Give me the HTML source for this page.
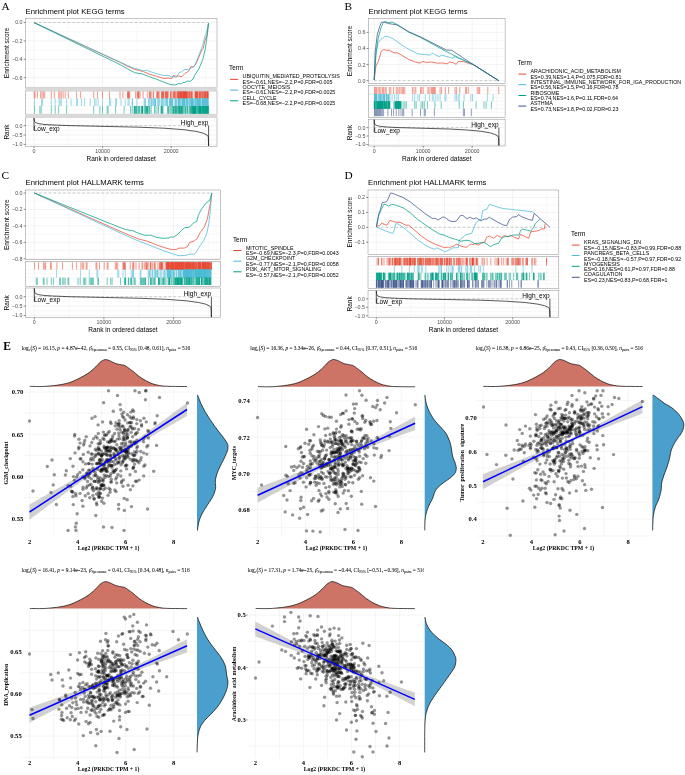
<!DOCTYPE html>
<html lang="en"><head><meta charset="utf-8"><title>Figure</title>
<style>html,body{margin:0;padding:0;background:#fff}svg{display:block}</style></head><body>
<svg width="685" height="775" viewBox="0 0 685 775">
<rect width="685" height="775" fill="#fff"/>
<g font-family="Liberation Sans, Arial, sans-serif">
<text x="1.5" y="9.5" font-size="11.3" font-family="Liberation Serif, Times New Roman, serif" fill="#000">A</text>
<text x="25.6" y="14.2" font-size="7.7" fill="#000">Enrichment plot KEGG terms</text>
<rect x="25.5" y="87.4" width="191.5" height="3.5" fill="#d4d4d4"/>
<rect x="25.5" y="114.2" width="191.5" height="3.5" fill="#d4d4d4"/>
<line x1="34" x2="34" y1="18.3" y2="87.4" stroke="#e6e6e6" stroke-width="0.5"/><line x1="68.3" x2="68.3" y1="18.3" y2="87.4" stroke="#f0f0f0" stroke-width="0.5"/><line x1="102.6" x2="102.6" y1="18.3" y2="87.4" stroke="#e6e6e6" stroke-width="0.5"/><line x1="136.9" x2="136.9" y1="18.3" y2="87.4" stroke="#f0f0f0" stroke-width="0.5"/><line x1="171.2" x2="171.2" y1="18.3" y2="87.4" stroke="#e6e6e6" stroke-width="0.5"/><line x1="205.5" x2="205.5" y1="18.3" y2="87.4" stroke="#f0f0f0" stroke-width="0.5"/><line x1="34" x2="34" y1="90.9" y2="114.2" stroke="#e6e6e6" stroke-width="0.5"/><line x1="68.3" x2="68.3" y1="90.9" y2="114.2" stroke="#f0f0f0" stroke-width="0.5"/><line x1="102.6" x2="102.6" y1="90.9" y2="114.2" stroke="#e6e6e6" stroke-width="0.5"/><line x1="136.9" x2="136.9" y1="90.9" y2="114.2" stroke="#f0f0f0" stroke-width="0.5"/><line x1="171.2" x2="171.2" y1="90.9" y2="114.2" stroke="#e6e6e6" stroke-width="0.5"/><line x1="205.5" x2="205.5" y1="90.9" y2="114.2" stroke="#f0f0f0" stroke-width="0.5"/><line x1="34" x2="34" y1="117.7" y2="146.3" stroke="#e6e6e6" stroke-width="0.5"/><line x1="68.3" x2="68.3" y1="117.7" y2="146.3" stroke="#f0f0f0" stroke-width="0.5"/><line x1="102.6" x2="102.6" y1="117.7" y2="146.3" stroke="#e6e6e6" stroke-width="0.5"/><line x1="136.9" x2="136.9" y1="117.7" y2="146.3" stroke="#f0f0f0" stroke-width="0.5"/><line x1="171.2" x2="171.2" y1="117.7" y2="146.3" stroke="#e6e6e6" stroke-width="0.5"/><line x1="205.5" x2="205.5" y1="117.7" y2="146.3" stroke="#f0f0f0" stroke-width="0.5"/><line x1="25.5" x2="217" y1="22.5" y2="22.5" stroke="#e6e6e6" stroke-width="0.5"/><line x1="25.5" x2="217" y1="31.7" y2="31.7" stroke="#f0f0f0" stroke-width="0.5"/><line x1="25.5" x2="217" y1="40.9" y2="40.9" stroke="#e6e6e6" stroke-width="0.5"/><line x1="25.5" x2="217" y1="50.1" y2="50.1" stroke="#f0f0f0" stroke-width="0.5"/><line x1="25.5" x2="217" y1="59.3" y2="59.3" stroke="#e6e6e6" stroke-width="0.5"/><line x1="25.5" x2="217" y1="68.5" y2="68.5" stroke="#f0f0f0" stroke-width="0.5"/><line x1="25.5" x2="217" y1="77.7" y2="77.7" stroke="#e6e6e6" stroke-width="0.5"/><line x1="25.5" x2="217" y1="86.9" y2="86.9" stroke="#f0f0f0" stroke-width="0.5"/><line x1="25.5" x2="217" y1="120.9" y2="120.9" stroke="#f0f0f0" stroke-width="0.5"/><line x1="25.5" x2="217" y1="125.6" y2="125.6" stroke="#e6e6e6" stroke-width="0.5"/><line x1="25.5" x2="217" y1="130.3" y2="130.3" stroke="#f0f0f0" stroke-width="0.5"/><line x1="25.5" x2="217" y1="135" y2="135" stroke="#e6e6e6" stroke-width="0.5"/><line x1="25.5" x2="217" y1="139.7" y2="139.7" stroke="#f0f0f0" stroke-width="0.5"/><line x1="25.5" x2="217" y1="144.4" y2="144.4" stroke="#e6e6e6" stroke-width="0.5"/><line x1="25.5" x2="217" y1="94.8" y2="94.8" stroke="#f0f0f0" stroke-width="0.5"/><line x1="25.5" x2="217" y1="91.3" y2="91.3" stroke="#ececec" stroke-width="0.4"/><line x1="25.5" x2="217" y1="102.2" y2="102.2" stroke="#f0f0f0" stroke-width="0.5"/><line x1="25.5" x2="217" y1="98.4" y2="98.4" stroke="#ececec" stroke-width="0.4"/><line x1="25.5" x2="217" y1="109.9" y2="109.9" stroke="#f0f0f0" stroke-width="0.5"/><line x1="25.5" x2="217" y1="106" y2="106" stroke="#ececec" stroke-width="0.4"/>
<line x1="34" x2="208.6" y1="22.5" y2="22.5" stroke="#b4b4b4" stroke-width="0.7" stroke-dasharray="2.4 2.4"/>
<line x1="34" x2="208.6" y1="125.6" y2="125.6" stroke="#b4b4b4" stroke-width="0.7" stroke-dasharray="2.4 2.4"/>
<polyline fill="none" stroke="#E64B35" stroke-width="0.75" stroke-linejoin="round" points="34,22.6 120,62.4 127.3,66.1 134.6,69.3 143.4,71.6 149.2,74.1 156.5,76.3 163.8,78.5 168.2,78.1 171.8,78.5 173.3,75.6 176.2,76.3 178.4,76 182,76.6 185,73.4 188.6,71.2 190.8,66.8 193.7,66.8 195.9,63.9 198.8,57.3 201.8,50 203.2,48.3 204.7,41.3 206.9,35.4 208.3,23.8"/>
<polyline fill="none" stroke="#4DBBD5" stroke-width="0.75" stroke-linejoin="round" points="34,22.6 120,62 127.3,65.4 134.6,68.3 143.4,70.8 146.3,70.2 152.1,72.2 158,74.1 163.8,75.6 168.2,75.3 171.8,77 174,76.3 176.2,77.5 179.1,72.7 181.3,71.9 185,69.3 188.6,69.7 191.5,67.8 194.5,66.1 196.6,61 199.6,53.2 202.5,45.9 204.7,36.9 206.1,34 208.3,23.8"/>
<polyline fill="none" stroke="#00A087" stroke-width="0.75" stroke-linejoin="round" points="34,22.6 120,64.6 127.3,68.7 134.6,72.7 141.9,73.8 149.2,76.6 156.5,79.2 163.8,82.2 169.6,84.3 174.7,85.1 178.4,83.6 181.3,83.9 182.8,82.4 185,82.4 187.2,81 190.1,81.4 193,79.2 194.5,75.6 198.8,69 202.5,60.3 205.4,48.6 207.6,32.5 208.6,23"/>
<path d="M127.5 91.3V98.4M129.4 91.3V98.4M135.6 91.3V98.4M127.7 91.3V98.4M128.5 91.3V98.4M129.8 91.3V98.4M122.9 91.3V98.4M128.5 91.3V98.4M149.9 91.3V98.4M153.2 91.3V98.4M138.8 91.3V98.4M143.1 91.3V98.4M138.8 91.3V98.4M153.6 91.3V98.4M151.2 91.3V98.4M137.8 91.3V98.4M157.1 91.3V98.4M156.8 91.3V98.4M150.4 91.3V98.4M149.6 91.3V98.4M140.1 91.3V98.4M137.2 91.3V98.4M147.8 91.3V98.4M138.1 91.3V98.4M161.4 91.3V98.4M162.5 91.3V98.4M158.1 91.3V98.4M167 91.3V98.4M166.5 91.3V98.4M174.8 91.3V98.4M168.2 91.3V98.4M170.7 91.3V98.4M167.8 91.3V98.4M171.1 91.3V98.4M166.9 91.3V98.4M163.2 91.3V98.4M178 91.3V98.4M178 91.3V98.4M174.8 91.3V98.4M172 91.3V98.4M164 91.3V98.4M162.2 91.3V98.4M163.4 91.3V98.4M158.9 91.3V98.4M173.3 91.3V98.4M165.7 91.3V98.4M174.9 91.3V98.4M165.4 91.3V98.4M177.2 91.3V98.4M174.9 91.3V98.4M157.5 91.3V98.4M161.8 91.3V98.4M176.2 91.3V98.4M167.2 91.3V98.4M177.7 91.3V98.4M165.7 91.3V98.4M159 91.3V98.4M170.4 91.3V98.4M173.5 91.3V98.4M163 91.3V98.4M180.7 91.3V98.4M188.2 91.3V98.4M207.5 91.3V98.4M201.2 91.3V98.4M181.7 91.3V98.4M185.6 91.3V98.4M181.1 91.3V98.4M179.9 91.3V98.4M202.4 91.3V98.4M183.5 91.3V98.4M195.1 91.3V98.4M191.7 91.3V98.4M183.9 91.3V98.4M200.4 91.3V98.4M182.1 91.3V98.4M197.7 91.3V98.4M181.6 91.3V98.4M190.9 91.3V98.4M184.6 91.3V98.4M186.3 91.3V98.4M207.7 91.3V98.4M202.6 91.3V98.4M187.3 91.3V98.4M205.1 91.3V98.4M184.5 91.3V98.4M190.1 91.3V98.4M204.1 91.3V98.4M197.7 91.3V98.4M181.1 91.3V98.4M208.3 91.3V98.4M184.6 91.3V98.4M185.9 91.3V98.4M201.6 91.3V98.4M188.1 91.3V98.4M187.1 91.3V98.4M180.3 91.3V98.4M180.8 91.3V98.4M195.8 91.3V98.4M185.5 91.3V98.4M196.4 91.3V98.4M189.4 91.3V98.4M191.9 91.3V98.4M207.3 91.3V98.4M192.8 91.3V98.4M195.6 91.3V98.4M204.5 91.3V98.4M183.6 91.3V98.4M182.8 91.3V98.4M205.8 91.3V98.4M203 91.3V98.4M185.7 91.3V98.4M183.9 91.3V98.4M200.6 91.3V98.4M206.8 91.3V98.4M184.1 91.3V98.4M207.1 91.3V98.4M205 91.3V98.4M196.5 91.3V98.4M190.9 91.3V98.4M181.2 91.3V98.4M179.2 91.3V98.4M207.4 91.3V98.4M185.3 91.3V98.4M199.6 91.3V98.4M185.9 91.3V98.4M203.2 91.3V98.4M196.3 91.3V98.4M187 91.3V98.4M183.4 91.3V98.4M200.1 91.3V98.4M180.2 91.3V98.4M185 91.3V98.4M195.1 91.3V98.4M204.1 91.3V98.4M196.8 91.3V98.4M186.6 91.3V98.4M206.1 91.3V98.4M184.3 91.3V98.4M178.6 91.3V98.4M186.3 91.3V98.4M191.7 91.3V98.4M179.9 91.3V98.4M183.4 91.3V98.4M189.3 91.3V98.4M195.5 91.3V98.4M182.1 91.3V98.4M189.1 91.3V98.4M205.3 91.3V98.4M208 91.3V98.4M198.1 91.3V98.4M199.2 91.3V98.4M195.9 91.3V98.4M182.3 91.3V98.4M179.1 91.3V98.4M178.6 91.3V98.4M205.8 91.3V98.4M199.5 91.3V98.4M207.5 91.3V98.4M178.7 91.3V98.4M197.5 91.3V98.4M34.2 91.3V98.4M35 91.3V98.4M37.3 91.3V98.4M40.6 91.3V98.4M42 91.3V98.4M43.4 91.3V98.4M44.7 91.3V98.4M51.3 91.3V98.4M54.3 91.3V98.4M58.7 91.3V98.4M59.9 91.3V98.4M61.3 91.3V98.4M63.1 91.3V98.4M65.2 91.3V98.4M68.3 91.3V98.4M76.6 91.3V98.4M80.6 91.3V98.4M93.7 91.3V98.4M97.6 91.3V98.4M102.5 91.3V98.4M109.5 91.3V98.4M120 91.3V98.4" stroke="#E64B35" stroke-width="0.65" stroke-opacity="0.85" fill="none"/>
<path d="M128 98.4V106M132.3 98.4V106M125.2 98.4V106M136.9 98.4V106M121 98.4V106M129.1 98.4V106M132.4 98.4V106M155.4 98.4V106M152.1 98.4V106M151.4 98.4V106M153.2 98.4V106M155.7 98.4V106M144.1 98.4V106M151 98.4V106M155.4 98.4V106M154.8 98.4V106M145.5 98.4V106M153.2 98.4V106M154.7 98.4V106M148.7 98.4V106M149.8 98.4V106M144.8 98.4V106M148.9 98.4V106M170 98.4V106M159.1 98.4V106M170.6 98.4V106M177.9 98.4V106M175.6 98.4V106M172.5 98.4V106M165.5 98.4V106M172.6 98.4V106M169.4 98.4V106M166.5 98.4V106M174.7 98.4V106M159.2 98.4V106M172.9 98.4V106M158.1 98.4V106M169.9 98.4V106M167.4 98.4V106M162.2 98.4V106M171.9 98.4V106M167.7 98.4V106M170.1 98.4V106M176.4 98.4V106M162.7 98.4V106M157.7 98.4V106M163.7 98.4V106M171.4 98.4V106M161.6 98.4V106M161 98.4V106M176.1 98.4V106M171.1 98.4V106M166.6 98.4V106M175.8 98.4V106M164.2 98.4V106M198.4 98.4V106M184.1 98.4V106M191.2 98.4V106M202.7 98.4V106M206 98.4V106M204.9 98.4V106M189.8 98.4V106M195.9 98.4V106M187.7 98.4V106M182.2 98.4V106M193.2 98.4V106M203.6 98.4V106M204 98.4V106M199.8 98.4V106M207.1 98.4V106M186.5 98.4V106M183.2 98.4V106M191.8 98.4V106M186.5 98.4V106M184.6 98.4V106M190.7 98.4V106M197.2 98.4V106M193.1 98.4V106M187.7 98.4V106M203.7 98.4V106M208 98.4V106M191.9 98.4V106M180.3 98.4V106M179 98.4V106M204.7 98.4V106M179.3 98.4V106M199.7 98.4V106M195.5 98.4V106M187.5 98.4V106M202.2 98.4V106M178.6 98.4V106M182.2 98.4V106M191.9 98.4V106M178.8 98.4V106M203.4 98.4V106M185.3 98.4V106M182.4 98.4V106M179.5 98.4V106M197.3 98.4V106M191.7 98.4V106M197.3 98.4V106M198.1 98.4V106M202.7 98.4V106M207.3 98.4V106M199 98.4V106M184.1 98.4V106M192.6 98.4V106M183.5 98.4V106M178.4 98.4V106M192.5 98.4V106M199.9 98.4V106M183.5 98.4V106M186.4 98.4V106M188.6 98.4V106M199.3 98.4V106M193.9 98.4V106M196.8 98.4V106M201.1 98.4V106M190.1 98.4V106M202.2 98.4V106M205.7 98.4V106M180.7 98.4V106M206.5 98.4V106M200.1 98.4V106M182 98.4V106M191.9 98.4V106M197.2 98.4V106M205.8 98.4V106M189.6 98.4V106M195.4 98.4V106M204.9 98.4V106M202.4 98.4V106M206.9 98.4V106M192.2 98.4V106M197.9 98.4V106M184.3 98.4V106M200.1 98.4V106M203 98.4V106M197.6 98.4V106M200 98.4V106M184.6 98.4V106M205.5 98.4V106M208 98.4V106M207.9 98.4V106M194.5 98.4V106M34.5 98.4V106M41.5 98.4V106M42.6 98.4V106M51.3 98.4V106M55.2 98.4V106M59 98.4V106M60.1 98.4V106M61.3 98.4V106M66.6 98.4V106M71 98.4V106M76.6 98.4V106M77.6 98.4V106M81.5 98.4V106M84.6 98.4V106M90.2 98.4V106M94.6 98.4V106M96 98.4V106M98.1 98.4V106M102.5 98.4V106M109.5 98.4V106M110.7 98.4V106M115.6 98.4V106M116.5 98.4V106" stroke="#4DBBD5" stroke-width="0.65" stroke-opacity="0.85" fill="none"/>
<path d="M130.6 106V113.8M124.1 106V113.8M132.2 106V113.8M148.1 106V113.8M139.4 106V113.8M134.9 106V113.8M141 106V113.8M142.9 106V113.8M146.6 106V113.8M141.8 106V113.8M134 106V113.8M147.3 106V113.8M134.6 106V113.8M147.2 106V113.8M136.4 106V113.8M139.2 106V113.8M147 106V113.8M135.9 106V113.8M136 106V113.8M142.3 106V113.8M145.9 106V113.8M147.9 106V113.8M145.3 106V113.8M149.7 106V113.8M141.9 106V113.8M149.7 106V113.8M134.9 106V113.8M137.3 106V113.8M142.5 106V113.8M138.4 106V113.8M146 106V113.8M144.4 106V113.8M142.4 106V113.8M168 106V113.8M162.1 106V113.8M157 106V113.8M158.5 106V113.8M168 106V113.8M169.2 106V113.8M154.9 106V113.8M168.1 106V113.8M170.6 106V113.8M161.4 106V113.8M162.4 106V113.8M154.8 106V113.8M161.6 106V113.8M161 106V113.8M163.1 106V113.8M151.2 106V113.8M191.2 106V113.8M181.8 106V113.8M179.4 106V113.8M187.7 106V113.8M182.8 106V113.8M181.3 106V113.8M185.4 106V113.8M172.6 106V113.8M182.3 106V113.8M179.7 106V113.8M190.9 106V113.8M190.2 106V113.8M176.7 106V113.8M180.9 106V113.8M173.8 106V113.8M180.1 106V113.8M188 106V113.8M189.7 106V113.8M181 106V113.8M177.7 106V113.8M175.1 106V113.8M183.9 106V113.8M190.2 106V113.8M173.9 106V113.8M187.2 106V113.8M171.7 106V113.8M175.2 106V113.8M175.9 106V113.8M185.3 106V113.8M177.8 106V113.8M178.5 106V113.8M184 106V113.8M173.4 106V113.8M186.2 106V113.8M173.7 106V113.8M181.7 106V113.8M176.4 106V113.8M175.3 106V113.8M182.1 106V113.8M180.2 106V113.8M178.9 106V113.8M179.7 106V113.8M200.7 106V113.8M194.5 106V113.8M195.2 106V113.8M202.4 106V113.8M202.5 106V113.8M200.7 106V113.8M206.1 106V113.8M202.1 106V113.8M206.2 106V113.8M195.7 106V113.8M204.2 106V113.8M205.4 106V113.8M207 106V113.8M197.1 106V113.8M197.1 106V113.8M207.3 106V113.8M195.4 106V113.8M208.6 106V113.8M206.7 106V113.8M194 106V113.8M195.8 106V113.8M204 106V113.8M196.1 106V113.8M193.4 106V113.8M205.8 106V113.8M198.9 106V113.8M205.1 106V113.8M193.9 106V113.8M198.5 106V113.8M203.3 106V113.8M192.1 106V113.8M195.2 106V113.8M203.2 106V113.8M207.1 106V113.8M208.1 106V113.8M193.7 106V113.8M200.3 106V113.8M204.5 106V113.8M200.2 106V113.8M203.3 106V113.8M195 106V113.8M193 106V113.8M193.6 106V113.8M192.4 106V113.8M201.1 106V113.8M200.4 106V113.8M201.3 106V113.8M194.2 106V113.8M194.9 106V113.8M195.2 106V113.8M205.9 106V113.8M208.4 106V113.8M207.4 106V113.8M193.4 106V113.8M192.8 106V113.8M207.8 106V113.8M199.5 106V113.8M204.6 106V113.8M197.3 106V113.8M199.6 106V113.8M200.4 106V113.8M199 106V113.8M201.9 106V113.8M192 106V113.8M203.6 106V113.8M206 106V113.8M194.8 106V113.8M199.4 106V113.8M204.2 106V113.8M198.6 106V113.8M195.1 106V113.8M194.6 106V113.8M200.4 106V113.8M192 106V113.8M206.8 106V113.8M34.5 106V113.8M39.9 106V113.8M41.2 106V113.8M51.3 106V113.8M55.2 106V113.8M58.7 106V113.8M66.6 106V113.8M93.7 106V113.8M99.9 106V113.8M102.5 106V113.8M107.2 106V113.8M108.1 106V113.8M115.6 106V113.8" stroke="#00A087" stroke-width="0.65" stroke-opacity="0.85" fill="none"/>
<polyline fill="none" stroke="#111" stroke-width="0.7" points="34,130.3 34,118 34.3,120 34.7,121.5 35.5,122.6 38,123.5 43,124.3 52,124.9 69,125.6 104,126.4 139,127.2 164,128.2 184,129.7 196,131.4 203,133.1 207,135 208.3,136.9 208.6,146 208.6,125.6"/>
<text x="33.7" y="130.7" font-size="6.5" fill="#000">Low_exp</text>
<text x="208.3" y="125.2" font-size="6.5" fill="#000" text-anchor="end">High_exp</text>
<rect x="25.5" y="18.3" width="191.5" height="69.1" fill="none" stroke="#8a8a8a" stroke-width="0.5"/>
<rect x="25.5" y="90.9" width="191.5" height="23.3" fill="none" stroke="#8a8a8a" stroke-width="0.5"/>
<rect x="25.5" y="117.7" width="191.5" height="28.6" fill="none" stroke="#8a8a8a" stroke-width="0.5"/>
<rect x="25.2" y="87.1" width="192.1" height="4.1" fill="#d9d9d9"/>
<rect x="25.2" y="113.9" width="192.1" height="4.1" fill="#d9d9d9"/>
<line x1="23.6" x2="25.5" y1="22.5" y2="22.5" stroke="#333" stroke-width="0.55"/><text x="22.5" y="24.4" font-size="5.3" fill="#4d4d4d" text-anchor="end">0.0</text><line x1="23.6" x2="25.5" y1="40.9" y2="40.9" stroke="#333" stroke-width="0.55"/><text x="22.5" y="42.8" font-size="5.3" fill="#4d4d4d" text-anchor="end">−0.2</text><line x1="23.6" x2="25.5" y1="59.3" y2="59.3" stroke="#333" stroke-width="0.55"/><text x="22.5" y="61.2" font-size="5.3" fill="#4d4d4d" text-anchor="end">−0.4</text><line x1="23.6" x2="25.5" y1="77.7" y2="77.7" stroke="#333" stroke-width="0.55"/><text x="22.5" y="79.6" font-size="5.3" fill="#4d4d4d" text-anchor="end">−0.6</text><line x1="23.6" x2="25.5" y1="125.6" y2="125.6" stroke="#333" stroke-width="0.55"/><text x="22.5" y="127.5" font-size="5.3" fill="#4d4d4d" text-anchor="end">0.0</text><line x1="23.6" x2="25.5" y1="135" y2="135" stroke="#333" stroke-width="0.55"/><text x="22.5" y="136.9" font-size="5.3" fill="#4d4d4d" text-anchor="end">−0.5</text><line x1="23.6" x2="25.5" y1="144.4" y2="144.4" stroke="#333" stroke-width="0.55"/><text x="22.5" y="146.3" font-size="5.3" fill="#4d4d4d" text-anchor="end">−1.0</text><line x1="34" x2="34" y1="146.3" y2="148.2" stroke="#333" stroke-width="0.55"/><text x="34" y="153" font-size="5.3" fill="#4d4d4d" text-anchor="middle">0</text><line x1="102.6" x2="102.6" y1="146.3" y2="148.2" stroke="#333" stroke-width="0.55"/><text x="102.6" y="153" font-size="5.3" fill="#4d4d4d" text-anchor="middle">10000</text><line x1="171.2" x2="171.2" y1="146.3" y2="148.2" stroke="#333" stroke-width="0.55"/><text x="171.2" y="153" font-size="5.3" fill="#4d4d4d" text-anchor="middle">20000</text>
<text x="121.2" y="160.9" font-size="6.5" fill="#000" text-anchor="middle">Rank in ordered dataset</text>
<text transform="translate(9 52.9) rotate(-90)" font-size="6.5" fill="#000" text-anchor="middle">Enrichment score</text>
<text transform="translate(9 132) rotate(-90)" font-size="6.5" fill="#000" text-anchor="middle">Rank</text>
<text x="229" y="70" font-size="6.4" fill="#000">Term</text>
<line x1="230" x2="238.2" y1="79.4" y2="79.4" stroke="#E64B35" stroke-width="1"/>
<text x="242.6" y="78.4" font-size="5.33" fill="#000">UBIQUITIN_MEDIATED_PROTEOLYSIS</text>
<text x="242.6" y="83.7" font-size="5.33" fill="#000">ES=−0.61,NES=−2.2,P=0,FDR=0.005</text>
<line x1="230" x2="238.2" y1="90.1" y2="90.1" stroke="#4DBBD5" stroke-width="1"/>
<text x="242.6" y="88.9" font-size="5.33" fill="#000">OOCYTE_MEIOSIS</text>
<text x="242.6" y="94.4" font-size="5.33" fill="#000">ES=−0.61,NES=−2.2,P=0,FDR=0.0025</text>
<line x1="230" x2="238.2" y1="100.8" y2="100.8" stroke="#00A087" stroke-width="1"/>
<text x="242.6" y="99.6" font-size="5.33" fill="#000">CELL_CYCLE</text>
<text x="242.6" y="105" font-size="5.33" fill="#000">ES=−0.68,NES=−2.2,P=0,FDR=0.0025</text>
</g>
<g font-family="Liberation Sans, Arial, sans-serif">
<text x="344.5" y="9.5" font-size="11.3" font-family="Liberation Serif, Times New Roman, serif" fill="#000">B</text>
<text x="368.5" y="14.2" font-size="7.7" fill="#000">Enrichment plot KEGG terms</text>
<line x1="374.2" x2="374.2" y1="18.3" y2="83.4" stroke="#e6e6e6" stroke-width="0.5"/><line x1="398.7" x2="398.7" y1="18.3" y2="83.4" stroke="#f0f0f0" stroke-width="0.5"/><line x1="423.2" x2="423.2" y1="18.3" y2="83.4" stroke="#e6e6e6" stroke-width="0.5"/><line x1="447.7" x2="447.7" y1="18.3" y2="83.4" stroke="#f0f0f0" stroke-width="0.5"/><line x1="472.2" x2="472.2" y1="18.3" y2="83.4" stroke="#e6e6e6" stroke-width="0.5"/><line x1="496.7" x2="496.7" y1="18.3" y2="83.4" stroke="#f0f0f0" stroke-width="0.5"/><line x1="374.2" x2="374.2" y1="85.2" y2="117.6" stroke="#e6e6e6" stroke-width="0.5"/><line x1="398.7" x2="398.7" y1="85.2" y2="117.6" stroke="#f0f0f0" stroke-width="0.5"/><line x1="423.2" x2="423.2" y1="85.2" y2="117.6" stroke="#e6e6e6" stroke-width="0.5"/><line x1="447.7" x2="447.7" y1="85.2" y2="117.6" stroke="#f0f0f0" stroke-width="0.5"/><line x1="472.2" x2="472.2" y1="85.2" y2="117.6" stroke="#e6e6e6" stroke-width="0.5"/><line x1="496.7" x2="496.7" y1="85.2" y2="117.6" stroke="#f0f0f0" stroke-width="0.5"/><line x1="374.2" x2="374.2" y1="119.2" y2="146" stroke="#e6e6e6" stroke-width="0.5"/><line x1="398.7" x2="398.7" y1="119.2" y2="146" stroke="#f0f0f0" stroke-width="0.5"/><line x1="423.2" x2="423.2" y1="119.2" y2="146" stroke="#e6e6e6" stroke-width="0.5"/><line x1="447.7" x2="447.7" y1="119.2" y2="146" stroke="#f0f0f0" stroke-width="0.5"/><line x1="472.2" x2="472.2" y1="119.2" y2="146" stroke="#e6e6e6" stroke-width="0.5"/><line x1="496.7" x2="496.7" y1="119.2" y2="146" stroke="#f0f0f0" stroke-width="0.5"/><line x1="368.4" x2="505.1" y1="24.4" y2="24.4" stroke="#f0f0f0" stroke-width="0.5"/><line x1="368.4" x2="505.1" y1="32.4" y2="32.4" stroke="#e6e6e6" stroke-width="0.5"/><line x1="368.4" x2="505.1" y1="40.5" y2="40.5" stroke="#f0f0f0" stroke-width="0.5"/><line x1="368.4" x2="505.1" y1="48.5" y2="48.5" stroke="#e6e6e6" stroke-width="0.5"/><line x1="368.4" x2="505.1" y1="56.5" y2="56.5" stroke="#f0f0f0" stroke-width="0.5"/><line x1="368.4" x2="505.1" y1="64.5" y2="64.5" stroke="#e6e6e6" stroke-width="0.5"/><line x1="368.4" x2="505.1" y1="72.6" y2="72.6" stroke="#f0f0f0" stroke-width="0.5"/><line x1="368.4" x2="505.1" y1="80.6" y2="80.6" stroke="#e6e6e6" stroke-width="0.5"/><line x1="368.4" x2="505.1" y1="123.4" y2="123.4" stroke="#f0f0f0" stroke-width="0.5"/><line x1="368.4" x2="505.1" y1="127.6" y2="127.6" stroke="#e6e6e6" stroke-width="0.5"/><line x1="368.4" x2="505.1" y1="131.8" y2="131.8" stroke="#f0f0f0" stroke-width="0.5"/><line x1="368.4" x2="505.1" y1="136" y2="136" stroke="#e6e6e6" stroke-width="0.5"/><line x1="368.4" x2="505.1" y1="140.3" y2="140.3" stroke="#f0f0f0" stroke-width="0.5"/><line x1="368.4" x2="505.1" y1="144.5" y2="144.5" stroke="#e6e6e6" stroke-width="0.5"/><line x1="368.4" x2="505.1" y1="90.5" y2="90.5" stroke="#f0f0f0" stroke-width="0.5"/><line x1="368.4" x2="505.1" y1="87" y2="87" stroke="#ececec" stroke-width="0.4"/><line x1="368.4" x2="505.1" y1="97.7" y2="97.7" stroke="#f0f0f0" stroke-width="0.5"/><line x1="368.4" x2="505.1" y1="94" y2="94" stroke="#ececec" stroke-width="0.4"/><line x1="368.4" x2="505.1" y1="105" y2="105" stroke="#f0f0f0" stroke-width="0.5"/><line x1="368.4" x2="505.1" y1="101.3" y2="101.3" stroke="#ececec" stroke-width="0.4"/><line x1="368.4" x2="505.1" y1="112.5" y2="112.5" stroke="#f0f0f0" stroke-width="0.5"/><line x1="368.4" x2="505.1" y1="108.7" y2="108.7" stroke="#ececec" stroke-width="0.4"/>
<line x1="374.2" x2="498.9" y1="80.6" y2="80.6" stroke="#b4b4b4" stroke-width="0.7" stroke-dasharray="2.4 2.4"/>
<line x1="374.2" x2="498.9" y1="127.6" y2="127.6" stroke="#b4b4b4" stroke-width="0.7" stroke-dasharray="2.4 2.4"/>
<polyline fill="none" stroke="#E64B35" stroke-width="0.75" stroke-linejoin="round" points="374.2,80 375.9,66.1 378.1,61.7 379.6,57.3 381.1,51.5 383.2,49.7 386.9,50.3 389.1,50 394.2,53 397.1,52.7 401.5,55.1 408.8,59.5 414.6,61.7 420,63.2 422.9,61.4 425.8,62.4 431.7,62 437.5,63.2 441.9,62.9 447,63.9 449.9,62 453.6,62.9 456.2,64.3 458.2,61.4 463.8,61.7 468.2,63.2 473.3,64.6 498.8,80.7"/>
<polyline fill="none" stroke="#4DBBD5" stroke-width="0.75" stroke-linejoin="round" points="374.2,80 375.9,51.5 378.1,42.7 381.1,39.1 383.2,37.6 385.4,36.2 389.1,36.9 394.2,39.5 401.5,44.9 408.8,49.3 417.6,53.7 420,54.1 425.8,54.7 430.2,55.1 432.4,53.2 434.6,54.4 439,56.6 441.9,55.1 445.5,56.2 450.7,57.6 452.8,58.5 453.9,56.5 463.8,60.3 473.3,64.6 498.8,80.7"/>
<polyline fill="none" stroke="#00A087" stroke-width="0.75" stroke-linejoin="round" points="374.2,80 375.9,55.9 378.1,38.4 381.1,27.4 382.8,23.5 384.7,21.6 388.4,22.6 392,22 397.1,24.5 408.8,32.2 420,37.2 446.3,51.5 463.8,60.3 469.6,62.9 473.3,64.6 498.8,80.7"/>
<polyline fill="none" stroke="#3C5488" stroke-width="0.75" stroke-linejoin="round" points="374.2,80 375.2,51.5 377.4,34 379.6,26.7 381.4,22.3 384,22 388.4,23.5 397.1,24.9 408.8,31.8 420,36.6 446.3,50 451.8,50.3 462.3,57.3 473.3,64.6 498.8,80.7"/>
<path d="M374.5 87V94M375.6 87V94M376.6 87V94M378.1 87V94M379.4 87V94M380.9 87V94M382.4 87V94M383.6 87V94M385.1 87V94M386.2 87V94M389.3 87V94M390.8 87V94M393.6 87V94M396.3 87V94M397.8 87V94M399.3 87V94M401 87V94M402.3 87V94M403.5 87V94M404.8 87V94M412.6 87V94M414.1 87V94M415.8 87V94M420.5 87V94M421.7 87V94M423.2 87V94M427.9 87V94M429.1 87V94M431 87V94M431.9 87V94M432.7 87V94M433.6 87V94M434.4 87V94M435.3 87V94M440.1 87V94M441.6 87V94M445.4 87V94M448.6 87V94M455 87V94M456.4 87V94M459.8 87V94M465.6 87V94M466.6 87V94M468.3 87V94M477.2 87V94M478.7 87V94M479.7 87V94M487.8 87V94M498.8 87V94" stroke="#E64B35" stroke-width="0.65" stroke-opacity="0.85" fill="none"/>
<path d="M381.4 94V101.3M384.2 94V101.3M384.3 94V101.3M376.4 94V101.3M374.4 94V101.3M379.9 94V101.3M378.4 94V101.3M386.5 94V101.3M384.7 94V101.3M383.3 94V101.3M382.7 94V101.3M384.2 94V101.3M376.4 94V101.3M380.9 94V101.3M376.7 94V101.3M388 94V101.3M375.1 94V101.3M386.6 94V101.3M375.3 94V101.3M384.6 94V101.3M379.3 94V101.3M380.3 94V101.3M387 94V101.3M374.5 94V101.3M375.1 94V101.3M388.1 94V101.3M381.9 94V101.3M375.6 94V101.3M389.2 94V101.3M388.6 94V101.3M375.9 94V101.3M380.6 94V101.3M376.3 94V101.3M378.9 94V101.3M383.6 94V101.3M376.7 94V101.3M384.8 94V101.3M375 94V101.3M376.8 94V101.3M386.6 94V101.3M388.3 94V101.3M390 94V101.3M392.1 94V101.3M394.6 94V101.3M396.8 94V101.3M398.4 94V101.3M412.6 94V101.3M414.7 94V101.3M417.9 94V101.3M419.6 94V101.3M425.3 94V101.3M429.6 94V101.3M432.3 94V101.3M433.8 94V101.3M435.9 94V101.3M438 94V101.3M440.1 94V101.3M445 94V101.3M445.9 94V101.3M455 94V101.3M456.4 94V101.3M458.1 94V101.3M459.2 94V101.3M464.1 94V101.3M470.8 94V101.3M472.5 94V101.3M487.4 94V101.3M493.1 94V101.3" stroke="#4DBBD5" stroke-width="0.65" stroke-opacity="0.85" fill="none"/>
<path d="M380.5 101.3V108.7M380.8 101.3V108.7M383.5 101.3V108.7M381.7 101.3V108.7M380.2 101.3V108.7M374.7 101.3V108.7M385.6 101.3V108.7M389.4 101.3V108.7M389.5 101.3V108.7M384.6 101.3V108.7M379.8 101.3V108.7M379.9 101.3V108.7M385 101.3V108.7M384.8 101.3V108.7M376 101.3V108.7M377.9 101.3V108.7M379.9 101.3V108.7M382.2 101.3V108.7M386.9 101.3V108.7M382 101.3V108.7M374.6 101.3V108.7M387.1 101.3V108.7M380.9 101.3V108.7M382.3 101.3V108.7M377.7 101.3V108.7M380.9 101.3V108.7M380.3 101.3V108.7M386.3 101.3V108.7M375.8 101.3V108.7M382.8 101.3V108.7M377 101.3V108.7M385.1 101.3V108.7M374.8 101.3V108.7M378.5 101.3V108.7M379.6 101.3V108.7M384.2 101.3V108.7M375 101.3V108.7M381.4 101.3V108.7M377.5 101.3V108.7M378.6 101.3V108.7M381.7 101.3V108.7M389.2 101.3V108.7M381.7 101.3V108.7M389.2 101.3V108.7M376.8 101.3V108.7M388.7 101.3V108.7M379.9 101.3V108.7M377.2 101.3V108.7M385.9 101.3V108.7M388.5 101.3V108.7M374.3 101.3V108.7M378.4 101.3V108.7M386.3 101.3V108.7M379.6 101.3V108.7M378 101.3V108.7M374.3 101.3V108.7M374.8 101.3V108.7M383.9 101.3V108.7M389.6 101.3V108.7M389.9 101.3V108.7M382.1 101.3V108.7M374.6 101.3V108.7M379.3 101.3V108.7M386.5 101.3V108.7M387.2 101.3V108.7M384.2 101.3V108.7M377.8 101.3V108.7M382.5 101.3V108.7M381.7 101.3V108.7M384 101.3V108.7M378.3 101.3V108.7M389 101.3V108.7M388.2 101.3V108.7M376.7 101.3V108.7M378.8 101.3V108.7M387.9 101.3V108.7M378.6 101.3V108.7M389 101.3V108.7M382.3 101.3V108.7M385.1 101.3V108.7M398.6 101.3V108.7M395.3 101.3V108.7M395.8 101.3V108.7M395.5 101.3V108.7M398.5 101.3V108.7M398.6 101.3V108.7M394.7 101.3V108.7M399.9 101.3V108.7M396.7 101.3V108.7M395.5 101.3V108.7M396.8 101.3V108.7M400.5 101.3V108.7M397.6 101.3V108.7M398.1 101.3V108.7M400.1 101.3V108.7M400.4 101.3V108.7M399 101.3V108.7M396.7 101.3V108.7M397.8 101.3V108.7M400 101.3V108.7M399.2 101.3V108.7M397.8 101.3V108.7M396.2 101.3V108.7M396.3 101.3V108.7M398.8 101.3V108.7M397.7 101.3V108.7M393.9 101.3V108.7M398.7 101.3V108.7M400 101.3V108.7M399.3 101.3V108.7M396.8 101.3V108.7M398.4 101.3V108.7M399.9 101.3V108.7M401.4 101.3V108.7M403.1 101.3V108.7M404.8 101.3V108.7M406.3 101.3V108.7M414.7 101.3V108.7M416.2 101.3V108.7M421.1 101.3V108.7M422.6 101.3V108.7M424.3 101.3V108.7M427.4 101.3V108.7M434.9 101.3V108.7M441.2 101.3V108.7M459.2 101.3V108.7M463.4 101.3V108.7M476.1 101.3V108.7M484 101.3V108.7M486.1 101.3V108.7M491.4 101.3V108.7" stroke="#00A087" stroke-width="0.65" stroke-opacity="0.85" fill="none"/>
<path d="M374.5 108.7V116.2M375.2 108.7V116.2M375.8 108.7V116.2M376.6 108.7V116.2M377.3 108.7V116.2M378.1 108.7V116.2M378.8 108.7V116.2M379.6 108.7V116.2M380.5 108.7V116.2M381.3 108.7V116.2M382.4 108.7V116.2M383.6 108.7V116.2M387.9 108.7V116.2M391.5 108.7V116.2M393.6 108.7V116.2M396.3 108.7V116.2M398.9 108.7V116.2M401 108.7V116.2M402.7 108.7V116.2M403.7 108.7V116.2M412.2 108.7V116.2M420.5 108.7V116.2M424.3 108.7V116.2M425.3 108.7V116.2M434.4 108.7V116.2M463.4 108.7V116.2M464.5 108.7V116.2M471.3 108.7V116.2" stroke="#3C5488" stroke-width="0.65" stroke-opacity="0.85" fill="none"/>
<polyline fill="none" stroke="#111" stroke-width="0.7" points="374.2,131.8 374.2,119.5 374.4,122.5 374.7,123.9 375.3,124.9 377.1,125.7 380.6,126.4 387.1,127 399.2,127.6 424.2,128.3 449.2,129 467.1,130 481.3,131.3 489.9,132.8 494.9,134.4 497.8,136 498.6,137.7 498.9,145.7 498.9,127.6"/>
<text x="373.9" y="132.7" font-size="6.5" fill="#000">Low_exp</text>
<text x="498.6" y="127.2" font-size="6.5" fill="#000" text-anchor="end">High_exp</text>
<rect x="368.4" y="18.3" width="136.7" height="65.1" fill="none" stroke="#8a8a8a" stroke-width="0.5"/>
<rect x="368.4" y="85.2" width="136.7" height="32.4" fill="none" stroke="#8a8a8a" stroke-width="0.5"/>
<rect x="368.4" y="119.2" width="136.7" height="26.8" fill="none" stroke="#8a8a8a" stroke-width="0.5"/>
<line x1="366.5" x2="368.4" y1="80.6" y2="80.6" stroke="#333" stroke-width="0.55"/><text x="365.4" y="82.5" font-size="5.3" fill="#4d4d4d" text-anchor="end">0.0</text><line x1="366.5" x2="368.4" y1="64.5" y2="64.5" stroke="#333" stroke-width="0.55"/><text x="365.4" y="66.5" font-size="5.3" fill="#4d4d4d" text-anchor="end">0.2</text><line x1="366.5" x2="368.4" y1="48.5" y2="48.5" stroke="#333" stroke-width="0.55"/><text x="365.4" y="50.4" font-size="5.3" fill="#4d4d4d" text-anchor="end">0.4</text><line x1="366.5" x2="368.4" y1="32.4" y2="32.4" stroke="#333" stroke-width="0.55"/><text x="365.4" y="34.3" font-size="5.3" fill="#4d4d4d" text-anchor="end">0.6</text><line x1="366.5" x2="368.4" y1="127.6" y2="127.6" stroke="#333" stroke-width="0.55"/><text x="365.4" y="129.5" font-size="5.3" fill="#4d4d4d" text-anchor="end">0.0</text><line x1="366.5" x2="368.4" y1="136" y2="136" stroke="#333" stroke-width="0.55"/><text x="365.4" y="137.9" font-size="5.3" fill="#4d4d4d" text-anchor="end">−0.5</text><line x1="366.5" x2="368.4" y1="144.5" y2="144.5" stroke="#333" stroke-width="0.55"/><text x="365.4" y="146.4" font-size="5.3" fill="#4d4d4d" text-anchor="end">−1.0</text><line x1="374.2" x2="374.2" y1="146" y2="147.9" stroke="#333" stroke-width="0.55"/><text x="374.2" y="152.7" font-size="5.3" fill="#4d4d4d" text-anchor="middle">0</text><line x1="423.2" x2="423.2" y1="146" y2="147.9" stroke="#333" stroke-width="0.55"/><text x="423.2" y="152.7" font-size="5.3" fill="#4d4d4d" text-anchor="middle">10000</text><line x1="472.2" x2="472.2" y1="146" y2="147.9" stroke="#333" stroke-width="0.55"/><text x="472.2" y="152.7" font-size="5.3" fill="#4d4d4d" text-anchor="middle">20000</text>
<text x="436.8" y="160.6" font-size="6.5" fill="#000" text-anchor="middle">Rank in ordered dataset</text>
<text transform="translate(352 50.9) rotate(-90)" font-size="6.5" fill="#000" text-anchor="middle">Enrichment score</text>
<text transform="translate(352 132.6) rotate(-90)" font-size="6.5" fill="#000" text-anchor="middle">Rank</text>
<text x="517.6" y="64.7" font-size="6.4" fill="#000">Term</text>
<line x1="518.4" x2="526.2" y1="74.1" y2="74.1" stroke="#E64B35" stroke-width="1"/>
<text x="530.5" y="73" font-size="5.33" fill="#000">ARACHIDONIC_ACID_METABOLISM</text>
<text x="530.5" y="78.9" font-size="5.33" fill="#000">ES=0.39,NES=1.4,P=0.075,FDR=0.81</text>
<line x1="518.4" x2="526.2" y1="84.7" y2="84.7" stroke="#4DBBD5" stroke-width="1"/>
<text x="530.5" y="84.2" font-size="5.33" fill="#000">INTESTINAL_IMMUNE_NETWORK_FOR_IGA_PRODUCTION</text>
<text x="530.5" y="88.9" font-size="5.33" fill="#000">ES=0.56,NES=1.5,P=0.16,FDR=0.78</text>
<line x1="518.4" x2="526.2" y1="95.5" y2="95.5" stroke="#00A087" stroke-width="1"/>
<text x="530.5" y="94.7" font-size="5.33" fill="#000">RIBOSOME</text>
<text x="530.5" y="99.7" font-size="5.33" fill="#000">ES=0.74,NES=1.6,P=0.11,FDR=0.64</text>
<line x1="518.4" x2="526.2" y1="106.1" y2="106.1" stroke="#3C5488" stroke-width="1"/>
<text x="530.5" y="104.9" font-size="5.33" fill="#000">ASTHMA</text>
<text x="530.5" y="110.8" font-size="5.33" fill="#000">ES=0.73,NES=1.8,P=0.02,FDR=0.23</text>
</g>
<g font-family="Liberation Sans, Arial, sans-serif">
<text x="1.5" y="178.5" font-size="11.3" font-family="Liberation Serif, Times New Roman, serif" fill="#000">C</text>
<text x="25.6" y="184.8" font-size="7.7" fill="#000">Enrichment plot HALLMARK terms</text>
<line x1="34.3" x2="34.3" y1="190" y2="259.4" stroke="#e6e6e6" stroke-width="0.5"/><line x1="69.1" x2="69.1" y1="190" y2="259.4" stroke="#f0f0f0" stroke-width="0.5"/><line x1="103.9" x2="103.9" y1="190" y2="259.4" stroke="#e6e6e6" stroke-width="0.5"/><line x1="138.7" x2="138.7" y1="190" y2="259.4" stroke="#f0f0f0" stroke-width="0.5"/><line x1="173.5" x2="173.5" y1="190" y2="259.4" stroke="#e6e6e6" stroke-width="0.5"/><line x1="208.3" x2="208.3" y1="190" y2="259.4" stroke="#f0f0f0" stroke-width="0.5"/><line x1="34.3" x2="34.3" y1="261.4" y2="286.3" stroke="#e6e6e6" stroke-width="0.5"/><line x1="69.1" x2="69.1" y1="261.4" y2="286.3" stroke="#f0f0f0" stroke-width="0.5"/><line x1="103.9" x2="103.9" y1="261.4" y2="286.3" stroke="#e6e6e6" stroke-width="0.5"/><line x1="138.7" x2="138.7" y1="261.4" y2="286.3" stroke="#f0f0f0" stroke-width="0.5"/><line x1="173.5" x2="173.5" y1="261.4" y2="286.3" stroke="#e6e6e6" stroke-width="0.5"/><line x1="208.3" x2="208.3" y1="261.4" y2="286.3" stroke="#f0f0f0" stroke-width="0.5"/><line x1="34.3" x2="34.3" y1="288" y2="317.5" stroke="#e6e6e6" stroke-width="0.5"/><line x1="69.1" x2="69.1" y1="288" y2="317.5" stroke="#f0f0f0" stroke-width="0.5"/><line x1="103.9" x2="103.9" y1="288" y2="317.5" stroke="#e6e6e6" stroke-width="0.5"/><line x1="138.7" x2="138.7" y1="288" y2="317.5" stroke="#f0f0f0" stroke-width="0.5"/><line x1="173.5" x2="173.5" y1="288" y2="317.5" stroke="#e6e6e6" stroke-width="0.5"/><line x1="208.3" x2="208.3" y1="288" y2="317.5" stroke="#f0f0f0" stroke-width="0.5"/><line x1="25.5" x2="220.4" y1="193" y2="193" stroke="#e6e6e6" stroke-width="0.5"/><line x1="25.5" x2="220.4" y1="201.2" y2="201.2" stroke="#f0f0f0" stroke-width="0.5"/><line x1="25.5" x2="220.4" y1="209.4" y2="209.4" stroke="#e6e6e6" stroke-width="0.5"/><line x1="25.5" x2="220.4" y1="217.7" y2="217.7" stroke="#f0f0f0" stroke-width="0.5"/><line x1="25.5" x2="220.4" y1="225.9" y2="225.9" stroke="#e6e6e6" stroke-width="0.5"/><line x1="25.5" x2="220.4" y1="234.1" y2="234.1" stroke="#f0f0f0" stroke-width="0.5"/><line x1="25.5" x2="220.4" y1="242.3" y2="242.3" stroke="#e6e6e6" stroke-width="0.5"/><line x1="25.5" x2="220.4" y1="250.6" y2="250.6" stroke="#f0f0f0" stroke-width="0.5"/><line x1="25.5" x2="220.4" y1="258.8" y2="258.8" stroke="#e6e6e6" stroke-width="0.5"/><line x1="25.5" x2="220.4" y1="292" y2="292" stroke="#f0f0f0" stroke-width="0.5"/><line x1="25.5" x2="220.4" y1="296.7" y2="296.7" stroke="#e6e6e6" stroke-width="0.5"/><line x1="25.5" x2="220.4" y1="301.4" y2="301.4" stroke="#f0f0f0" stroke-width="0.5"/><line x1="25.5" x2="220.4" y1="306.1" y2="306.1" stroke="#e6e6e6" stroke-width="0.5"/><line x1="25.5" x2="220.4" y1="310.8" y2="310.8" stroke="#f0f0f0" stroke-width="0.5"/><line x1="25.5" x2="220.4" y1="315.5" y2="315.5" stroke="#e6e6e6" stroke-width="0.5"/><line x1="25.5" x2="220.4" y1="266" y2="266" stroke="#f0f0f0" stroke-width="0.5"/><line x1="25.5" x2="220.4" y1="262.3" y2="262.3" stroke="#ececec" stroke-width="0.4"/><line x1="25.5" x2="220.4" y1="273.6" y2="273.6" stroke="#f0f0f0" stroke-width="0.5"/><line x1="25.5" x2="220.4" y1="269.6" y2="269.6" stroke="#ececec" stroke-width="0.4"/><line x1="25.5" x2="220.4" y1="281.4" y2="281.4" stroke="#f0f0f0" stroke-width="0.5"/><line x1="25.5" x2="220.4" y1="277.7" y2="277.7" stroke="#ececec" stroke-width="0.4"/>
<line x1="34.3" x2="211.4" y1="193" y2="193" stroke="#b4b4b4" stroke-width="0.7" stroke-dasharray="2.4 2.4"/>
<line x1="34.3" x2="211.4" y1="296.7" y2="296.7" stroke="#b4b4b4" stroke-width="0.7" stroke-dasharray="2.4 2.4"/>
<polyline fill="none" stroke="#E64B35" stroke-width="0.75" stroke-linejoin="round" points="34.3,193 120,231.2 129.2,235.2 138.4,238.9 147.6,241.3 156.8,245 166,248.1 172.1,249.6 176.7,249.3 179,248.1 184.4,248.1 187.4,246.6 189.7,242.4 194.3,240.9 197.4,238.3 199.7,233.2 204.3,227.1 207.4,218.7 209.7,206.4 211.2,198.7 211.7,192.9"/>
<polyline fill="none" stroke="#4DBBD5" stroke-width="0.75" stroke-linejoin="round" points="34.3,193 120,232.8 129.2,237 138.4,240.9 147.6,244.4 156.8,248.1 166,251.6 173.6,254.2 179,255.7 185.9,255.4 189,254.2 194.3,254.2 196.6,251.6 199.7,246.2 203.5,240.9 206.6,234 208.9,223.3 210.4,209.5 211.7,192.9"/>
<polyline fill="none" stroke="#00A087" stroke-width="0.75" stroke-linejoin="round" points="34.3,193 120,227.5 126.1,229.7 132.3,230.6 138.4,233.2 144.5,235.2 150.7,235.2 156.8,237.4 162.9,238.3 169,238 170.6,237 173.6,237 178.2,234 181.3,230.6 184.4,227.9 189.7,227.1 192.8,223.6 195.1,222 196.6,221.7 198.2,215.6 201.2,209.5 205.8,203.3 209.7,200.3 210.7,197.2 211.7,192.9"/>
<path d="M125.3 262.3V269.6M133 262.3V269.6M133 262.3V269.6M136 262.3V269.6M124 262.3V269.6M124.8 262.3V269.6M123.3 262.3V269.6M124.7 262.3V269.6M133.9 262.3V269.6M123 262.3V269.6M130.2 262.3V269.6M144.7 262.3V269.6M146.9 262.3V269.6M150.7 262.3V269.6M162 262.3V269.6M155.6 262.3V269.6M139.1 262.3V269.6M146.4 262.3V269.6M142.8 262.3V269.6M163 262.3V269.6M161.2 262.3V269.6M161.1 262.3V269.6M161.7 262.3V269.6M159.4 262.3V269.6M165.1 262.3V269.6M160.8 262.3V269.6M145.8 262.3V269.6M162.4 262.3V269.6M152.3 262.3V269.6M159.7 262.3V269.6M154.4 262.3V269.6M150.7 262.3V269.6M148.8 262.3V269.6M150.7 262.3V269.6M147.4 262.3V269.6M142 262.3V269.6M161.5 262.3V269.6M160.9 262.3V269.6M166.1 262.3V269.6M157.9 262.3V269.6M154.1 262.3V269.6M200.1 262.3V269.6M172.6 262.3V269.6M196.9 262.3V269.6M186.4 262.3V269.6M174.5 262.3V269.6M175.6 262.3V269.6M190 262.3V269.6M177.9 262.3V269.6M187.2 262.3V269.6M193.7 262.3V269.6M184.3 262.3V269.6M172.4 262.3V269.6M188.6 262.3V269.6M177.1 262.3V269.6M177.1 262.3V269.6M175.3 262.3V269.6M183 262.3V269.6M169.8 262.3V269.6M195.8 262.3V269.6M209.4 262.3V269.6M184 262.3V269.6M198.8 262.3V269.6M208.4 262.3V269.6M168.5 262.3V269.6M172.9 262.3V269.6M202.7 262.3V269.6M204.2 262.3V269.6M195.2 262.3V269.6M173.7 262.3V269.6M185.1 262.3V269.6M205.5 262.3V269.6M206.3 262.3V269.6M202.6 262.3V269.6M175.7 262.3V269.6M204.9 262.3V269.6M183.4 262.3V269.6M198.7 262.3V269.6M172.7 262.3V269.6M210.1 262.3V269.6M193.6 262.3V269.6M199 262.3V269.6M176 262.3V269.6M194.2 262.3V269.6M192.6 262.3V269.6M193.1 262.3V269.6M182.7 262.3V269.6M199.2 262.3V269.6M181.9 262.3V269.6M179.8 262.3V269.6M173.9 262.3V269.6M197.2 262.3V269.6M171.6 262.3V269.6M176.7 262.3V269.6M169.6 262.3V269.6M195.4 262.3V269.6M191.5 262.3V269.6M190.9 262.3V269.6M168.3 262.3V269.6M186.3 262.3V269.6M181.9 262.3V269.6M170.7 262.3V269.6M166.7 262.3V269.6M211.3 262.3V269.6M172 262.3V269.6M180.1 262.3V269.6M178.6 262.3V269.6M193.4 262.3V269.6M170 262.3V269.6M187.6 262.3V269.6M183 262.3V269.6M204 262.3V269.6M166.8 262.3V269.6M181.6 262.3V269.6M188.8 262.3V269.6M210.1 262.3V269.6M189.7 262.3V269.6M187.8 262.3V269.6M196.6 262.3V269.6M179.9 262.3V269.6M168 262.3V269.6M189 262.3V269.6M207.4 262.3V269.6M199.7 262.3V269.6M178.1 262.3V269.6M197.2 262.3V269.6M204.7 262.3V269.6M178.1 262.3V269.6M192.9 262.3V269.6M182.5 262.3V269.6M177.5 262.3V269.6M179.4 262.3V269.6M175.7 262.3V269.6M182.3 262.3V269.6M168.3 262.3V269.6M184.4 262.3V269.6M170.4 262.3V269.6M200.6 262.3V269.6M193.5 262.3V269.6M166.7 262.3V269.6M201.3 262.3V269.6M175.1 262.3V269.6M188.1 262.3V269.6M191.4 262.3V269.6M181.5 262.3V269.6M179.5 262.3V269.6M186.1 262.3V269.6M172.7 262.3V269.6M205.3 262.3V269.6M171.6 262.3V269.6M203.5 262.3V269.6M176.3 262.3V269.6M180.2 262.3V269.6M184 262.3V269.6M168 262.3V269.6M172.3 262.3V269.6M182.7 262.3V269.6M186.4 262.3V269.6M205.9 262.3V269.6M211 262.3V269.6M168.5 262.3V269.6M190.6 262.3V269.6M172.3 262.3V269.6M202.6 262.3V269.6M181 262.3V269.6M206.6 262.3V269.6M191 262.3V269.6M172.2 262.3V269.6M166.8 262.3V269.6M177.7 262.3V269.6M205.5 262.3V269.6M173.3 262.3V269.6M188 262.3V269.6M183.2 262.3V269.6M182 262.3V269.6M202.5 262.3V269.6M176.1 262.3V269.6M198.8 262.3V269.6M196.5 262.3V269.6M208.5 262.3V269.6M189.9 262.3V269.6M207.9 262.3V269.6M186.3 262.3V269.6M192.3 262.3V269.6M194.4 262.3V269.6M204.2 262.3V269.6M206.8 262.3V269.6M171.7 262.3V269.6M172.7 262.3V269.6M190.5 262.3V269.6M203 262.3V269.6M190.5 262.3V269.6M180 262.3V269.6M209.7 262.3V269.6M179.9 262.3V269.6M170.4 262.3V269.6M168.9 262.3V269.6M167.9 262.3V269.6M199.2 262.3V269.6M171.4 262.3V269.6M198.7 262.3V269.6M205.4 262.3V269.6M211.4 262.3V269.6M202.9 262.3V269.6M185.6 262.3V269.6M194.5 262.3V269.6M203.9 262.3V269.6M198.7 262.3V269.6M179.6 262.3V269.6M200.7 262.3V269.6M171.5 262.3V269.6M180.4 262.3V269.6M211.3 262.3V269.6M187.7 262.3V269.6M178.6 262.3V269.6M201.8 262.3V269.6M186.7 262.3V269.6M166.7 262.3V269.6M167.9 262.3V269.6M178.2 262.3V269.6M181.4 262.3V269.6M208.6 262.3V269.6M177.6 262.3V269.6M204.7 262.3V269.6M204.9 262.3V269.6M185.2 262.3V269.6M211.1 262.3V269.6M200.7 262.3V269.6M188.3 262.3V269.6M178.3 262.3V269.6M187.2 262.3V269.6M207 262.3V269.6M190.6 262.3V269.6M175.2 262.3V269.6M183.4 262.3V269.6M187.9 262.3V269.6M175.1 262.3V269.6M192.3 262.3V269.6M168.1 262.3V269.6M203.4 262.3V269.6M174.6 262.3V269.6M171.2 262.3V269.6M193 262.3V269.6M180.3 262.3V269.6M206.3 262.3V269.6M188.8 262.3V269.6M189.9 262.3V269.6M204 262.3V269.6M176.2 262.3V269.6M200 262.3V269.6M195.7 262.3V269.6M185.8 262.3V269.6M209.6 262.3V269.6M167.5 262.3V269.6M205.2 262.3V269.6M173 262.3V269.6M204.2 262.3V269.6M173.4 262.3V269.6M168.9 262.3V269.6M189 262.3V269.6M208.1 262.3V269.6M178.1 262.3V269.6M188.4 262.3V269.6M193.8 262.3V269.6M177.5 262.3V269.6M190.3 262.3V269.6M167 262.3V269.6M186.7 262.3V269.6M200.6 262.3V269.6M181.8 262.3V269.6M176.4 262.3V269.6M168.8 262.3V269.6M198 262.3V269.6M185.7 262.3V269.6M207.6 262.3V269.6M199.8 262.3V269.6M171 262.3V269.6M207.6 262.3V269.6M208.4 262.3V269.6M203.2 262.3V269.6M203.9 262.3V269.6M34.5 262.3V269.6M38.5 262.3V269.6M43.4 262.3V269.6M44.7 262.3V269.6M45.6 262.3V269.6M50.5 262.3V269.6M51.3 262.3V269.6M56.9 262.3V269.6M62.5 262.3V269.6M72.4 262.3V269.6M76.6 262.3V269.6M80.9 262.3V269.6M82.3 262.3V269.6M83.7 262.3V269.6M86.2 262.3V269.6M87.1 262.3V269.6M96 262.3V269.6M96.9 262.3V269.6M99.5 262.3V269.6M104.2 262.3V269.6M107.2 262.3V269.6M108.1 262.3V269.6M115.3 262.3V269.6M116.5 262.3V269.6M117.7 262.3V269.6" stroke="#E64B35" stroke-width="0.65" stroke-opacity="0.85" fill="none"/>
<path d="M132.9 269.6V277.7M133.6 269.6V277.7M132.7 269.6V277.7M131.3 269.6V277.7M125.3 269.6V277.7M123 269.6V277.7M158.9 269.6V277.7M155.3 269.6V277.7M140.3 269.6V277.7M156.6 269.6V277.7M155.7 269.6V277.7M152.9 269.6V277.7M160.3 269.6V277.7M163.1 269.6V277.7M149.3 269.6V277.7M161.4 269.6V277.7M152.6 269.6V277.7M154.6 269.6V277.7M150.2 269.6V277.7M164.7 269.6V277.7M151.1 269.6V277.7M165.2 269.6V277.7M148.1 269.6V277.7M157.4 269.6V277.7M164.1 269.6V277.7M157.7 269.6V277.7M149.1 269.6V277.7M140.9 269.6V277.7M174.9 269.6V277.7M173.7 269.6V277.7M180.7 269.6V277.7M180.2 269.6V277.7M183.7 269.6V277.7M174.3 269.6V277.7M173.7 269.6V277.7M176.4 269.6V277.7M179.6 269.6V277.7M167.9 269.6V277.7M170.3 269.6V277.7M169.1 269.6V277.7M172.2 269.6V277.7M171.8 269.6V277.7M183.4 269.6V277.7M170.2 269.6V277.7M182.8 269.6V277.7M171.7 269.6V277.7M170.1 269.6V277.7M183.5 269.6V277.7M168.1 269.6V277.7M168.5 269.6V277.7M168.8 269.6V277.7M167.7 269.6V277.7M173.3 269.6V277.7M170.2 269.6V277.7M169.3 269.6V277.7M166.8 269.6V277.7M178.7 269.6V277.7M167.4 269.6V277.7M170.6 269.6V277.7M176.4 269.6V277.7M181.9 269.6V277.7M178 269.6V277.7M178.9 269.6V277.7M178.7 269.6V277.7M180.4 269.6V277.7M181.4 269.6V277.7M188.2 269.6V277.7M185.4 269.6V277.7M201 269.6V277.7M198.2 269.6V277.7M198.3 269.6V277.7M205.4 269.6V277.7M188.7 269.6V277.7M203.4 269.6V277.7M195.7 269.6V277.7M195.5 269.6V277.7M190.7 269.6V277.7M191.7 269.6V277.7M199.9 269.6V277.7M199.2 269.6V277.7M208.9 269.6V277.7M191.6 269.6V277.7M203.6 269.6V277.7M186.6 269.6V277.7M201.9 269.6V277.7M188.4 269.6V277.7M207.5 269.6V277.7M210.5 269.6V277.7M190.9 269.6V277.7M206.2 269.6V277.7M190 269.6V277.7M192.3 269.6V277.7M186.8 269.6V277.7M196.1 269.6V277.7M186.8 269.6V277.7M203.3 269.6V277.7M199.8 269.6V277.7M195.5 269.6V277.7M203.5 269.6V277.7M190.4 269.6V277.7M193.1 269.6V277.7M193.9 269.6V277.7M184 269.6V277.7M208.3 269.6V277.7M186.4 269.6V277.7M186.7 269.6V277.7M205.9 269.6V277.7M206.4 269.6V277.7M196.2 269.6V277.7M195.5 269.6V277.7M187.8 269.6V277.7M184 269.6V277.7M198.2 269.6V277.7M190.6 269.6V277.7M188.1 269.6V277.7M208.8 269.6V277.7M184.5 269.6V277.7M193.9 269.6V277.7M204.6 269.6V277.7M204.5 269.6V277.7M186.9 269.6V277.7M204.3 269.6V277.7M199.4 269.6V277.7M201.3 269.6V277.7M209.9 269.6V277.7M205.9 269.6V277.7M200.4 269.6V277.7M205.1 269.6V277.7M197.5 269.6V277.7M199.1 269.6V277.7M206.4 269.6V277.7M201 269.6V277.7M194.3 269.6V277.7M184.5 269.6V277.7M205.6 269.6V277.7M193.3 269.6V277.7M195.7 269.6V277.7M191.8 269.6V277.7M199.2 269.6V277.7M195 269.6V277.7M206.9 269.6V277.7M200.3 269.6V277.7M199.3 269.6V277.7M205.5 269.6V277.7M196 269.6V277.7M198.7 269.6V277.7M204.6 269.6V277.7M203.8 269.6V277.7M204.4 269.6V277.7M208.4 269.6V277.7M199.3 269.6V277.7M199.2 269.6V277.7M189.1 269.6V277.7M190.6 269.6V277.7M195.9 269.6V277.7M197.7 269.6V277.7M208.7 269.6V277.7M185.1 269.6V277.7M193.6 269.6V277.7M204.3 269.6V277.7M196.6 269.6V277.7M207.3 269.6V277.7M188.3 269.6V277.7M205.1 269.6V277.7M195.8 269.6V277.7M199.5 269.6V277.7M185.5 269.6V277.7M195 269.6V277.7M206 269.6V277.7M204.2 269.6V277.7M199.4 269.6V277.7M195.6 269.6V277.7M185 269.6V277.7M203.2 269.6V277.7M196.2 269.6V277.7M203.8 269.6V277.7M200.8 269.6V277.7M195 269.6V277.7M208 269.6V277.7M187.6 269.6V277.7M210.3 269.6V277.7M186.3 269.6V277.7M210.6 269.6V277.7M200.1 269.6V277.7M196.2 269.6V277.7M209.7 269.6V277.7M198 269.6V277.7M197.9 269.6V277.7M185.6 269.6V277.7M205.9 269.6V277.7M201.5 269.6V277.7M190.5 269.6V277.7M187.1 269.6V277.7M195.5 269.6V277.7M209.7 269.6V277.7M207.9 269.6V277.7M196.7 269.6V277.7M184.9 269.6V277.7M206.7 269.6V277.7M189.5 269.6V277.7M204 269.6V277.7M197.7 269.6V277.7M210.4 269.6V277.7M188 269.6V277.7M205.8 269.6V277.7M203.7 269.6V277.7M184.4 269.6V277.7M199.5 269.6V277.7M192 269.6V277.7M203.1 269.6V277.7M210.4 269.6V277.7M202.3 269.6V277.7M197.5 269.6V277.7M200.5 269.6V277.7M190.8 269.6V277.7M196.8 269.6V277.7M187.1 269.6V277.7M203.8 269.6V277.7M185.7 269.6V277.7M198.4 269.6V277.7M188.9 269.6V277.7M199.4 269.6V277.7M185.5 269.6V277.7M184.7 269.6V277.7M201.1 269.6V277.7M203.7 269.6V277.7M208.4 269.6V277.7M202.6 269.6V277.7M211.3 269.6V277.7M187.9 269.6V277.7M201.2 269.6V277.7M201.4 269.6V277.7M188.8 269.6V277.7M187.8 269.6V277.7M190.6 269.6V277.7M198.3 269.6V277.7M205.6 269.6V277.7M203.5 269.6V277.7M199.7 269.6V277.7M186.1 269.6V277.7M203.8 269.6V277.7M198 269.6V277.7M188.6 269.6V277.7M200.9 269.6V277.7M190.7 269.6V277.7M192.4 269.6V277.7M196.3 269.6V277.7M204.6 269.6V277.7M186.9 269.6V277.7M196.1 269.6V277.7M190.4 269.6V277.7M202.4 269.6V277.7M206.4 269.6V277.7M191.2 269.6V277.7M203.7 269.6V277.7M196.7 269.6V277.7M56.6 269.6V277.7M80.6 269.6V277.7M89.3 269.6V277.7M96.9 269.6V277.7M97.8 269.6V277.7M117.7 269.6V277.7M118.8 269.6V277.7" stroke="#4DBBD5" stroke-width="0.65" stroke-opacity="0.85" fill="none"/>
<path d="M124.5 277.7V285M125.6 277.7V285M130.3 277.7V285M135.2 277.7V285M131.5 277.7V285M120.6 277.7V285M134.7 277.7V285M131.1 277.7V285M128.3 277.7V285M125 277.7V285M128.6 277.7V285M133.1 277.7V285M125.5 277.7V285M143.5 277.7V285M169.3 277.7V285M154.1 277.7V285M141.2 277.7V285M169.7 277.7V285M142.5 277.7V285M151.4 277.7V285M160.2 277.7V285M161.8 277.7V285M170 277.7V285M144.8 277.7V285M158.5 277.7V285M169.3 277.7V285M155 277.7V285M163.6 277.7V285M154.9 277.7V285M163.6 277.7V285M172 277.7V285M150.5 277.7V285M164.3 277.7V285M150.7 277.7V285M169.6 277.7V285M165.3 277.7V285M168.6 277.7V285M169.1 277.7V285M159.4 277.7V285M171.8 277.7V285M144.1 277.7V285M158.7 277.7V285M141.3 277.7V285M159 277.7V285M162.6 277.7V285M148.6 277.7V285M167 277.7V285M153.2 277.7V285M145.6 277.7V285M145.4 277.7V285M158.8 277.7V285M152.1 277.7V285M140.3 277.7V285M185.1 277.7V285M210.5 277.7V285M191.4 277.7V285M199.4 277.7V285M189.7 277.7V285M176.2 277.7V285M196.7 277.7V285M181.5 277.7V285M178.1 277.7V285M196.9 277.7V285M199.1 277.7V285M173.9 277.7V285M209.4 277.7V285M174.3 277.7V285M179.8 277.7V285M186 277.7V285M203.7 277.7V285M201.7 277.7V285M201.7 277.7V285M189.8 277.7V285M208.1 277.7V285M178.6 277.7V285M209.9 277.7V285M175.4 277.7V285M179.3 277.7V285M202 277.7V285M202.7 277.7V285M199 277.7V285M182.9 277.7V285M206.4 277.7V285M193 277.7V285M181.3 277.7V285M177.2 277.7V285M211 277.7V285M175.6 277.7V285M181.8 277.7V285M187 277.7V285M207.4 277.7V285M205 277.7V285M205.4 277.7V285M197.4 277.7V285M173.9 277.7V285M201.5 277.7V285M180.7 277.7V285M209.4 277.7V285M210.3 277.7V285M176 277.7V285M201.2 277.7V285M182.7 277.7V285M177.5 277.7V285M206.7 277.7V285M190.3 277.7V285M184.7 277.7V285M194.7 277.7V285M175.9 277.7V285M189.6 277.7V285M198.1 277.7V285M206.3 277.7V285M178.1 277.7V285M207.4 277.7V285M177.5 277.7V285M181.3 277.7V285M186.2 277.7V285M179.9 277.7V285M177 277.7V285M198.4 277.7V285M188.6 277.7V285M180.7 277.7V285M193 277.7V285M178.2 277.7V285M199.3 277.7V285M210.1 277.7V285M191.2 277.7V285M189.5 277.7V285M188.6 277.7V285M187.4 277.7V285M189.2 277.7V285M180.3 277.7V285M184.7 277.7V285M199.7 277.7V285M191.7 277.7V285M176.1 277.7V285M179 277.7V285M205.4 277.7V285M186.9 277.7V285M205 277.7V285M196.9 277.7V285M197.2 277.7V285M187 277.7V285M195.5 277.7V285M189.2 277.7V285M193.1 277.7V285M209.3 277.7V285M177.6 277.7V285M181.6 277.7V285M207.8 277.7V285M208.7 277.7V285M204.3 277.7V285M206.1 277.7V285M177.4 277.7V285M36.3 277.7V285M37.3 277.7V285M43.3 277.7V285M44.1 277.7V285M47 277.7V285M51.3 277.7V285M53.4 277.7V285M59.6 277.7V285M60.4 277.7V285M62.7 277.7V285M63.9 277.7V285M65.2 277.7V285M68 277.7V285M68.7 277.7V285M78 277.7V285M80.2 277.7V285M83.7 277.7V285M84.6 277.7V285M85.8 277.7V285M89.3 277.7V285M90.6 277.7V285M91.5 277.7V285M92.5 277.7V285M93.4 277.7V285M97.8 277.7V285M98.5 277.7V285M107.2 277.7V285M110.7 277.7V285M112.1 277.7V285" stroke="#00A087" stroke-width="0.65" stroke-opacity="0.85" fill="none"/>
<polyline fill="none" stroke="#111" stroke-width="0.7" points="34.3,301.4 34.3,288.3 34.6,291.1 35,292.6 35.8,293.7 38.4,294.6 43.4,295.4 52.6,296 69.8,296.7 105.3,297.5 140.8,298.3 166.2,299.3 186.5,300.8 198.7,302.5 205.8,304.2 209.8,306.1 211.1,308 211.4,317.2 211.4,296.7"/>
<text x="34" y="301.8" font-size="6.5" fill="#000">Low_exp</text>
<text x="211.1" y="296.3" font-size="6.5" fill="#000" text-anchor="end">High_exp</text>
<rect x="25.5" y="190" width="194.9" height="69.4" fill="none" stroke="#8a8a8a" stroke-width="0.5"/>
<rect x="25.5" y="261.4" width="194.9" height="24.9" fill="none" stroke="#8a8a8a" stroke-width="0.5"/>
<rect x="25.5" y="288" width="194.9" height="29.5" fill="none" stroke="#8a8a8a" stroke-width="0.5"/>
<line x1="23.6" x2="25.5" y1="193" y2="193" stroke="#333" stroke-width="0.55"/><text x="22.5" y="194.9" font-size="5.3" fill="#4d4d4d" text-anchor="end">0.0</text><line x1="23.6" x2="25.5" y1="209.4" y2="209.4" stroke="#333" stroke-width="0.55"/><text x="22.5" y="211.3" font-size="5.3" fill="#4d4d4d" text-anchor="end">−0.2</text><line x1="23.6" x2="25.5" y1="225.9" y2="225.9" stroke="#333" stroke-width="0.55"/><text x="22.5" y="227.8" font-size="5.3" fill="#4d4d4d" text-anchor="end">−0.4</text><line x1="23.6" x2="25.5" y1="242.3" y2="242.3" stroke="#333" stroke-width="0.55"/><text x="22.5" y="244.2" font-size="5.3" fill="#4d4d4d" text-anchor="end">−0.6</text><line x1="23.6" x2="25.5" y1="258.8" y2="258.8" stroke="#333" stroke-width="0.55"/><text x="22.5" y="260.7" font-size="5.3" fill="#4d4d4d" text-anchor="end">−0.8</text><line x1="23.6" x2="25.5" y1="296.7" y2="296.7" stroke="#333" stroke-width="0.55"/><text x="22.5" y="298.6" font-size="5.3" fill="#4d4d4d" text-anchor="end">0.0</text><line x1="23.6" x2="25.5" y1="306.1" y2="306.1" stroke="#333" stroke-width="0.55"/><text x="22.5" y="308" font-size="5.3" fill="#4d4d4d" text-anchor="end">−0.5</text><line x1="23.6" x2="25.5" y1="315.5" y2="315.5" stroke="#333" stroke-width="0.55"/><text x="22.5" y="317.4" font-size="5.3" fill="#4d4d4d" text-anchor="end">−1.0</text><line x1="34.3" x2="34.3" y1="317.5" y2="319.4" stroke="#333" stroke-width="0.55"/><text x="34.3" y="324.2" font-size="5.3" fill="#4d4d4d" text-anchor="middle">0</text><line x1="103.9" x2="103.9" y1="317.5" y2="319.4" stroke="#333" stroke-width="0.55"/><text x="103.9" y="324.2" font-size="5.3" fill="#4d4d4d" text-anchor="middle">10000</text><line x1="173.5" x2="173.5" y1="317.5" y2="319.4" stroke="#333" stroke-width="0.55"/><text x="173.5" y="324.2" font-size="5.3" fill="#4d4d4d" text-anchor="middle">20000</text>
<text x="123" y="332.1" font-size="6.5" fill="#000" text-anchor="middle">Rank in ordered dataset</text>
<text transform="translate(9 224.7) rotate(-90)" font-size="6.5" fill="#000" text-anchor="middle">Enrichment score</text>
<text transform="translate(9 302.8) rotate(-90)" font-size="6.5" fill="#000" text-anchor="middle">Rank</text>
<text x="232.9" y="241.6" font-size="6.4" fill="#000">Term</text>
<line x1="233.3" x2="241.5" y1="250.5" y2="250.5" stroke="#E64B35" stroke-width="1"/>
<text x="245.9" y="249.8" font-size="5.33" fill="#000">MITOTIC_SPINDLE</text>
<text x="245.9" y="255.3" font-size="5.33" fill="#000">ES=−0.69,NES=−2.3,P=0,FDR=0.0043</text>
<line x1="233.3" x2="241.5" y1="261.2" y2="261.2" stroke="#4DBBD5" stroke-width="1"/>
<text x="245.9" y="259.8" font-size="5.33" fill="#000">G2M_CHECKPOINT</text>
<text x="245.9" y="266.2" font-size="5.33" fill="#000">ES=−0.77,NES=−2.1,P=0,FDR=0.0058</text>
<line x1="233.3" x2="241.5" y1="271.8" y2="271.8" stroke="#00A087" stroke-width="1"/>
<text x="245.9" y="270.5" font-size="5.33" fill="#000">PI3K_AKT_MTOR_SIGNALING</text>
<text x="245.9" y="276.6" font-size="5.33" fill="#000">ES=−0.57,NES=−2.1,P=0,FDR=0.0052</text>
</g>
<g font-family="Liberation Sans, Arial, sans-serif">
<text x="344.5" y="178.5" font-size="11.3" font-family="Liberation Serif, Times New Roman, serif" fill="#000">D</text>
<text x="368.1" y="184.8" font-size="7.7" fill="#000">Enrichment plot HALLMARK terms</text>
<line x1="376.3" x2="376.3" y1="190" y2="254.4" stroke="#e6e6e6" stroke-width="0.5"/><line x1="410.4" x2="410.4" y1="190" y2="254.4" stroke="#f0f0f0" stroke-width="0.5"/><line x1="444.5" x2="444.5" y1="190" y2="254.4" stroke="#e6e6e6" stroke-width="0.5"/><line x1="478.6" x2="478.6" y1="190" y2="254.4" stroke="#f0f0f0" stroke-width="0.5"/><line x1="512.7" x2="512.7" y1="190" y2="254.4" stroke="#e6e6e6" stroke-width="0.5"/><line x1="546.8" x2="546.8" y1="190" y2="254.4" stroke="#f0f0f0" stroke-width="0.5"/><line x1="376.3" x2="376.3" y1="256.3" y2="288.6" stroke="#e6e6e6" stroke-width="0.5"/><line x1="410.4" x2="410.4" y1="256.3" y2="288.6" stroke="#f0f0f0" stroke-width="0.5"/><line x1="444.5" x2="444.5" y1="256.3" y2="288.6" stroke="#e6e6e6" stroke-width="0.5"/><line x1="478.6" x2="478.6" y1="256.3" y2="288.6" stroke="#f0f0f0" stroke-width="0.5"/><line x1="512.7" x2="512.7" y1="256.3" y2="288.6" stroke="#e6e6e6" stroke-width="0.5"/><line x1="546.8" x2="546.8" y1="256.3" y2="288.6" stroke="#f0f0f0" stroke-width="0.5"/><line x1="376.3" x2="376.3" y1="290.4" y2="317.5" stroke="#e6e6e6" stroke-width="0.5"/><line x1="410.4" x2="410.4" y1="290.4" y2="317.5" stroke="#f0f0f0" stroke-width="0.5"/><line x1="444.5" x2="444.5" y1="290.4" y2="317.5" stroke="#e6e6e6" stroke-width="0.5"/><line x1="478.6" x2="478.6" y1="290.4" y2="317.5" stroke="#f0f0f0" stroke-width="0.5"/><line x1="512.7" x2="512.7" y1="290.4" y2="317.5" stroke="#e6e6e6" stroke-width="0.5"/><line x1="546.8" x2="546.8" y1="290.4" y2="317.5" stroke="#f0f0f0" stroke-width="0.5"/><line x1="368" x2="558.8" y1="197.5" y2="197.5" stroke="#e6e6e6" stroke-width="0.5"/><line x1="368" x2="558.8" y1="205" y2="205" stroke="#f0f0f0" stroke-width="0.5"/><line x1="368" x2="558.8" y1="212.4" y2="212.4" stroke="#e6e6e6" stroke-width="0.5"/><line x1="368" x2="558.8" y1="219.9" y2="219.9" stroke="#f0f0f0" stroke-width="0.5"/><line x1="368" x2="558.8" y1="227.3" y2="227.3" stroke="#e6e6e6" stroke-width="0.5"/><line x1="368" x2="558.8" y1="234.8" y2="234.8" stroke="#f0f0f0" stroke-width="0.5"/><line x1="368" x2="558.8" y1="242.2" y2="242.2" stroke="#e6e6e6" stroke-width="0.5"/><line x1="368" x2="558.8" y1="249.7" y2="249.7" stroke="#f0f0f0" stroke-width="0.5"/><line x1="368" x2="558.8" y1="294.6" y2="294.6" stroke="#f0f0f0" stroke-width="0.5"/><line x1="368" x2="558.8" y1="298.8" y2="298.8" stroke="#e6e6e6" stroke-width="0.5"/><line x1="368" x2="558.8" y1="303.1" y2="303.1" stroke="#f0f0f0" stroke-width="0.5"/><line x1="368" x2="558.8" y1="307.3" y2="307.3" stroke="#e6e6e6" stroke-width="0.5"/><line x1="368" x2="558.8" y1="311.6" y2="311.6" stroke="#f0f0f0" stroke-width="0.5"/><line x1="368" x2="558.8" y1="315.8" y2="315.8" stroke="#e6e6e6" stroke-width="0.5"/><line x1="368" x2="558.8" y1="261.6" y2="261.6" stroke="#f0f0f0" stroke-width="0.5"/><line x1="368" x2="558.8" y1="257.9" y2="257.9" stroke="#ececec" stroke-width="0.4"/><line x1="368" x2="558.8" y1="269.1" y2="269.1" stroke="#f0f0f0" stroke-width="0.5"/><line x1="368" x2="558.8" y1="265.3" y2="265.3" stroke="#ececec" stroke-width="0.4"/><line x1="368" x2="558.8" y1="276.5" y2="276.5" stroke="#f0f0f0" stroke-width="0.5"/><line x1="368" x2="558.8" y1="272.8" y2="272.8" stroke="#ececec" stroke-width="0.4"/><line x1="368" x2="558.8" y1="283.9" y2="283.9" stroke="#f0f0f0" stroke-width="0.5"/><line x1="368" x2="558.8" y1="280.2" y2="280.2" stroke="#ececec" stroke-width="0.4"/>
<line x1="376.3" x2="549.9" y1="227.3" y2="227.3" stroke="#b4b4b4" stroke-width="0.7" stroke-dasharray="2.4 2.4"/>
<line x1="376.3" x2="549.9" y1="298.8" y2="298.8" stroke="#b4b4b4" stroke-width="0.7" stroke-dasharray="2.4 2.4"/>
<polyline fill="none" stroke="#E64B35" stroke-width="0.75" stroke-linejoin="round" points="376.4,226.2 379.6,225.7 381.8,223 384,224.2 386.9,225.2 389.8,220.4 392.7,221.3 396.4,222.3 400,222.3 405.9,225.2 408.8,225.2 413.2,228.9 420.5,235.4 427.8,240.6 435.1,244.2 440.9,246.4 444.6,247.6 448.2,247.1 449.7,247.9 451.9,246.4 454.1,246.1 456.2,244.2 458.4,244.9 460,245.7 464.4,247.1 467.3,247.1 470.2,244.2 473.9,244.6 474.6,243.5 478.2,245.2 481.2,243.2 484.8,242.3 486.3,237.6 489.2,235.9 493.6,238.4 497.2,235.4 501.6,237.6 504.5,235.4 508.2,236.9 510.4,235.4 518.4,239.1 520.6,234.4 528.6,238.4 530.8,231.8 535.9,231.1 539.6,230.3 541,228.9 544.4,228.9 545.1,223.8"/>
<polyline fill="none" stroke="#4DBBD5" stroke-width="0.75" stroke-linejoin="round" points="376.4,227.1 384,230.3 392.7,233.5 394.2,230.3 395.7,223.8 397.8,223.8 403,227.4 410.3,233.3 417.6,239.8 424.9,244.9 430,247.6 434.3,249.3 436.5,247.9 439.5,249 444.6,251.8 446.8,251.1 450.4,249.3 452.6,247.9 458.4,247.6 459.2,240.6 460,239.8 465.8,234.7 471.7,233.3 476.1,222.3 478.2,220.8 481.2,219.4 482.6,210.6 487,209.2 489.2,204.4 495,206.2 502.3,208.4 518.4,210.2 532.3,211.6 534.5,213.5"/>
<polyline fill="none" stroke="#00A087" stroke-width="0.75" stroke-linejoin="round" points="376.4,226.7 378.4,216.5 381.1,209.9 384,204.1 386.2,204.8 388.4,206.2 390.5,204.8 393.5,204.5 396.4,205.5 403,207.7 410.3,212.8 417.6,219.4 424.9,224.5 432.2,229.6 439.5,234 444.6,235.4 449.7,237.6 455.5,239.4 459.9,240.6 460,241.3 465.8,240.3 469.5,240.6 474.6,243.5 479,243.2 484.1,242.3 490.7,246.7 493.6,244.6 498.7,243.2 500.9,239.1 503.8,236.9 509.6,236.2 513.3,235 519.1,235 520.6,230.3 522.8,228.9 527.2,230.3 530.8,231.1 533.7,227.4 535.2,223.8 538.1,220.8 540,219.1"/>
<polyline fill="none" stroke="#3C5488" stroke-width="0.75" stroke-linejoin="round" points="376.4,226.7 378.9,213.5 380.3,209.9 382.2,202.6 384.7,202.3 386.9,201.4 388.4,198.2 390.5,193.1 392,193.1 395.7,194.6 403,197.5 410.3,201.9 417.6,207.7 424.9,213.5 432.2,218.4 435.1,218.2 438,220.1 442.4,217.2 444.6,217.2 448.9,220.4 451.9,221.6 456.2,221.3 460.6,215.4 462.9,215.4 466.6,218.7 470.2,217.2 473.1,218.9 476.1,217.9 481.2,220.8 484.1,219.1 487,219.1 489.2,217.2 498,222.3 503.8,225.2 506.7,225.5 509.6,219.4 512.6,217.2 516.9,216.5 518.4,214.6 521.3,216.5 528.6,219.4 532.3,220.4 534.2,213.5 541.8,220.1 549.8,227.1"/>
<path d="M377.2 257.9V265.3M382 257.9V265.3M381.6 257.9V265.3M384 257.9V265.3M378.5 257.9V265.3M378.4 257.9V265.3M454.1 257.9V265.3M447.2 257.9V265.3M414.4 257.9V265.3M449.5 257.9V265.3M423.1 257.9V265.3M458.1 257.9V265.3M397.4 257.9V265.3M407.1 257.9V265.3M469.5 257.9V265.3M419.5 257.9V265.3M410.5 257.9V265.3M460.6 257.9V265.3M444.7 257.9V265.3M400.3 257.9V265.3M437.3 257.9V265.3M447.7 257.9V265.3M401.7 257.9V265.3M446.5 257.9V265.3M397.9 257.9V265.3M417.6 257.9V265.3M394.2 257.9V265.3M405.4 257.9V265.3M476.6 257.9V265.3M423.7 257.9V265.3M477.7 257.9V265.3M426.9 257.9V265.3M442.5 257.9V265.3M466.9 257.9V265.3M449.8 257.9V265.3M396.8 257.9V265.3M440.8 257.9V265.3M444.9 257.9V265.3M403.2 257.9V265.3M395.2 257.9V265.3M467.1 257.9V265.3M433.8 257.9V265.3M404.4 257.9V265.3M428.2 257.9V265.3M406.6 257.9V265.3M460 257.9V265.3M432.6 257.9V265.3M396 257.9V265.3M461.9 257.9V265.3M394.8 257.9V265.3M412.4 257.9V265.3M389.1 257.9V265.3M454.7 257.9V265.3M397 257.9V265.3M434.9 257.9V265.3M395.1 257.9V265.3M430.8 257.9V265.3M449.6 257.9V265.3M435.8 257.9V265.3M428.4 257.9V265.3M431.2 257.9V265.3M426.8 257.9V265.3M441.4 257.9V265.3M395.3 257.9V265.3M430.2 257.9V265.3M408.3 257.9V265.3M466.2 257.9V265.3M473 257.9V265.3M392.6 257.9V265.3M399.7 257.9V265.3M451.3 257.9V265.3M439.1 257.9V265.3M388.3 257.9V265.3M451.4 257.9V265.3M473.4 257.9V265.3M425.5 257.9V265.3M418.5 257.9V265.3M439 257.9V265.3M473 257.9V265.3M410.8 257.9V265.3M414.4 257.9V265.3M403.9 257.9V265.3M444.4 257.9V265.3M429.7 257.9V265.3M410.1 257.9V265.3M422.2 257.9V265.3M389.7 257.9V265.3M415.3 257.9V265.3M477 257.9V265.3M440.5 257.9V265.3M412.5 257.9V265.3M472.7 257.9V265.3M419.5 257.9V265.3M409.7 257.9V265.3M389.8 257.9V265.3M400 257.9V265.3M404.9 257.9V265.3M407.7 257.9V265.3M466.9 257.9V265.3M410.9 257.9V265.3M409.4 257.9V265.3M442.1 257.9V265.3M471 257.9V265.3M413.4 257.9V265.3M456.6 257.9V265.3M420.5 257.9V265.3M438.2 257.9V265.3M441.4 257.9V265.3M473.3 257.9V265.3M456.3 257.9V265.3M433.3 257.9V265.3M464 257.9V265.3M420.3 257.9V265.3M421.9 257.9V265.3M474.9 257.9V265.3M436.8 257.9V265.3M457.7 257.9V265.3M415.5 257.9V265.3M470.8 257.9V265.3M442.9 257.9V265.3M409.3 257.9V265.3M472.5 257.9V265.3M429.7 257.9V265.3M417.8 257.9V265.3M410.7 257.9V265.3M396 257.9V265.3M405 257.9V265.3M450.3 257.9V265.3M399.5 257.9V265.3M410.3 257.9V265.3M427.7 257.9V265.3M436.7 257.9V265.3M421.6 257.9V265.3M458.8 257.9V265.3M410.2 257.9V265.3M420.5 257.9V265.3M425.7 257.9V265.3M398.4 257.9V265.3M407 257.9V265.3M400 257.9V265.3M453.3 257.9V265.3M400 257.9V265.3M448 257.9V265.3M407 257.9V265.3M446.1 257.9V265.3M447 257.9V265.3M419.1 257.9V265.3M472.4 257.9V265.3M447 257.9V265.3M437.8 257.9V265.3M390.8 257.9V265.3M424 257.9V265.3M411 257.9V265.3M429.8 257.9V265.3M472.5 257.9V265.3M466.1 257.9V265.3M392.2 257.9V265.3M449.1 257.9V265.3M472.5 257.9V265.3M436.5 257.9V265.3M395.4 257.9V265.3M466.3 257.9V265.3M425.8 257.9V265.3M476.8 257.9V265.3M467 257.9V265.3M462.8 257.9V265.3M472.3 257.9V265.3M392.8 257.9V265.3M459.6 257.9V265.3M414.6 257.9V265.3M399 257.9V265.3M421.4 257.9V265.3M440.8 257.9V265.3M387 257.9V265.3M427.9 257.9V265.3M458.7 257.9V265.3M432.1 257.9V265.3M435.2 257.9V265.3M413.8 257.9V265.3M476 257.9V265.3M409.4 257.9V265.3M507.6 257.9V265.3M506.2 257.9V265.3M482 257.9V265.3M519.4 257.9V265.3M490.8 257.9V265.3M519.1 257.9V265.3M516.8 257.9V265.3M515.8 257.9V265.3M514.1 257.9V265.3M496.9 257.9V265.3M498.7 257.9V265.3M495 257.9V265.3M517.1 257.9V265.3M483.1 257.9V265.3M487.1 257.9V265.3M517.9 257.9V265.3M512.3 257.9V265.3M508.5 257.9V265.3M518.3 257.9V265.3M501.7 257.9V265.3M513.3 257.9V265.3M498.6 257.9V265.3M515.8 257.9V265.3M484.6 257.9V265.3M498.5 257.9V265.3M503.7 257.9V265.3M511.8 257.9V265.3M497.9 257.9V265.3M507.5 257.9V265.3M518.3 257.9V265.3M532.7 257.9V265.3M525.8 257.9V265.3M520.5 257.9V265.3M546.6 257.9V265.3M534.5 257.9V265.3M531.7 257.9V265.3M535.8 257.9V265.3M523.3 257.9V265.3M526.5 257.9V265.3M526.9 257.9V265.3M527.5 257.9V265.3M546.5 257.9V265.3M527.3 257.9V265.3M522.4 257.9V265.3" stroke="#E64B35" stroke-width="0.65" stroke-opacity="0.85" fill="none"/>
<path d="M425.9 265.3V272.8M414.3 265.3V272.8M394.4 265.3V272.8M418.7 265.3V272.8M419.1 265.3V272.8M417.7 265.3V272.8M422.4 265.3V272.8M409.3 265.3V272.8M401.8 265.3V272.8M421.3 265.3V272.8M467.1 265.3V272.8M471.7 265.3V272.8M441.5 265.3V272.8M452.5 265.3V272.8M470.9 265.3V272.8M453.2 265.3V272.8M465.8 265.3V272.8M458.3 265.3V272.8M474.6 265.3V272.8M451.1 265.3V272.8M459.7 265.3V272.8M478.9 265.3V272.8M448.9 265.3V272.8M441 265.3V272.8M467.8 265.3V272.8M438.6 265.3V272.8M480.5 265.3V272.8M446.8 265.3V272.8M483.3 265.3V272.8M461.8 265.3V272.8M439.8 265.3V272.8M461.1 265.3V272.8M470.4 265.3V272.8M459 265.3V272.8M523.2 265.3V272.8M515.9 265.3V272.8M532 265.3V272.8" stroke="#4DBBD5" stroke-width="0.65" stroke-opacity="0.85" fill="none"/>
<path d="M377.8 272.8V280.2M383.4 272.8V280.2M376.5 272.8V280.2M380.8 272.8V280.2M376.9 272.8V280.2M377.5 272.8V280.2M381.5 272.8V280.2M384.3 272.8V280.2M379 272.8V280.2M379.9 272.8V280.2M380.5 272.8V280.2M381.7 272.8V280.2M379.4 272.8V280.2M379.4 272.8V280.2M383.9 272.8V280.2M381.2 272.8V280.2M379.4 272.8V280.2M383.6 272.8V280.2M385.2 272.8V280.2M380.1 272.8V280.2M376.4 272.8V280.2M379 272.8V280.2M384.3 272.8V280.2M377.8 272.8V280.2M378.1 272.8V280.2M383.3 272.8V280.2M377.3 272.8V280.2M383.8 272.8V280.2M378.3 272.8V280.2M379.7 272.8V280.2M403.3 272.8V280.2M390.8 272.8V280.2M408 272.8V280.2M399.3 272.8V280.2M407.9 272.8V280.2M407.7 272.8V280.2M389.9 272.8V280.2M409.2 272.8V280.2M409.2 272.8V280.2M394.2 272.8V280.2M403.2 272.8V280.2M393.2 272.8V280.2M401.9 272.8V280.2M407.4 272.8V280.2M397.7 272.8V280.2M401.7 272.8V280.2M391.3 272.8V280.2M410.3 272.8V280.2M404.1 272.8V280.2M409.4 272.8V280.2M390 272.8V280.2M407.2 272.8V280.2M390.2 272.8V280.2M402.3 272.8V280.2M393.9 272.8V280.2M411.3 272.8V280.2M390.6 272.8V280.2M400.2 272.8V280.2M400.1 272.8V280.2M397.9 272.8V280.2M389.6 272.8V280.2M405.2 272.8V280.2M413.1 272.8V280.2M397.2 272.8V280.2M411.2 272.8V280.2M396.7 272.8V280.2M395 272.8V280.2M399.7 272.8V280.2M413.1 272.8V280.2M408.1 272.8V280.2M404.3 272.8V280.2M388.9 272.8V280.2M399.6 272.8V280.2M388.3 272.8V280.2M389.5 272.8V280.2M397.6 272.8V280.2M394.2 272.8V280.2M390.6 272.8V280.2M401.2 272.8V280.2M408.2 272.8V280.2M411.9 272.8V280.2M411.6 272.8V280.2M398.9 272.8V280.2M392.5 272.8V280.2M412.9 272.8V280.2M443.6 272.8V280.2M438.7 272.8V280.2M467.9 272.8V280.2M451.8 272.8V280.2M475.7 272.8V280.2M460.5 272.8V280.2M475.3 272.8V280.2M427.2 272.8V280.2M475.2 272.8V280.2M450.8 272.8V280.2M460.2 272.8V280.2M436.2 272.8V280.2M432.7 272.8V280.2M435.9 272.8V280.2M428.2 272.8V280.2M476.2 272.8V280.2M425.1 272.8V280.2M432.6 272.8V280.2M456.4 272.8V280.2M430.3 272.8V280.2M430.9 272.8V280.2M433.3 272.8V280.2M432.1 272.8V280.2M418.5 272.8V280.2M462.8 272.8V280.2M457.9 272.8V280.2M436.7 272.8V280.2M472.5 272.8V280.2M451.9 272.8V280.2M431.3 272.8V280.2M476.5 272.8V280.2M431.8 272.8V280.2M467 272.8V280.2M467.5 272.8V280.2M418.1 272.8V280.2M469.3 272.8V280.2M443.4 272.8V280.2M448.4 272.8V280.2M475.3 272.8V280.2M445.3 272.8V280.2M432.6 272.8V280.2M420.9 272.8V280.2M471.6 272.8V280.2M445.5 272.8V280.2M461.1 272.8V280.2M456.8 272.8V280.2M477.4 272.8V280.2M474.7 272.8V280.2M474.7 272.8V280.2M448.5 272.8V280.2M473.2 272.8V280.2M436.5 272.8V280.2M425.4 272.8V280.2M456.7 272.8V280.2M419.6 272.8V280.2M476.9 272.8V280.2M437.6 272.8V280.2M443.6 272.8V280.2M435.6 272.8V280.2M437.5 272.8V280.2M450.5 272.8V280.2M466.5 272.8V280.2M418.8 272.8V280.2M438.7 272.8V280.2M432.9 272.8V280.2M476.1 272.8V280.2M444.5 272.8V280.2M444.9 272.8V280.2M474.8 272.8V280.2M441.4 272.8V280.2M441.2 272.8V280.2M442.1 272.8V280.2M432.3 272.8V280.2M460.6 272.8V280.2M435.3 272.8V280.2M448.8 272.8V280.2M452.6 272.8V280.2M464.4 272.8V280.2M462.8 272.8V280.2M447.1 272.8V280.2M475.6 272.8V280.2M475.3 272.8V280.2M474.8 272.8V280.2M461.3 272.8V280.2M445.5 272.8V280.2M499.2 272.8V280.2M523.1 272.8V280.2M504.6 272.8V280.2M517.7 272.8V280.2M500.5 272.8V280.2M499.5 272.8V280.2M482.9 272.8V280.2M516.9 272.8V280.2M495.8 272.8V280.2M505.6 272.8V280.2M516.7 272.8V280.2M521.7 272.8V280.2M527.1 272.8V280.2M513.7 272.8V280.2M493.1 272.8V280.2M526.4 272.8V280.2M484.6 272.8V280.2M501.7 272.8V280.2M526.2 272.8V280.2M522.4 272.8V280.2M510.4 272.8V280.2M523.5 272.8V280.2M490.5 272.8V280.2M483.9 272.8V280.2M496.2 272.8V280.2M526.4 272.8V280.2M483.9 272.8V280.2M497.5 272.8V280.2M506.3 272.8V280.2M491.8 272.8V280.2M523.6 272.8V280.2M487.1 272.8V280.2M486.1 272.8V280.2M529.6 272.8V280.2M482.6 272.8V280.2M492.6 272.8V280.2M501.5 272.8V280.2M524 272.8V280.2M498 272.8V280.2M509.2 272.8V280.2M543.6 272.8V280.2M541.2 272.8V280.2M543.9 272.8V280.2M533.4 272.8V280.2M540.2 272.8V280.2M533.4 272.8V280.2M544.2 272.8V280.2M533.5 272.8V280.2M534.4 272.8V280.2M538.7 272.8V280.2" stroke="#00A087" stroke-width="0.65" stroke-opacity="0.85" fill="none"/>
<path d="M381 280.2V287.7M376.4 280.2V287.7M381.1 280.2V287.7M377.1 280.2V287.7M378.7 280.2V287.7M376.6 280.2V287.7M381.8 280.2V287.7M382.5 280.2V287.7M382.1 280.2V287.7M378.7 280.2V287.7M378.2 280.2V287.7M383.5 280.2V287.7M382.4 280.2V287.7M383.6 280.2V287.7M379.4 280.2V287.7M382.9 280.2V287.7M381.4 280.2V287.7M382.2 280.2V287.7M380.1 280.2V287.7M382.2 280.2V287.7M380 280.2V287.7M378.3 280.2V287.7M379.9 280.2V287.7M376.6 280.2V287.7M381.4 280.2V287.7M394.8 280.2V287.7M390.3 280.2V287.7M407.9 280.2V287.7M400.2 280.2V287.7M394.2 280.2V287.7M411.6 280.2V287.7M412 280.2V287.7M397.3 280.2V287.7M400.8 280.2V287.7M385.2 280.2V287.7M395.4 280.2V287.7M413.5 280.2V287.7M399.8 280.2V287.7M413.6 280.2V287.7M386 280.2V287.7M385.7 280.2V287.7M386.9 280.2V287.7M387.3 280.2V287.7M406.8 280.2V287.7M413.5 280.2V287.7M407 280.2V287.7M402.5 280.2V287.7M396.1 280.2V287.7M396.1 280.2V287.7M388.9 280.2V287.7M396.5 280.2V287.7M388.7 280.2V287.7M408.4 280.2V287.7M400.6 280.2V287.7M396 280.2V287.7M409.6 280.2V287.7M393.8 280.2V287.7M410.1 280.2V287.7M405.7 280.2V287.7M403.2 280.2V287.7M402.2 280.2V287.7M403.3 280.2V287.7M411 280.2V287.7M413.7 280.2V287.7M401.2 280.2V287.7M412.7 280.2V287.7M392.2 280.2V287.7M411.7 280.2V287.7M410.5 280.2V287.7M403.4 280.2V287.7M388.3 280.2V287.7M410.6 280.2V287.7M396 280.2V287.7M394.7 280.2V287.7M412.4 280.2V287.7M387.7 280.2V287.7M403.6 280.2V287.7M391.7 280.2V287.7M410.1 280.2V287.7M391.4 280.2V287.7M388.2 280.2V287.7M399.1 280.2V287.7M398.3 280.2V287.7M406.7 280.2V287.7M393.2 280.2V287.7M393.5 280.2V287.7M393.6 280.2V287.7M400.9 280.2V287.7M388.9 280.2V287.7M401.2 280.2V287.7M461.7 280.2V287.7M454.3 280.2V287.7M430.2 280.2V287.7M442.7 280.2V287.7M421.1 280.2V287.7M442.2 280.2V287.7M458.4 280.2V287.7M415.9 280.2V287.7M452 280.2V287.7M467.4 280.2V287.7M431.5 280.2V287.7M433.7 280.2V287.7M453.9 280.2V287.7M424.6 280.2V287.7M430.9 280.2V287.7M450.4 280.2V287.7M444.8 280.2V287.7M425.2 280.2V287.7M426.9 280.2V287.7M443.3 280.2V287.7M464.4 280.2V287.7M427.1 280.2V287.7M454.1 280.2V287.7M445.6 280.2V287.7M431.4 280.2V287.7M439 280.2V287.7M461.8 280.2V287.7M421.6 280.2V287.7M446.4 280.2V287.7M442.6 280.2V287.7M422 280.2V287.7M439 280.2V287.7M425.4 280.2V287.7M438.4 280.2V287.7M417.5 280.2V287.7M447.6 280.2V287.7M460.8 280.2V287.7M464.7 280.2V287.7M468 280.2V287.7M429.9 280.2V287.7M460.6 280.2V287.7M435.9 280.2V287.7M455.8 280.2V287.7M442.2 280.2V287.7M457.4 280.2V287.7M438.2 280.2V287.7M469.5 280.2V287.7M441.9 280.2V287.7M460.5 280.2V287.7M425.9 280.2V287.7M456.6 280.2V287.7M427.6 280.2V287.7M438.7 280.2V287.7M437.1 280.2V287.7M453.1 280.2V287.7M448.2 280.2V287.7M431.2 280.2V287.7M468 280.2V287.7M418.1 280.2V287.7M442.5 280.2V287.7M423.1 280.2V287.7M421.9 280.2V287.7M428.1 280.2V287.7M468.7 280.2V287.7M417.1 280.2V287.7M456.1 280.2V287.7M448.2 280.2V287.7M462.6 280.2V287.7M463.4 280.2V287.7M422.7 280.2V287.7M467.5 280.2V287.7M423.8 280.2V287.7M422.6 280.2V287.7M429.1 280.2V287.7M454.9 280.2V287.7M501.2 280.2V287.7M507.1 280.2V287.7M482.8 280.2V287.7M496.1 280.2V287.7M488.5 280.2V287.7M521 280.2V287.7M500.8 280.2V287.7M507.5 280.2V287.7M494.7 280.2V287.7M477.7 280.2V287.7M476.7 280.2V287.7M483.3 280.2V287.7M509.5 280.2V287.7M482.2 280.2V287.7M496.3 280.2V287.7M489.2 280.2V287.7M478.5 280.2V287.7M490.7 280.2V287.7M496.9 280.2V287.7M518.7 280.2V287.7M511.7 280.2V287.7M494 280.2V287.7M486.8 280.2V287.7M484 280.2V287.7M489.8 280.2V287.7M498.9 280.2V287.7M521.4 280.2V287.7M475.6 280.2V287.7M481.5 280.2V287.7M492.1 280.2V287.7M500.7 280.2V287.7M475.2 280.2V287.7M472.9 280.2V287.7M500.1 280.2V287.7M472.7 280.2V287.7M538.3 280.2V287.7M537.9 280.2V287.7" stroke="#3C5488" stroke-width="0.65" stroke-opacity="0.85" fill="none"/>
<polyline fill="none" stroke="#111" stroke-width="0.7" points="376.3,303.1 376.3,290.7 376.6,293.7 377,295.1 377.8,296.1 380.3,296.9 385.2,297.6 394.2,298.2 411.1,298.8 445.9,299.5 480.7,300.2 505.5,301.2 525.4,302.5 537.4,304.1 544.3,305.6 548.3,307.3 549.6,309 549.9,317.2 549.9,298.8"/>
<text x="376" y="303.9" font-size="6.5" fill="#000">Low_exp</text>
<text x="549.6" y="298.4" font-size="6.5" fill="#000" text-anchor="end">High_exp</text>
<rect x="368" y="190" width="190.8" height="64.4" fill="none" stroke="#8a8a8a" stroke-width="0.5"/>
<rect x="368" y="256.3" width="190.8" height="32.3" fill="none" stroke="#8a8a8a" stroke-width="0.5"/>
<rect x="368" y="290.4" width="190.8" height="27.1" fill="none" stroke="#8a8a8a" stroke-width="0.5"/>
<line x1="366.1" x2="368" y1="227.3" y2="227.3" stroke="#333" stroke-width="0.55"/><text x="365" y="229.2" font-size="5.3" fill="#4d4d4d" text-anchor="end">0.0</text><line x1="366.1" x2="368" y1="212.4" y2="212.4" stroke="#333" stroke-width="0.55"/><text x="365" y="214.3" font-size="5.3" fill="#4d4d4d" text-anchor="end">0.1</text><line x1="366.1" x2="368" y1="197.5" y2="197.5" stroke="#333" stroke-width="0.55"/><text x="365" y="199.4" font-size="5.3" fill="#4d4d4d" text-anchor="end">0.2</text><line x1="366.1" x2="368" y1="242.2" y2="242.2" stroke="#333" stroke-width="0.55"/><text x="365" y="244.1" font-size="5.3" fill="#4d4d4d" text-anchor="end">−0.1</text><line x1="366.1" x2="368" y1="298.8" y2="298.8" stroke="#333" stroke-width="0.55"/><text x="365" y="300.7" font-size="5.3" fill="#4d4d4d" text-anchor="end">0.0</text><line x1="366.1" x2="368" y1="307.3" y2="307.3" stroke="#333" stroke-width="0.55"/><text x="365" y="309.2" font-size="5.3" fill="#4d4d4d" text-anchor="end">−0.5</text><line x1="366.1" x2="368" y1="315.8" y2="315.8" stroke="#333" stroke-width="0.55"/><text x="365" y="317.7" font-size="5.3" fill="#4d4d4d" text-anchor="end">−1.0</text><line x1="376.3" x2="376.3" y1="317.5" y2="319.4" stroke="#333" stroke-width="0.55"/><text x="376.3" y="324.2" font-size="5.3" fill="#4d4d4d" text-anchor="middle">0</text><line x1="444.5" x2="444.5" y1="317.5" y2="319.4" stroke="#333" stroke-width="0.55"/><text x="444.5" y="324.2" font-size="5.3" fill="#4d4d4d" text-anchor="middle">10000</text><line x1="512.7" x2="512.7" y1="317.5" y2="319.4" stroke="#333" stroke-width="0.55"/><text x="512.7" y="324.2" font-size="5.3" fill="#4d4d4d" text-anchor="middle">20000</text>
<text x="463.4" y="332.1" font-size="6.5" fill="#000" text-anchor="middle">Rank in ordered dataset</text>
<text transform="translate(352 222.2) rotate(-90)" font-size="6.5" fill="#000" text-anchor="middle">Enrichment score</text>
<text transform="translate(352 303.9) rotate(-90)" font-size="6.5" fill="#000" text-anchor="middle">Rank</text>
<text x="571.1" y="235.6" font-size="6.4" fill="#000">Term</text>
<line x1="571.8" x2="579.6" y1="245.1" y2="245.1" stroke="#E64B35" stroke-width="1"/>
<text x="584" y="244.2" font-size="5.33" fill="#000">KRAS_SIGNALING_DN</text>
<text x="584" y="249.7" font-size="5.33" fill="#000">ES=−0.15,NES=−0.83,P=0.99,FDR=0.88</text>
<line x1="571.8" x2="579.6" y1="255.5" y2="255.5" stroke="#4DBBD5" stroke-width="1"/>
<text x="584" y="254.9" font-size="5.33" fill="#000">PANCREAS_BETA_CELLS</text>
<text x="584" y="260.8" font-size="5.33" fill="#000">ES=−0.18,NES=−0.57,P=0.97,FDR=0.92</text>
<line x1="571.8" x2="579.6" y1="266.3" y2="266.3" stroke="#00A087" stroke-width="1"/>
<text x="584" y="265.7" font-size="5.33" fill="#000">MYOGENESIS</text>
<text x="584" y="270.9" font-size="5.33" fill="#000">ES=0.16,NES=0.61,P=0.97,FDR=0.88</text>
<line x1="571.8" x2="579.6" y1="277.3" y2="277.3" stroke="#3C5488" stroke-width="1"/>
<text x="584" y="275.8" font-size="5.33" fill="#000">COAGULATION</text>
<text x="584" y="281.5" font-size="5.33" fill="#000">ES=0.23,NES=0.83,P=0.68,FDR=1</text>
</g>
<text x="3.3" y="350" font-size="11.5" font-weight="bold" font-family="Liberation Serif, Times New Roman, serif" fill="#000">E</text>
<g font-family="Liberation Serif, Times New Roman, serif">
<line x1="29.7" x2="29.7" y1="388.7" y2="537.3" stroke="#ebebeb" stroke-width="0.5"/><line x1="53.7" x2="53.7" y1="388.7" y2="537.3" stroke="#ebebeb" stroke-width="0.5"/><line x1="77.7" x2="77.7" y1="388.7" y2="537.3" stroke="#ebebeb" stroke-width="0.5"/><line x1="101.7" x2="101.7" y1="388.7" y2="537.3" stroke="#ebebeb" stroke-width="0.5"/><line x1="125.7" x2="125.7" y1="388.7" y2="537.3" stroke="#ebebeb" stroke-width="0.5"/><line x1="149.7" x2="149.7" y1="388.7" y2="537.3" stroke="#ebebeb" stroke-width="0.5"/><line x1="173.7" x2="173.7" y1="388.7" y2="537.3" stroke="#ebebeb" stroke-width="0.5"/><line x1="23.4" x2="195" y1="392" y2="392" stroke="#ebebeb" stroke-width="0.5"/><line x1="23.4" x2="195" y1="413.1" y2="413.1" stroke="#ebebeb" stroke-width="0.5"/><line x1="23.4" x2="195" y1="434.2" y2="434.2" stroke="#ebebeb" stroke-width="0.5"/><line x1="23.4" x2="195" y1="455.3" y2="455.3" stroke="#ebebeb" stroke-width="0.5"/><line x1="23.4" x2="195" y1="476.4" y2="476.4" stroke="#ebebeb" stroke-width="0.5"/><line x1="23.4" x2="195" y1="497.5" y2="497.5" stroke="#ebebeb" stroke-width="0.5"/><line x1="23.4" x2="195" y1="518.6" y2="518.6" stroke="#ebebeb" stroke-width="0.5"/>
<polygon points="29.5,504.5 36.1,500.8 42.6,497 49.2,493.3 55.8,489.6 62.3,485.9 68.9,482.1 75.4,478.4 82,474.6 88.6,470.8 95.1,467 101.7,463.1 108.2,459.1 114.8,454.9 121.4,450.5 127.9,445.9 134.5,441.2 141.1,436.5 147.6,431.8 154.2,427 160.8,422.2 167.3,417.4 173.9,412.5 180.4,407.7 187,402.9 187,416.1 180.4,419.8 173.9,423.5 167.3,427.3 160.8,431 154.2,434.7 147.6,438.5 141.1,442.3 134.5,446.1 127.9,450 121.4,453.9 114.8,458.1 108.2,462.4 101.7,466.9 95.1,471.6 88.6,476.3 82,481 75.4,485.8 68.9,490.6 62.3,495.4 55.8,500.2 49.2,505.1 42.6,509.9 36.1,514.7 29.5,519.5" fill="#999999" fill-opacity="0.45"/>
<g fill="#000" fill-opacity="0.42"><circle cx="76.2" cy="523.3" r="1.7"/><circle cx="99.4" cy="496.4" r="1.7"/><circle cx="121.9" cy="414.1" r="1.7"/><circle cx="68.2" cy="485.6" r="1.7"/><circle cx="94.3" cy="481.4" r="1.7"/><circle cx="76.6" cy="477.1" r="1.7"/><circle cx="100.1" cy="489.1" r="1.7"/><circle cx="118.5" cy="462.7" r="1.7"/><circle cx="100.4" cy="478" r="1.7"/><circle cx="114" cy="453.3" r="1.7"/><circle cx="80.1" cy="443.1" r="1.7"/><circle cx="131.8" cy="453.8" r="1.7"/><circle cx="88.2" cy="452.2" r="1.7"/><circle cx="92.2" cy="488.9" r="1.7"/><circle cx="109.5" cy="465.4" r="1.7"/><circle cx="131.5" cy="506.6" r="1.7"/><circle cx="124.2" cy="458.9" r="1.7"/><circle cx="145.5" cy="399.7" r="1.7"/><circle cx="124.2" cy="498.4" r="1.7"/><circle cx="104.2" cy="475" r="1.7"/><circle cx="105.3" cy="488.3" r="1.7"/><circle cx="121.4" cy="482.8" r="1.7"/><circle cx="98.4" cy="448.8" r="1.7"/><circle cx="130.8" cy="426.1" r="1.7"/><circle cx="136.3" cy="460.5" r="1.7"/><circle cx="124.3" cy="429" r="1.7"/><circle cx="110.5" cy="422" r="1.7"/><circle cx="91.3" cy="458.3" r="1.7"/><circle cx="99.9" cy="462.5" r="1.7"/><circle cx="99.1" cy="480.9" r="1.7"/><circle cx="101.4" cy="455.8" r="1.7"/><circle cx="107.7" cy="447" r="1.7"/><circle cx="111.9" cy="467.4" r="1.7"/><circle cx="95.1" cy="472.3" r="1.7"/><circle cx="126.8" cy="465.2" r="1.7"/><circle cx="122.2" cy="425.9" r="1.7"/><circle cx="130.4" cy="489.7" r="1.7"/><circle cx="98.2" cy="443.7" r="1.7"/><circle cx="115.7" cy="479.1" r="1.7"/><circle cx="117.9" cy="474.5" r="1.7"/><circle cx="104.3" cy="447.9" r="1.7"/><circle cx="105.4" cy="461.6" r="1.7"/><circle cx="127.5" cy="438" r="1.7"/><circle cx="114.9" cy="470.7" r="1.7"/><circle cx="134.7" cy="464.1" r="1.7"/><circle cx="109.2" cy="460.9" r="1.7"/><circle cx="128.8" cy="452.9" r="1.7"/><circle cx="131.1" cy="432.4" r="1.7"/><circle cx="126" cy="465.3" r="1.7"/><circle cx="133.6" cy="459.1" r="1.7"/><circle cx="120.6" cy="449.2" r="1.7"/><circle cx="107.5" cy="441.9" r="1.7"/><circle cx="100.3" cy="488.6" r="1.7"/><circle cx="128.2" cy="429.7" r="1.7"/><circle cx="88.8" cy="463.6" r="1.7"/><circle cx="105" cy="448.1" r="1.7"/><circle cx="96" cy="475.8" r="1.7"/><circle cx="114.4" cy="456.9" r="1.7"/><circle cx="133.5" cy="418.3" r="1.7"/><circle cx="101.4" cy="456" r="1.7"/><circle cx="127.1" cy="437" r="1.7"/><circle cx="126.6" cy="468.9" r="1.7"/><circle cx="118.6" cy="504.5" r="1.7"/><circle cx="96.8" cy="504.8" r="1.7"/><circle cx="128.1" cy="485.2" r="1.7"/><circle cx="108.1" cy="495.2" r="1.7"/><circle cx="123" cy="443.1" r="1.7"/><circle cx="107.8" cy="455.3" r="1.7"/><circle cx="131.6" cy="422.8" r="1.7"/><circle cx="120.8" cy="476" r="1.7"/><circle cx="91.3" cy="478.9" r="1.7"/><circle cx="92.3" cy="454.1" r="1.7"/><circle cx="130.4" cy="459.2" r="1.7"/><circle cx="103.2" cy="465.4" r="1.7"/><circle cx="104" cy="485.6" r="1.7"/><circle cx="74.5" cy="480.3" r="1.7"/><circle cx="116.8" cy="444.7" r="1.7"/><circle cx="127.1" cy="450.6" r="1.7"/><circle cx="134.6" cy="443.8" r="1.7"/><circle cx="93.5" cy="490.7" r="1.7"/><circle cx="131" cy="441.5" r="1.7"/><circle cx="92.1" cy="464.1" r="1.7"/><circle cx="103.6" cy="468.3" r="1.7"/><circle cx="104.1" cy="439.5" r="1.7"/><circle cx="113.3" cy="448.2" r="1.7"/><circle cx="110.2" cy="476" r="1.7"/><circle cx="111.1" cy="440.9" r="1.7"/><circle cx="110.8" cy="482.1" r="1.7"/><circle cx="138.6" cy="429.4" r="1.7"/><circle cx="97" cy="463.8" r="1.7"/><circle cx="94.4" cy="481.2" r="1.7"/><circle cx="127.9" cy="451" r="1.7"/><circle cx="100.2" cy="440.4" r="1.7"/><circle cx="119.2" cy="420.6" r="1.7"/><circle cx="137.5" cy="446.5" r="1.7"/><circle cx="80.2" cy="458.9" r="1.7"/><circle cx="125.6" cy="442.9" r="1.7"/><circle cx="72.9" cy="496.5" r="1.7"/><circle cx="110.1" cy="454.9" r="1.7"/><circle cx="106.7" cy="450" r="1.7"/><circle cx="120.1" cy="429.5" r="1.7"/><circle cx="125.5" cy="451.9" r="1.7"/><circle cx="75.9" cy="530.4" r="1.7"/><circle cx="80.9" cy="458.8" r="1.7"/><circle cx="115.2" cy="425.9" r="1.7"/><circle cx="121.4" cy="443.8" r="1.7"/><circle cx="89.8" cy="497.8" r="1.7"/><circle cx="115.7" cy="449.8" r="1.7"/><circle cx="89.8" cy="470.1" r="1.7"/><circle cx="107.8" cy="459.4" r="1.7"/><circle cx="148.4" cy="438" r="1.7"/><circle cx="129.9" cy="426.9" r="1.7"/><circle cx="120.1" cy="426.6" r="1.7"/><circle cx="107.9" cy="460.2" r="1.7"/><circle cx="136.7" cy="481.2" r="1.7"/><circle cx="122.6" cy="416.4" r="1.7"/><circle cx="51" cy="492.5" r="1.7"/><circle cx="119" cy="448" r="1.7"/><circle cx="113.7" cy="447.9" r="1.7"/><circle cx="108.7" cy="463.2" r="1.7"/><circle cx="106.6" cy="447.8" r="1.7"/><circle cx="103.2" cy="481" r="1.7"/><circle cx="99.1" cy="449.8" r="1.7"/><circle cx="125" cy="420" r="1.7"/><circle cx="121.6" cy="447.9" r="1.7"/><circle cx="90.9" cy="484.3" r="1.7"/><circle cx="124.3" cy="510.4" r="1.7"/><circle cx="125.9" cy="445.3" r="1.7"/><circle cx="122.9" cy="486.3" r="1.7"/><circle cx="95.8" cy="436.5" r="1.7"/><circle cx="101.5" cy="484.5" r="1.7"/><circle cx="98.7" cy="497.2" r="1.7"/><circle cx="134.6" cy="442.5" r="1.7"/><circle cx="137.7" cy="461.2" r="1.7"/><circle cx="115.9" cy="450" r="1.7"/><circle cx="88.8" cy="463.6" r="1.7"/><circle cx="88.6" cy="470.3" r="1.7"/><circle cx="103.3" cy="479" r="1.7"/><circle cx="86.2" cy="436.8" r="1.7"/><circle cx="110.3" cy="489.6" r="1.7"/><circle cx="97.7" cy="463.3" r="1.7"/><circle cx="85.7" cy="463.9" r="1.7"/><circle cx="92.9" cy="495.5" r="1.7"/><circle cx="101.2" cy="470.6" r="1.7"/><circle cx="118.6" cy="508.9" r="1.7"/><circle cx="100.6" cy="442.9" r="1.7"/><circle cx="110.9" cy="455.4" r="1.7"/><circle cx="101.7" cy="455.8" r="1.7"/><circle cx="82.9" cy="506.2" r="1.7"/><circle cx="82.9" cy="461.8" r="1.7"/><circle cx="97.3" cy="438.1" r="1.7"/><circle cx="95.1" cy="416.6" r="1.7"/><circle cx="78.9" cy="447.2" r="1.7"/><circle cx="125.4" cy="449.9" r="1.7"/><circle cx="109.5" cy="442.5" r="1.7"/><circle cx="98.6" cy="491.9" r="1.7"/><circle cx="127.5" cy="414.7" r="1.7"/><circle cx="101.9" cy="461.1" r="1.7"/><circle cx="93.5" cy="438.8" r="1.7"/><circle cx="102.1" cy="459.2" r="1.7"/><circle cx="119" cy="435.8" r="1.7"/><circle cx="99.1" cy="454.2" r="1.7"/><circle cx="98.1" cy="424.9" r="1.7"/><circle cx="133" cy="461.3" r="1.7"/><circle cx="111.6" cy="441.2" r="1.7"/><circle cx="123.3" cy="437.6" r="1.7"/><circle cx="134.6" cy="428.5" r="1.7"/><circle cx="98.6" cy="453.1" r="1.7"/><circle cx="111.4" cy="481.9" r="1.7"/><circle cx="88.2" cy="493.5" r="1.7"/><circle cx="143.5" cy="438.8" r="1.7"/><circle cx="127.7" cy="422.9" r="1.7"/><circle cx="117.8" cy="454.5" r="1.7"/><circle cx="94" cy="457.2" r="1.7"/><circle cx="145.6" cy="390.7" r="1.7"/><circle cx="73" cy="466.2" r="1.7"/><circle cx="106" cy="461.9" r="1.7"/><circle cx="140.4" cy="420.8" r="1.7"/><circle cx="101" cy="454.3" r="1.7"/><circle cx="125.3" cy="466" r="1.7"/><circle cx="146.8" cy="454.1" r="1.7"/><circle cx="120.7" cy="409.7" r="1.7"/><circle cx="100.1" cy="470.8" r="1.7"/><circle cx="145.1" cy="436.6" r="1.7"/><circle cx="104.7" cy="468.2" r="1.7"/><circle cx="141.6" cy="424.8" r="1.7"/><circle cx="87.8" cy="475.7" r="1.7"/><circle cx="139.3" cy="392.5" r="1.7"/><circle cx="124.1" cy="439.6" r="1.7"/><circle cx="75.6" cy="493.8" r="1.7"/><circle cx="118.5" cy="423.6" r="1.7"/><circle cx="95.7" cy="454.4" r="1.7"/><circle cx="110.7" cy="439.8" r="1.7"/><circle cx="110.2" cy="459.8" r="1.7"/><circle cx="85.3" cy="495.7" r="1.7"/><circle cx="127.8" cy="434.7" r="1.7"/><circle cx="143.7" cy="475.9" r="1.7"/><circle cx="114.3" cy="441.6" r="1.7"/><circle cx="105.1" cy="477.3" r="1.7"/><circle cx="118" cy="462.5" r="1.7"/><circle cx="104.7" cy="434.9" r="1.7"/><circle cx="114.6" cy="433.5" r="1.7"/><circle cx="106.4" cy="459.6" r="1.7"/><circle cx="90" cy="445.9" r="1.7"/><circle cx="130.8" cy="412.1" r="1.7"/><circle cx="103" cy="454.5" r="1.7"/><circle cx="84.7" cy="440.4" r="1.7"/><circle cx="73.5" cy="476.6" r="1.7"/><circle cx="107.5" cy="447.4" r="1.7"/><circle cx="87.6" cy="481.5" r="1.7"/><circle cx="120.8" cy="470.9" r="1.7"/><circle cx="79" cy="439.2" r="1.7"/><circle cx="53.2" cy="484.9" r="1.7"/><circle cx="83" cy="489.2" r="1.7"/><circle cx="127.2" cy="499.8" r="1.7"/><circle cx="120.7" cy="449.7" r="1.7"/><circle cx="131.2" cy="446.2" r="1.7"/><circle cx="126.9" cy="431.9" r="1.7"/><circle cx="95.8" cy="515.5" r="1.7"/><circle cx="110.1" cy="447.5" r="1.7"/><circle cx="111.7" cy="465.7" r="1.7"/><circle cx="99.6" cy="480.9" r="1.7"/><circle cx="103.4" cy="432.1" r="1.7"/><circle cx="98.3" cy="433.5" r="1.7"/><circle cx="83.6" cy="445.1" r="1.7"/><circle cx="123.8" cy="446" r="1.7"/><circle cx="122.4" cy="462.9" r="1.7"/><circle cx="54.3" cy="474.7" r="1.7"/><circle cx="96.5" cy="503" r="1.7"/><circle cx="98.3" cy="447.4" r="1.7"/><circle cx="126.3" cy="450.6" r="1.7"/><circle cx="110.1" cy="450.4" r="1.7"/><circle cx="108" cy="433" r="1.7"/><circle cx="97.9" cy="453.9" r="1.7"/><circle cx="115.1" cy="448.4" r="1.7"/><circle cx="132.6" cy="409.9" r="1.7"/><circle cx="155.2" cy="422.6" r="1.7"/><circle cx="70.3" cy="458.6" r="1.7"/><circle cx="110.9" cy="473.7" r="1.7"/><circle cx="75" cy="452.9" r="1.7"/><circle cx="129.9" cy="416.7" r="1.7"/><circle cx="117" cy="429.3" r="1.7"/><circle cx="104.7" cy="465.3" r="1.7"/><circle cx="100.3" cy="488.1" r="1.7"/><circle cx="78.7" cy="448.7" r="1.7"/><circle cx="134.5" cy="451.7" r="1.7"/><circle cx="136" cy="453.1" r="1.7"/><circle cx="141.5" cy="426" r="1.7"/><circle cx="137" cy="451.3" r="1.7"/><circle cx="71.9" cy="491.5" r="1.7"/><circle cx="132.6" cy="429" r="1.7"/><circle cx="74.7" cy="434.4" r="1.7"/><circle cx="148.5" cy="431.7" r="1.7"/><circle cx="124.2" cy="436.8" r="1.7"/><circle cx="134.3" cy="441.9" r="1.7"/><circle cx="123.7" cy="457.2" r="1.7"/><circle cx="135.5" cy="481.2" r="1.7"/><circle cx="123.1" cy="439.7" r="1.7"/><circle cx="135.4" cy="460" r="1.7"/><circle cx="70.6" cy="486.3" r="1.7"/><circle cx="119.5" cy="438.7" r="1.7"/><circle cx="130.1" cy="422.6" r="1.7"/><circle cx="133.6" cy="411.2" r="1.7"/><circle cx="74.6" cy="436.1" r="1.7"/><circle cx="108.6" cy="466" r="1.7"/><circle cx="114" cy="464.8" r="1.7"/><circle cx="95.4" cy="449.2" r="1.7"/><circle cx="106.4" cy="475.6" r="1.7"/><circle cx="129.4" cy="446" r="1.7"/><circle cx="147.9" cy="430.4" r="1.7"/><circle cx="118.8" cy="432.9" r="1.7"/><circle cx="136.8" cy="423.6" r="1.7"/><circle cx="89.4" cy="485.1" r="1.7"/><circle cx="107.3" cy="468.1" r="1.7"/><circle cx="82.8" cy="469.7" r="1.7"/><circle cx="92.5" cy="486.9" r="1.7"/><circle cx="111.6" cy="465.6" r="1.7"/><circle cx="119.4" cy="423.6" r="1.7"/><circle cx="98.4" cy="495" r="1.7"/><circle cx="117.2" cy="451.1" r="1.7"/><circle cx="132.9" cy="485.9" r="1.7"/><circle cx="123.8" cy="432.1" r="1.7"/><circle cx="113.3" cy="411.3" r="1.7"/><circle cx="121" cy="464.7" r="1.7"/><circle cx="101.6" cy="501.3" r="1.7"/><circle cx="115.8" cy="449.8" r="1.7"/><circle cx="120.2" cy="456.5" r="1.7"/><circle cx="75.4" cy="527" r="1.7"/><circle cx="73.3" cy="504.6" r="1.7"/><circle cx="102.2" cy="480.4" r="1.7"/><circle cx="127.5" cy="437.8" r="1.7"/><circle cx="106.1" cy="448" r="1.7"/><circle cx="131.4" cy="418.2" r="1.7"/><circle cx="99.6" cy="443.9" r="1.7"/><circle cx="100.2" cy="463.6" r="1.7"/><circle cx="133.2" cy="455.1" r="1.7"/><circle cx="103.9" cy="503.2" r="1.7"/><circle cx="110" cy="492.3" r="1.7"/><circle cx="126.5" cy="454.9" r="1.7"/><circle cx="101.8" cy="469.5" r="1.7"/><circle cx="56.4" cy="504.5" r="1.7"/><circle cx="114.1" cy="454.9" r="1.7"/><circle cx="102.5" cy="498.1" r="1.7"/><circle cx="107.4" cy="447.9" r="1.7"/><circle cx="99.6" cy="460.5" r="1.7"/><circle cx="118" cy="424.5" r="1.7"/><circle cx="109.3" cy="431.5" r="1.7"/><circle cx="128" cy="457.2" r="1.7"/><circle cx="103.2" cy="485.6" r="1.7"/><circle cx="96.7" cy="487.7" r="1.7"/><circle cx="111.3" cy="479.2" r="1.7"/><circle cx="124.7" cy="430.2" r="1.7"/><circle cx="139.1" cy="480.1" r="1.7"/><circle cx="97.9" cy="479.3" r="1.7"/><circle cx="79.9" cy="472.4" r="1.7"/><circle cx="104.1" cy="464.1" r="1.7"/><circle cx="123.3" cy="433.5" r="1.7"/><circle cx="115.1" cy="441.3" r="1.7"/><circle cx="124.6" cy="456" r="1.7"/><circle cx="110.4" cy="451.7" r="1.7"/><circle cx="101.7" cy="469.2" r="1.7"/><circle cx="116.1" cy="460.1" r="1.7"/><circle cx="123.6" cy="417.6" r="1.7"/><circle cx="116.7" cy="482.9" r="1.7"/><circle cx="68.1" cy="530.5" r="1.7"/><circle cx="101.5" cy="451.1" r="1.7"/><circle cx="107.5" cy="471.6" r="1.7"/><circle cx="102" cy="486.1" r="1.7"/><circle cx="90.1" cy="473.6" r="1.7"/><circle cx="119.2" cy="458.6" r="1.7"/><circle cx="65.4" cy="475" r="1.7"/><circle cx="108.8" cy="451" r="1.7"/><circle cx="71.6" cy="491.2" r="1.7"/><circle cx="100.3" cy="493.6" r="1.7"/><circle cx="143.5" cy="441.8" r="1.7"/><circle cx="138.9" cy="462.7" r="1.7"/><circle cx="105.9" cy="469.7" r="1.7"/><circle cx="86.9" cy="472.9" r="1.7"/><circle cx="141.2" cy="457.7" r="1.7"/><circle cx="140.7" cy="451.5" r="1.7"/><circle cx="103.4" cy="489.6" r="1.7"/><circle cx="77.1" cy="513.8" r="1.7"/><circle cx="87.2" cy="486" r="1.7"/><circle cx="134.6" cy="455.3" r="1.7"/><circle cx="82.1" cy="500.5" r="1.7"/><circle cx="106.1" cy="454.3" r="1.7"/><circle cx="98.9" cy="463.4" r="1.7"/><circle cx="95.6" cy="489.1" r="1.7"/><circle cx="83.3" cy="454.4" r="1.7"/><circle cx="47.3" cy="466.5" r="1.7"/><circle cx="91.3" cy="453.9" r="1.7"/><circle cx="115.2" cy="470.3" r="1.7"/><circle cx="101.5" cy="471.5" r="1.7"/><circle cx="120.8" cy="451.7" r="1.7"/><circle cx="107.5" cy="461.5" r="1.7"/><circle cx="121.7" cy="432.1" r="1.7"/><circle cx="93.2" cy="470.7" r="1.7"/><circle cx="95.7" cy="456" r="1.7"/><circle cx="140.4" cy="460.2" r="1.7"/><circle cx="136.1" cy="442.9" r="1.7"/><circle cx="113.4" cy="472.2" r="1.7"/><circle cx="147.9" cy="445.4" r="1.7"/><circle cx="131.7" cy="443.8" r="1.7"/><circle cx="132.6" cy="436.8" r="1.7"/><circle cx="111" cy="447.2" r="1.7"/><circle cx="86.4" cy="488" r="1.7"/><circle cx="116.5" cy="469.1" r="1.7"/><circle cx="143.9" cy="418.3" r="1.7"/><circle cx="106.8" cy="455" r="1.7"/><circle cx="111.1" cy="465.2" r="1.7"/><circle cx="84.8" cy="477.6" r="1.7"/><circle cx="101.6" cy="485.5" r="1.7"/><circle cx="89" cy="477.3" r="1.7"/><circle cx="135.4" cy="471.4" r="1.7"/><circle cx="157.2" cy="415.7" r="1.7"/><circle cx="134.2" cy="455.4" r="1.7"/><circle cx="120.5" cy="447.2" r="1.7"/><circle cx="111.8" cy="440" r="1.7"/><circle cx="103.6" cy="402.8" r="1.7"/><circle cx="99.6" cy="459.8" r="1.7"/><circle cx="123.9" cy="451.1" r="1.7"/><circle cx="72.8" cy="492.3" r="1.7"/><circle cx="133" cy="468.4" r="1.7"/><circle cx="103.9" cy="470.3" r="1.7"/><circle cx="100" cy="459.8" r="1.7"/><circle cx="124.9" cy="430.4" r="1.7"/><circle cx="107.8" cy="450.6" r="1.7"/><circle cx="136.8" cy="448" r="1.7"/><circle cx="111.1" cy="423.6" r="1.7"/><circle cx="133.4" cy="416.9" r="1.7"/><circle cx="110.6" cy="456.7" r="1.7"/><circle cx="143.8" cy="466.3" r="1.7"/><circle cx="97.6" cy="469.3" r="1.7"/><circle cx="98.5" cy="482.6" r="1.7"/><circle cx="154.9" cy="423.9" r="1.7"/><circle cx="129.8" cy="422.6" r="1.7"/><circle cx="90.6" cy="460" r="1.7"/><circle cx="122.9" cy="461.6" r="1.7"/><circle cx="105.8" cy="450.4" r="1.7"/><circle cx="86.9" cy="473.8" r="1.7"/><circle cx="122.9" cy="455.3" r="1.7"/><circle cx="153.7" cy="471.3" r="1.7"/><circle cx="130" cy="474.8" r="1.7"/><circle cx="123.6" cy="412.2" r="1.7"/><circle cx="105.2" cy="435.2" r="1.7"/><circle cx="80" cy="493.4" r="1.7"/><circle cx="92.9" cy="468.3" r="1.7"/><circle cx="125.2" cy="458.8" r="1.7"/><circle cx="113" cy="470.7" r="1.7"/><circle cx="133.6" cy="466.9" r="1.7"/><circle cx="146" cy="390.7" r="1.7"/><circle cx="136.9" cy="419.6" r="1.7"/><circle cx="120.1" cy="404.6" r="1.7"/><circle cx="94.1" cy="499" r="1.7"/><circle cx="124.1" cy="450.7" r="1.7"/><circle cx="107.4" cy="451.5" r="1.7"/><circle cx="125.2" cy="449" r="1.7"/><circle cx="108.4" cy="476.5" r="1.7"/><circle cx="111.2" cy="461.6" r="1.7"/><circle cx="115.9" cy="422.8" r="1.7"/><circle cx="98" cy="477.3" r="1.7"/><circle cx="133.4" cy="467.7" r="1.7"/><circle cx="135.9" cy="433.2" r="1.7"/><circle cx="113.5" cy="461.6" r="1.7"/><circle cx="112.8" cy="435.9" r="1.7"/><circle cx="114.9" cy="490" r="1.7"/><circle cx="123.1" cy="426.4" r="1.7"/><circle cx="103" cy="453.9" r="1.7"/><circle cx="88.9" cy="474.1" r="1.7"/><circle cx="85" cy="478.9" r="1.7"/><circle cx="119.3" cy="461.8" r="1.7"/><circle cx="106.6" cy="435" r="1.7"/><circle cx="116.3" cy="463.9" r="1.7"/><circle cx="126" cy="434.2" r="1.7"/><circle cx="118" cy="452.5" r="1.7"/><circle cx="95.6" cy="474.7" r="1.7"/><circle cx="131.9" cy="427.9" r="1.7"/><circle cx="135" cy="390.7" r="1.7"/><circle cx="94.1" cy="498.7" r="1.7"/><circle cx="96.3" cy="463.6" r="1.7"/><circle cx="96.4" cy="450.4" r="1.7"/><circle cx="108.9" cy="488.2" r="1.7"/><circle cx="145" cy="464.9" r="1.7"/><circle cx="115.5" cy="458.5" r="1.7"/><circle cx="99.5" cy="497.3" r="1.7"/><circle cx="127.6" cy="456.1" r="1.7"/><circle cx="125.6" cy="439.2" r="1.7"/><circle cx="104.9" cy="453.3" r="1.7"/><circle cx="103.3" cy="484.4" r="1.7"/><circle cx="114.9" cy="455.5" r="1.7"/><circle cx="127.7" cy="430" r="1.7"/><circle cx="119.1" cy="457.6" r="1.7"/><circle cx="83.1" cy="487.1" r="1.7"/><circle cx="77.6" cy="474.8" r="1.7"/><circle cx="125.7" cy="457.4" r="1.7"/><circle cx="100" cy="493.3" r="1.7"/><circle cx="84.7" cy="476.6" r="1.7"/><circle cx="96.6" cy="494" r="1.7"/><circle cx="126.4" cy="452.1" r="1.7"/><circle cx="156.6" cy="445.4" r="1.7"/><circle cx="136.8" cy="440.3" r="1.7"/><circle cx="82.8" cy="476.9" r="1.7"/><circle cx="118.4" cy="426.1" r="1.7"/><circle cx="102.6" cy="469.5" r="1.7"/><circle cx="108.5" cy="390.7" r="1.7"/><circle cx="109.3" cy="441.7" r="1.7"/><circle cx="104.1" cy="446.3" r="1.7"/><circle cx="99.3" cy="449.4" r="1.7"/><circle cx="116.7" cy="477.3" r="1.7"/><circle cx="103.1" cy="438.3" r="1.7"/><circle cx="101.7" cy="464.2" r="1.7"/><circle cx="94.1" cy="475.7" r="1.7"/><circle cx="143.7" cy="452.9" r="1.7"/><circle cx="106.3" cy="471.4" r="1.7"/><circle cx="105.7" cy="468.6" r="1.7"/><circle cx="106.5" cy="470.7" r="1.7"/><circle cx="116" cy="491.6" r="1.7"/><circle cx="91.7" cy="442.5" r="1.7"/><circle cx="84.1" cy="443" r="1.7"/><circle cx="128.1" cy="447.5" r="1.7"/><circle cx="128.6" cy="448.8" r="1.7"/><circle cx="92.9" cy="487.8" r="1.7"/><circle cx="122.6" cy="450.4" r="1.7"/><circle cx="97.3" cy="488.8" r="1.7"/><circle cx="102.6" cy="421.9" r="1.7"/><circle cx="146.3" cy="421.9" r="1.7"/><circle cx="123" cy="460.8" r="1.7"/><circle cx="135.5" cy="434.5" r="1.7"/><circle cx="96.2" cy="481.4" r="1.7"/><circle cx="111" cy="449.2" r="1.7"/><circle cx="93.2" cy="459.9" r="1.7"/><circle cx="132.8" cy="460.3" r="1.7"/><circle cx="76" cy="495.7" r="1.7"/><circle cx="129.3" cy="441.9" r="1.7"/><circle cx="121.7" cy="481.1" r="1.7"/><circle cx="137.3" cy="432.4" r="1.7"/><circle cx="128.2" cy="453.7" r="1.7"/><circle cx="92" cy="418.2" r="1.7"/><circle cx="114.2" cy="472.1" r="1.7"/><circle cx="123.4" cy="479.9" r="1.7"/><circle cx="146.8" cy="446.9" r="1.7"/><circle cx="117.4" cy="439.1" r="1.7"/><circle cx="101" cy="485.4" r="1.7"/><circle cx="126.2" cy="452.5" r="1.7"/><circle cx="66.3" cy="470.7" r="1.7"/><circle cx="112.3" cy="438.1" r="1.7"/><circle cx="29.5" cy="421" r="1.7"/><circle cx="33" cy="491" r="1.7"/><circle cx="117.5" cy="395.5" r="1.7"/><circle cx="159.5" cy="397.5" r="1.7"/><circle cx="187.5" cy="403" r="1.7"/><circle cx="112" cy="527.5" r="1.7"/><circle cx="124" cy="530.5" r="1.7"/><circle cx="103.5" cy="527" r="1.7"/><circle cx="147.5" cy="509" r="1.7"/><circle cx="52" cy="460" r="1.7"/></g>
<line x1="29.5" y1="512" x2="187" y2="409.5" stroke="#0000ff" stroke-width="1.5"/>
<polygon points="29.8,386.3 31.5,386.4 33.9,386.4 36.6,386.5 39.4,386.5 41.9,386.5 44.2,386.4 46.4,386.3 48.5,386.1 50.5,385.9 52.5,385.7 54.4,385.5 56.2,385.3 57.9,385.1 59.6,384.8 61.3,384.5 63.1,384.2 64.8,383.8 66.5,383.4 68.2,383 70,382.4 71.7,381.8 73.5,381 75.3,380.2 77,379.4 78.8,378.5 80.6,377.6 82.4,376.6 84.2,375.7 86,374.6 87.6,373.6 89.1,372.5 90.6,371.4 92,370.3 93.3,369.1 94.5,368 95.8,366.8 96.9,365.6 98,364.4 99,363.3 99.9,362.4 100.7,361.7 101.3,361.3 101.9,360.9 102.4,360.7 102.9,360.4 103.4,360.2 103.8,359.9 104.2,359.8 104.6,359.7 105.1,359.6 105.6,359.6 106.1,359.6 106.7,359.7 107.2,359.9 107.8,360 108.3,360.1 108.7,360.3 109.2,360.5 109.8,360.7 110.5,361 111.3,361.4 112.4,362 113.5,362.5 114.6,363.1 115.7,363.5 116.6,363.8 117.6,364 118.5,364.2 119.3,364.4 120.1,364.5 120.6,364.6 121.1,364.7 121.5,364.8 121.8,364.8 122.3,364.9 122.7,365 123.2,365.1 123.8,365.2 124.3,365.3 124.8,365.5 125.3,365.8 125.7,366 126.2,366.3 126.8,366.7 127.5,367.2 128.3,367.8 129.3,368.6 130.4,369.4 131.6,370.3 132.8,371.2 134.1,372.2 135.5,373.4 136.9,374.6 138.3,375.8 139.8,376.9 141.2,377.9 142.6,378.8 144,379.6 145.4,380.4 146.8,381.2 148.2,381.9 149.6,382.6 151,383.2 152.4,383.7 153.8,384.2 155.2,384.6 156.6,384.9 158,385.2 159.4,385.5 160.9,385.7 162.1,385.9 163,386 164.1,386.1 165.6,386.2 167.8,386.3 171.1,386.4 175.5,386.4 180.1,386.5 184.2,386.5 187,386.5 187,386.5 29.5,386.5" fill="#cd7466"/>
<polyline points="29.8,386.3 31.5,386.4 33.9,386.4 36.6,386.5 39.4,386.5 41.9,386.5 44.2,386.4 46.4,386.3 48.5,386.1 50.5,385.9 52.5,385.7 54.4,385.5 56.2,385.3 57.9,385.1 59.6,384.8 61.3,384.5 63.1,384.2 64.8,383.8 66.5,383.4 68.2,383 70,382.4 71.7,381.8 73.5,381 75.3,380.2 77,379.4 78.8,378.5 80.6,377.6 82.4,376.6 84.2,375.7 86,374.6 87.6,373.6 89.1,372.5 90.6,371.4 92,370.3 93.3,369.1 94.5,368 95.8,366.8 96.9,365.6 98,364.4 99,363.3 99.9,362.4 100.7,361.7 101.3,361.3 101.9,360.9 102.4,360.7 102.9,360.4 103.4,360.2 103.8,359.9 104.2,359.8 104.6,359.7 105.1,359.6 105.6,359.6 106.1,359.6 106.7,359.7 107.2,359.9 107.8,360 108.3,360.1 108.7,360.3 109.2,360.5 109.8,360.7 110.5,361 111.3,361.4 112.4,362 113.5,362.5 114.6,363.1 115.7,363.5 116.6,363.8 117.6,364 118.5,364.2 119.3,364.4 120.1,364.5 120.6,364.6 121.1,364.7 121.5,364.8 121.8,364.8 122.3,364.9 122.7,365 123.2,365.1 123.8,365.2 124.3,365.3 124.8,365.5 125.3,365.8 125.7,366 126.2,366.3 126.8,366.7 127.5,367.2 128.3,367.8 129.3,368.6 130.4,369.4 131.6,370.3 132.8,371.2 134.1,372.2 135.5,373.4 136.9,374.6 138.3,375.8 139.8,376.9 141.2,377.9 142.6,378.8 144,379.6 145.4,380.4 146.8,381.2 148.2,381.9 149.6,382.6 151,383.2 152.4,383.7 153.8,384.2 155.2,384.6 156.6,384.9 158,385.2 159.4,385.5 160.9,385.7 162.1,385.9 163,386 164.1,386.1 165.6,386.2 167.8,386.3 171.1,386.4 175.5,386.4 180.1,386.5 184.2,386.5 187,386.5" fill="none" stroke="#000" stroke-width="0.7"/>
<polygon points="197,394.9 197.1,394.9 197.2,394.9 197.3,394.9 197.5,395.2 197.8,395.7 198.2,396.7 198.7,397.9 199.3,399.4 199.9,401 200.5,402.5 201.2,404.1 202,405.7 202.8,407.3 203.7,409 204.6,410.8 205.7,412.6 206.8,414.4 208,416.3 209.2,418.2 210.4,420.1 211.7,421.9 213,423.8 214.3,425.7 215.7,427.5 217,429.3 218.3,431.1 219.7,432.8 221,434.5 222.3,436.1 223.4,437.6 224.4,438.9 225.2,440.1 226,441.2 226.6,442.2 227.1,443.1 227.5,443.9 227.7,444.5 227.9,445 227.9,445.6 227.9,446.2 227.9,447 227.9,447.9 227.8,448.8 227.6,449.8 227.3,451 226.9,452.2 226.3,453.6 225.7,455.1 225,456.6 224.2,458.2 223.5,459.8 222.6,461.5 221.7,463.2 220.9,464.8 220.1,466.4 219.4,468 218.7,469.4 218.1,470.8 217.5,472.2 217,473.7 216.6,475.1 216.2,476.5 215.8,478 215.5,479.4 215.4,480.9 215.3,482.3 215.4,483.7 215.6,485.1 215.7,486.6 215.6,488.1 215.3,489.7 214.8,491.3 214.3,493 213.6,494.7 212.9,496.3 212,498 211,499.6 209.9,501.3 208.8,502.9 207.7,504.6 206.7,506.2 205.6,507.9 204.5,509.5 203.5,511.2 202.6,512.8 201.7,514.5 201,516.1 200.3,517.7 199.6,519.4 199.1,521.1 198.6,523 198.2,525.2 197.9,527.3 197.6,529.1 197.4,530.4 197,530.4 197,394.9" fill="#4a9fcc"/>
<polyline points="197,394.9 197.1,394.9 197.2,394.9 197.3,394.9 197.5,395.2 197.8,395.7 198.2,396.7 198.7,397.9 199.3,399.4 199.9,401 200.5,402.5 201.2,404.1 202,405.7 202.8,407.3 203.7,409 204.6,410.8 205.7,412.6 206.8,414.4 208,416.3 209.2,418.2 210.4,420.1 211.7,421.9 213,423.8 214.3,425.7 215.7,427.5 217,429.3 218.3,431.1 219.7,432.8 221,434.5 222.3,436.1 223.4,437.6 224.4,438.9 225.2,440.1 226,441.2 226.6,442.2 227.1,443.1 227.5,443.9 227.7,444.5 227.9,445 227.9,445.6 227.9,446.2 227.9,447 227.9,447.9 227.8,448.8 227.6,449.8 227.3,451 226.9,452.2 226.3,453.6 225.7,455.1 225,456.6 224.2,458.2 223.5,459.8 222.6,461.5 221.7,463.2 220.9,464.8 220.1,466.4 219.4,468 218.7,469.4 218.1,470.8 217.5,472.2 217,473.7 216.6,475.1 216.2,476.5 215.8,478 215.5,479.4 215.4,480.9 215.3,482.3 215.4,483.7 215.6,485.1 215.7,486.6 215.6,488.1 215.3,489.7 214.8,491.3 214.3,493 213.6,494.7 212.9,496.3 212,498 211,499.6 209.9,501.3 208.8,502.9 207.7,504.6 206.7,506.2 205.6,507.9 204.5,509.5 203.5,511.2 202.6,512.8 201.7,514.5 201,516.1 200.3,517.7 199.6,519.4 199.1,521.1 198.6,523 198.2,525.2 197.9,527.3 197.6,529.1 197.4,530.4" fill="none" stroke="#000" stroke-width="0.7"/>
<text x="29.7" y="544.4" font-size="6.6" font-weight="bold" fill="#000" text-anchor="middle">2</text><text x="77.7" y="544.4" font-size="6.6" font-weight="bold" fill="#000" text-anchor="middle">4</text><text x="125.7" y="544.4" font-size="6.6" font-weight="bold" fill="#000" text-anchor="middle">6</text><text x="173.7" y="544.4" font-size="6.6" font-weight="bold" fill="#000" text-anchor="middle">8</text><text x="23.3" y="394.3" font-size="6.6" font-weight="bold" fill="#000" text-anchor="end">0.70</text><text x="23.3" y="436.5" font-size="6.6" font-weight="bold" fill="#000" text-anchor="end">0.65</text><text x="23.3" y="478.7" font-size="6.6" font-weight="bold" fill="#000" text-anchor="end">0.60</text><text x="23.3" y="520.9" font-size="6.6" font-weight="bold" fill="#000" text-anchor="end">0.55</text>
<text x="108.6" y="549.5" font-size="5.77" font-weight="bold" fill="#000" text-anchor="middle">Log2 (PRKDC TPM + 1)</text>
<text transform="translate(7.5 463) rotate(-90)" font-size="5.8" font-weight="bold" fill="#000" text-anchor="middle">G2M_checkpoint</text>
<text x="21.8" y="349.9" font-size="5.3" fill="#000" textLength="168.4" lengthAdjust="spacingAndGlyphs" stroke="#000" stroke-width="0.04">log<tspan font-size="3.7" dy="1.1">e</tspan><tspan dy="-1.1">(</tspan><tspan font-style="italic">S</tspan>) = 16.15, <tspan font-style="italic">p</tspan> = 4.87e−42, <tspan>ρ̂</tspan><tspan font-size="3.7" dy="1.1">Spearman</tspan><tspan dy="-1.1"> = 0.55, CI</tspan><tspan font-size="3.7" dy="1.1">95%</tspan><tspan dy="-1.1"> [0.48, 0.61], </tspan><tspan font-style="italic">n</tspan><tspan font-size="3.7" dy="1.1">pairs</tspan><tspan dy="-1.1"> = 516</tspan></text>
</g>
<g font-family="Liberation Serif, Times New Roman, serif">
<line x1="257.6" x2="257.6" y1="388.7" y2="537.3" stroke="#ebebeb" stroke-width="0.5"/><line x1="281.6" x2="281.6" y1="388.7" y2="537.3" stroke="#ebebeb" stroke-width="0.5"/><line x1="305.5" x2="305.5" y1="388.7" y2="537.3" stroke="#ebebeb" stroke-width="0.5"/><line x1="329.5" x2="329.5" y1="388.7" y2="537.3" stroke="#ebebeb" stroke-width="0.5"/><line x1="353.4" x2="353.4" y1="388.7" y2="537.3" stroke="#ebebeb" stroke-width="0.5"/><line x1="377.4" x2="377.4" y1="388.7" y2="537.3" stroke="#ebebeb" stroke-width="0.5"/><line x1="401.3" x2="401.3" y1="388.7" y2="537.3" stroke="#ebebeb" stroke-width="0.5"/><line x1="249.7" x2="423.3" y1="401" y2="401" stroke="#ebebeb" stroke-width="0.5"/><line x1="249.7" x2="423.3" y1="419.1" y2="419.1" stroke="#ebebeb" stroke-width="0.5"/><line x1="249.7" x2="423.3" y1="437.2" y2="437.2" stroke="#ebebeb" stroke-width="0.5"/><line x1="249.7" x2="423.3" y1="455.3" y2="455.3" stroke="#ebebeb" stroke-width="0.5"/><line x1="249.7" x2="423.3" y1="473.4" y2="473.4" stroke="#ebebeb" stroke-width="0.5"/><line x1="249.7" x2="423.3" y1="491.5" y2="491.5" stroke="#ebebeb" stroke-width="0.5"/><line x1="249.7" x2="423.3" y1="509.6" y2="509.6" stroke="#ebebeb" stroke-width="0.5"/><line x1="249.7" x2="423.3" y1="527.7" y2="527.7" stroke="#ebebeb" stroke-width="0.5"/>
<polygon points="257.6,487.7 264.2,485.2 270.7,482.8 277.3,480.4 283.9,477.9 290.4,475.5 297,473 303.5,470.5 310.1,468.1 316.7,465.5 323.2,463 329.8,460.3 336.4,457.6 342.9,454.6 349.5,451.5 356,448.2 362.6,444.8 369.2,441.4 375.7,437.9 382.3,434.4 388.9,430.8 395.4,427.3 402,423.7 408.5,420.2 415.1,416.6 415.1,430 408.5,432.4 402,434.8 395.4,437.3 388.9,439.7 382.3,442.2 375.7,444.7 369.2,447.2 362.6,449.7 356,452.3 349.5,455 342.9,457.9 336.4,460.9 329.8,464.1 323.2,467.5 316.7,470.9 310.1,474.4 303.5,477.9 297,481.4 290.4,485 283.9,488.5 277.3,492.1 270.7,495.6 264.2,499.2 257.6,502.7" fill="#999999" fill-opacity="0.45"/>
<g fill="#000" fill-opacity="0.42"><circle cx="322.5" cy="479" r="1.7"/><circle cx="336.9" cy="493.9" r="1.7"/><circle cx="334" cy="467.4" r="1.7"/><circle cx="359.3" cy="461.9" r="1.7"/><circle cx="319.7" cy="463.9" r="1.7"/><circle cx="330.1" cy="434.5" r="1.7"/><circle cx="326.5" cy="454.9" r="1.7"/><circle cx="348.2" cy="458.9" r="1.7"/><circle cx="323.4" cy="415.4" r="1.7"/><circle cx="355.7" cy="459.2" r="1.7"/><circle cx="290.1" cy="490.6" r="1.7"/><circle cx="340.9" cy="482" r="1.7"/><circle cx="355.8" cy="460.3" r="1.7"/><circle cx="351.4" cy="476.9" r="1.7"/><circle cx="321.1" cy="468.2" r="1.7"/><circle cx="285.9" cy="475.3" r="1.7"/><circle cx="353.1" cy="464.4" r="1.7"/><circle cx="370.8" cy="424.2" r="1.7"/><circle cx="348.8" cy="482.3" r="1.7"/><circle cx="327.9" cy="441.1" r="1.7"/><circle cx="352.8" cy="482.8" r="1.7"/><circle cx="348" cy="443.8" r="1.7"/><circle cx="332.4" cy="452.6" r="1.7"/><circle cx="343.8" cy="435.5" r="1.7"/><circle cx="334.3" cy="456.9" r="1.7"/><circle cx="342.1" cy="459.9" r="1.7"/><circle cx="348.9" cy="424.2" r="1.7"/><circle cx="313.9" cy="434.7" r="1.7"/><circle cx="365.6" cy="446" r="1.7"/><circle cx="380.2" cy="409.8" r="1.7"/><circle cx="347.4" cy="467.4" r="1.7"/><circle cx="354.6" cy="475.2" r="1.7"/><circle cx="299.1" cy="465.9" r="1.7"/><circle cx="320.2" cy="531.9" r="1.7"/><circle cx="360.6" cy="448" r="1.7"/><circle cx="351.4" cy="430.9" r="1.7"/><circle cx="338.2" cy="496.5" r="1.7"/><circle cx="315.7" cy="478.4" r="1.7"/><circle cx="337" cy="448.7" r="1.7"/><circle cx="338.6" cy="457.5" r="1.7"/><circle cx="328.7" cy="491.4" r="1.7"/><circle cx="303.6" cy="507.3" r="1.7"/><circle cx="334.8" cy="459.7" r="1.7"/><circle cx="312" cy="449" r="1.7"/><circle cx="303.5" cy="463.5" r="1.7"/><circle cx="347.8" cy="468.4" r="1.7"/><circle cx="358.5" cy="450.3" r="1.7"/><circle cx="315.4" cy="476.1" r="1.7"/><circle cx="315.8" cy="476.2" r="1.7"/><circle cx="336.5" cy="491.5" r="1.7"/><circle cx="321.8" cy="459.4" r="1.7"/><circle cx="353.7" cy="449" r="1.7"/><circle cx="343.4" cy="413.4" r="1.7"/><circle cx="335.1" cy="456.9" r="1.7"/><circle cx="377.1" cy="405.1" r="1.7"/><circle cx="349.3" cy="437.9" r="1.7"/><circle cx="323.3" cy="466.8" r="1.7"/><circle cx="319.4" cy="454.6" r="1.7"/><circle cx="339.7" cy="455.3" r="1.7"/><circle cx="328.8" cy="417.1" r="1.7"/><circle cx="364.2" cy="438.1" r="1.7"/><circle cx="310.7" cy="474.4" r="1.7"/><circle cx="328.8" cy="462.9" r="1.7"/><circle cx="323.3" cy="473.5" r="1.7"/><circle cx="350.9" cy="438.3" r="1.7"/><circle cx="356.9" cy="463.6" r="1.7"/><circle cx="351.4" cy="441" r="1.7"/><circle cx="320.2" cy="461.1" r="1.7"/><circle cx="359.2" cy="469.1" r="1.7"/><circle cx="285.2" cy="511.9" r="1.7"/><circle cx="331" cy="479" r="1.7"/><circle cx="370" cy="421.6" r="1.7"/><circle cx="368.1" cy="438.3" r="1.7"/><circle cx="296.9" cy="467.7" r="1.7"/><circle cx="347.1" cy="456.5" r="1.7"/><circle cx="319.1" cy="500" r="1.7"/><circle cx="341.3" cy="480.7" r="1.7"/><circle cx="324.8" cy="440.6" r="1.7"/><circle cx="318.6" cy="474.8" r="1.7"/><circle cx="338" cy="464.2" r="1.7"/><circle cx="341.5" cy="444" r="1.7"/><circle cx="336.3" cy="451.9" r="1.7"/><circle cx="338.2" cy="482.7" r="1.7"/><circle cx="329.3" cy="459.9" r="1.7"/><circle cx="361.6" cy="445.2" r="1.7"/><circle cx="325.4" cy="455.7" r="1.7"/><circle cx="359.5" cy="390.7" r="1.7"/><circle cx="345" cy="458.3" r="1.7"/><circle cx="348.6" cy="473" r="1.7"/><circle cx="299.6" cy="518.2" r="1.7"/><circle cx="346.2" cy="503.5" r="1.7"/><circle cx="396.5" cy="412.8" r="1.7"/><circle cx="338.1" cy="459.3" r="1.7"/><circle cx="366.8" cy="435.6" r="1.7"/><circle cx="334.9" cy="466.9" r="1.7"/><circle cx="321.9" cy="445.3" r="1.7"/><circle cx="355.2" cy="457.5" r="1.7"/><circle cx="355.4" cy="464.9" r="1.7"/><circle cx="306.1" cy="486.9" r="1.7"/><circle cx="354.3" cy="460.2" r="1.7"/><circle cx="335.4" cy="481.4" r="1.7"/><circle cx="358.6" cy="445.8" r="1.7"/><circle cx="331.2" cy="454" r="1.7"/><circle cx="322.1" cy="465.5" r="1.7"/><circle cx="360.4" cy="443.3" r="1.7"/><circle cx="343.1" cy="464.8" r="1.7"/><circle cx="357.1" cy="472.1" r="1.7"/><circle cx="299" cy="474.9" r="1.7"/><circle cx="349" cy="419.6" r="1.7"/><circle cx="352.5" cy="419.1" r="1.7"/><circle cx="332.8" cy="470.3" r="1.7"/><circle cx="321.5" cy="479" r="1.7"/><circle cx="319.5" cy="478.5" r="1.7"/><circle cx="361.9" cy="395.3" r="1.7"/><circle cx="350.6" cy="469.4" r="1.7"/><circle cx="361.7" cy="504.2" r="1.7"/><circle cx="326.3" cy="464.2" r="1.7"/><circle cx="346.6" cy="450.9" r="1.7"/><circle cx="334.6" cy="483.6" r="1.7"/><circle cx="338.5" cy="444.5" r="1.7"/><circle cx="341.1" cy="436.6" r="1.7"/><circle cx="300.8" cy="500.5" r="1.7"/><circle cx="360.4" cy="430" r="1.7"/><circle cx="330.6" cy="476.5" r="1.7"/><circle cx="339.7" cy="447.8" r="1.7"/><circle cx="287.3" cy="476.3" r="1.7"/><circle cx="304.3" cy="456.4" r="1.7"/><circle cx="366.9" cy="456.3" r="1.7"/><circle cx="322.8" cy="465.1" r="1.7"/><circle cx="350.2" cy="450.5" r="1.7"/><circle cx="332.9" cy="452.7" r="1.7"/><circle cx="350.9" cy="441.7" r="1.7"/><circle cx="345.9" cy="477.9" r="1.7"/><circle cx="365.8" cy="463.3" r="1.7"/><circle cx="343.8" cy="476.3" r="1.7"/><circle cx="301.5" cy="452.5" r="1.7"/><circle cx="314.4" cy="478.6" r="1.7"/><circle cx="352.1" cy="418.8" r="1.7"/><circle cx="335.4" cy="492" r="1.7"/><circle cx="343.2" cy="493.1" r="1.7"/><circle cx="359.6" cy="477.7" r="1.7"/><circle cx="337.8" cy="469.1" r="1.7"/><circle cx="356.1" cy="462.5" r="1.7"/><circle cx="345.8" cy="452.3" r="1.7"/><circle cx="335.8" cy="443.6" r="1.7"/><circle cx="323.9" cy="483.4" r="1.7"/><circle cx="357.5" cy="471.2" r="1.7"/><circle cx="338.3" cy="450.2" r="1.7"/><circle cx="298.3" cy="448.7" r="1.7"/><circle cx="318.3" cy="456.6" r="1.7"/><circle cx="363.9" cy="438.3" r="1.7"/><circle cx="301" cy="461.2" r="1.7"/><circle cx="336.4" cy="421.3" r="1.7"/><circle cx="309.6" cy="440.8" r="1.7"/><circle cx="339.8" cy="457.4" r="1.7"/><circle cx="348.4" cy="490.7" r="1.7"/><circle cx="305" cy="443.2" r="1.7"/><circle cx="367.6" cy="447.2" r="1.7"/><circle cx="334.5" cy="452.5" r="1.7"/><circle cx="373.9" cy="447.7" r="1.7"/><circle cx="331.9" cy="461.7" r="1.7"/><circle cx="341.8" cy="478.4" r="1.7"/><circle cx="326.8" cy="463.6" r="1.7"/><circle cx="320.3" cy="451.8" r="1.7"/><circle cx="338.4" cy="461.5" r="1.7"/><circle cx="389.4" cy="436.2" r="1.7"/><circle cx="338.2" cy="474.5" r="1.7"/><circle cx="330.1" cy="472.8" r="1.7"/><circle cx="321" cy="477.3" r="1.7"/><circle cx="303.1" cy="474" r="1.7"/><circle cx="340.5" cy="452.9" r="1.7"/><circle cx="337" cy="452.6" r="1.7"/><circle cx="359.3" cy="452" r="1.7"/><circle cx="333.4" cy="484.3" r="1.7"/><circle cx="325.9" cy="493.6" r="1.7"/><circle cx="390.3" cy="421.7" r="1.7"/><circle cx="354.8" cy="446.3" r="1.7"/><circle cx="307" cy="471.6" r="1.7"/><circle cx="328.9" cy="499.3" r="1.7"/><circle cx="310.2" cy="453.3" r="1.7"/><circle cx="351.5" cy="453.8" r="1.7"/><circle cx="325.4" cy="416.4" r="1.7"/><circle cx="330.6" cy="468.8" r="1.7"/><circle cx="346.2" cy="435.6" r="1.7"/><circle cx="357.3" cy="449.2" r="1.7"/><circle cx="350" cy="471.4" r="1.7"/><circle cx="333.3" cy="432.7" r="1.7"/><circle cx="353.4" cy="404.1" r="1.7"/><circle cx="332.4" cy="468.9" r="1.7"/><circle cx="346.6" cy="441.4" r="1.7"/><circle cx="320.6" cy="476.7" r="1.7"/><circle cx="358.3" cy="479.2" r="1.7"/><circle cx="357.3" cy="429.3" r="1.7"/><circle cx="336" cy="432.4" r="1.7"/><circle cx="323.7" cy="446.9" r="1.7"/><circle cx="285.7" cy="446.5" r="1.7"/><circle cx="339.8" cy="440.6" r="1.7"/><circle cx="338.2" cy="479.8" r="1.7"/><circle cx="303.9" cy="456.7" r="1.7"/><circle cx="341.3" cy="425.8" r="1.7"/><circle cx="376.7" cy="448.4" r="1.7"/><circle cx="355.4" cy="460.8" r="1.7"/><circle cx="342.5" cy="413.1" r="1.7"/><circle cx="354.2" cy="452.3" r="1.7"/><circle cx="353.4" cy="440.6" r="1.7"/><circle cx="335.3" cy="467.4" r="1.7"/><circle cx="332.8" cy="444.3" r="1.7"/><circle cx="344.7" cy="445.9" r="1.7"/><circle cx="312.3" cy="446.9" r="1.7"/><circle cx="321.3" cy="511" r="1.7"/><circle cx="310.6" cy="482.4" r="1.7"/><circle cx="389.1" cy="450.6" r="1.7"/><circle cx="355.4" cy="465.8" r="1.7"/><circle cx="335.5" cy="462.7" r="1.7"/><circle cx="320.5" cy="494" r="1.7"/><circle cx="283.7" cy="495.5" r="1.7"/><circle cx="347.6" cy="508.5" r="1.7"/><circle cx="335" cy="479.3" r="1.7"/><circle cx="370.5" cy="477.8" r="1.7"/><circle cx="339.5" cy="432" r="1.7"/><circle cx="316.3" cy="458.5" r="1.7"/><circle cx="345.2" cy="447.4" r="1.7"/><circle cx="300.7" cy="446.7" r="1.7"/><circle cx="338.2" cy="448.7" r="1.7"/><circle cx="356.6" cy="441.1" r="1.7"/><circle cx="334.7" cy="438" r="1.7"/><circle cx="336.3" cy="476.7" r="1.7"/><circle cx="364.9" cy="435.4" r="1.7"/><circle cx="350.1" cy="456.3" r="1.7"/><circle cx="340.8" cy="427.2" r="1.7"/><circle cx="308.9" cy="468.1" r="1.7"/><circle cx="351.4" cy="437.6" r="1.7"/><circle cx="330.2" cy="447.6" r="1.7"/><circle cx="359.1" cy="470.9" r="1.7"/><circle cx="343.9" cy="464.8" r="1.7"/><circle cx="334.9" cy="439.8" r="1.7"/><circle cx="344.2" cy="437.5" r="1.7"/><circle cx="316.2" cy="485.2" r="1.7"/><circle cx="332.3" cy="446.3" r="1.7"/><circle cx="367.7" cy="441.7" r="1.7"/><circle cx="339.8" cy="486.9" r="1.7"/><circle cx="339.8" cy="484.2" r="1.7"/><circle cx="324.6" cy="466.4" r="1.7"/><circle cx="343.6" cy="456.3" r="1.7"/><circle cx="321.4" cy="472.1" r="1.7"/><circle cx="371.1" cy="440.7" r="1.7"/><circle cx="326.4" cy="465.7" r="1.7"/><circle cx="341.9" cy="483" r="1.7"/><circle cx="353.2" cy="461" r="1.7"/><circle cx="348.5" cy="460.1" r="1.7"/><circle cx="352.7" cy="449.6" r="1.7"/><circle cx="342.4" cy="476.8" r="1.7"/><circle cx="314.8" cy="461" r="1.7"/><circle cx="347" cy="465.6" r="1.7"/><circle cx="370.2" cy="423" r="1.7"/><circle cx="319.5" cy="461.5" r="1.7"/><circle cx="356.2" cy="457.6" r="1.7"/><circle cx="333.9" cy="449.1" r="1.7"/><circle cx="339.1" cy="464.2" r="1.7"/><circle cx="330.3" cy="464.8" r="1.7"/><circle cx="341.5" cy="448.2" r="1.7"/><circle cx="335.9" cy="473.4" r="1.7"/><circle cx="334.9" cy="465.9" r="1.7"/><circle cx="335.9" cy="451.7" r="1.7"/><circle cx="350.4" cy="456.9" r="1.7"/><circle cx="351.7" cy="470.4" r="1.7"/><circle cx="331.5" cy="441.8" r="1.7"/><circle cx="313.5" cy="445.4" r="1.7"/><circle cx="334.9" cy="478" r="1.7"/><circle cx="324.2" cy="445" r="1.7"/><circle cx="342.6" cy="444.5" r="1.7"/><circle cx="366.1" cy="400.2" r="1.7"/><circle cx="312.4" cy="463.5" r="1.7"/><circle cx="309.2" cy="474.9" r="1.7"/><circle cx="310.5" cy="440.8" r="1.7"/><circle cx="332.4" cy="466.7" r="1.7"/><circle cx="308.7" cy="444.3" r="1.7"/><circle cx="310.3" cy="461" r="1.7"/><circle cx="345.8" cy="476.5" r="1.7"/><circle cx="342.3" cy="486.6" r="1.7"/><circle cx="331.7" cy="456.8" r="1.7"/><circle cx="344.9" cy="479.3" r="1.7"/><circle cx="311.9" cy="455.7" r="1.7"/><circle cx="342.9" cy="473.3" r="1.7"/><circle cx="375.6" cy="407.6" r="1.7"/><circle cx="359.6" cy="456.2" r="1.7"/><circle cx="361.5" cy="440.8" r="1.7"/><circle cx="325.1" cy="442.1" r="1.7"/><circle cx="390.8" cy="428.4" r="1.7"/><circle cx="333.4" cy="452" r="1.7"/><circle cx="317.1" cy="463.3" r="1.7"/><circle cx="310.6" cy="482.5" r="1.7"/><circle cx="338.2" cy="441" r="1.7"/><circle cx="341" cy="440.3" r="1.7"/><circle cx="300.9" cy="472.8" r="1.7"/><circle cx="342.9" cy="443.4" r="1.7"/><circle cx="310.4" cy="467.8" r="1.7"/><circle cx="320.2" cy="439.9" r="1.7"/><circle cx="327.3" cy="477.1" r="1.7"/><circle cx="342.6" cy="434.6" r="1.7"/><circle cx="351.8" cy="468.1" r="1.7"/><circle cx="349.1" cy="468.3" r="1.7"/><circle cx="347" cy="438.1" r="1.7"/><circle cx="333.7" cy="471.9" r="1.7"/><circle cx="336.5" cy="484.8" r="1.7"/><circle cx="342.6" cy="449.8" r="1.7"/><circle cx="330.7" cy="468.7" r="1.7"/><circle cx="359.1" cy="429" r="1.7"/><circle cx="355.2" cy="470.6" r="1.7"/><circle cx="328.6" cy="465.6" r="1.7"/><circle cx="321.7" cy="496.1" r="1.7"/><circle cx="343.8" cy="473.7" r="1.7"/><circle cx="319.4" cy="465.8" r="1.7"/><circle cx="371.5" cy="424.5" r="1.7"/><circle cx="381.5" cy="455.4" r="1.7"/><circle cx="301.1" cy="497.2" r="1.7"/><circle cx="310.3" cy="464.1" r="1.7"/><circle cx="358.4" cy="467.5" r="1.7"/><circle cx="303.5" cy="482.2" r="1.7"/><circle cx="311" cy="464.7" r="1.7"/><circle cx="340.9" cy="441.5" r="1.7"/><circle cx="323.5" cy="462.7" r="1.7"/><circle cx="331.1" cy="480.2" r="1.7"/><circle cx="330.2" cy="442.4" r="1.7"/><circle cx="306.9" cy="469.4" r="1.7"/><circle cx="328.8" cy="459.6" r="1.7"/><circle cx="345.3" cy="439.9" r="1.7"/><circle cx="339.4" cy="437.6" r="1.7"/><circle cx="345.3" cy="462.3" r="1.7"/><circle cx="332.8" cy="481" r="1.7"/><circle cx="339.6" cy="451.6" r="1.7"/><circle cx="320.7" cy="442.3" r="1.7"/><circle cx="340.8" cy="456.3" r="1.7"/><circle cx="339.2" cy="449.8" r="1.7"/><circle cx="341.9" cy="459.9" r="1.7"/><circle cx="334.4" cy="436.3" r="1.7"/><circle cx="374.3" cy="455.1" r="1.7"/><circle cx="291.4" cy="467" r="1.7"/><circle cx="380.9" cy="457.6" r="1.7"/><circle cx="338.8" cy="453.8" r="1.7"/><circle cx="345.4" cy="442" r="1.7"/><circle cx="340.1" cy="449.7" r="1.7"/><circle cx="338.6" cy="465.5" r="1.7"/><circle cx="341.8" cy="463.7" r="1.7"/><circle cx="319.2" cy="483.4" r="1.7"/><circle cx="325.6" cy="435.4" r="1.7"/><circle cx="335.5" cy="443.4" r="1.7"/><circle cx="334.5" cy="453.1" r="1.7"/><circle cx="331.2" cy="417.3" r="1.7"/><circle cx="342.8" cy="445.8" r="1.7"/><circle cx="331.6" cy="468.5" r="1.7"/><circle cx="322.5" cy="450.2" r="1.7"/><circle cx="322.6" cy="462.8" r="1.7"/><circle cx="326.6" cy="450.1" r="1.7"/><circle cx="329.3" cy="459.5" r="1.7"/><circle cx="321.2" cy="443.6" r="1.7"/><circle cx="343.3" cy="474.7" r="1.7"/><circle cx="349.1" cy="468.8" r="1.7"/><circle cx="309.3" cy="475.2" r="1.7"/><circle cx="344.5" cy="490.4" r="1.7"/><circle cx="365.2" cy="454.7" r="1.7"/><circle cx="350.6" cy="449.4" r="1.7"/><circle cx="318.5" cy="426.6" r="1.7"/><circle cx="310" cy="450.3" r="1.7"/><circle cx="325.4" cy="476.7" r="1.7"/><circle cx="329" cy="492.9" r="1.7"/><circle cx="313.6" cy="458.9" r="1.7"/><circle cx="347.4" cy="470.6" r="1.7"/><circle cx="338" cy="443.9" r="1.7"/><circle cx="307.6" cy="466.3" r="1.7"/><circle cx="314" cy="456.4" r="1.7"/><circle cx="337" cy="450.9" r="1.7"/><circle cx="340.2" cy="447.4" r="1.7"/><circle cx="350.5" cy="458.2" r="1.7"/><circle cx="364.8" cy="422.2" r="1.7"/><circle cx="333.8" cy="492.3" r="1.7"/><circle cx="338.3" cy="471.5" r="1.7"/><circle cx="354.3" cy="413.1" r="1.7"/><circle cx="336.5" cy="429.1" r="1.7"/><circle cx="335.2" cy="503.7" r="1.7"/><circle cx="373.6" cy="421.2" r="1.7"/><circle cx="330.2" cy="473.3" r="1.7"/><circle cx="376.9" cy="420.5" r="1.7"/><circle cx="312.9" cy="531.1" r="1.7"/><circle cx="362.1" cy="415.9" r="1.7"/><circle cx="318.3" cy="501.3" r="1.7"/><circle cx="342.6" cy="465.3" r="1.7"/><circle cx="351.7" cy="444.6" r="1.7"/><circle cx="361.7" cy="441.1" r="1.7"/><circle cx="332.4" cy="442.2" r="1.7"/><circle cx="354.7" cy="408.6" r="1.7"/><circle cx="329.3" cy="473.6" r="1.7"/><circle cx="373.8" cy="481.1" r="1.7"/><circle cx="324.5" cy="459.1" r="1.7"/><circle cx="342.9" cy="466.1" r="1.7"/><circle cx="333.3" cy="479.3" r="1.7"/><circle cx="362.7" cy="418.5" r="1.7"/><circle cx="362.7" cy="437.9" r="1.7"/><circle cx="362.7" cy="416" r="1.7"/><circle cx="335" cy="473.2" r="1.7"/><circle cx="322.1" cy="445.4" r="1.7"/><circle cx="335.7" cy="489.6" r="1.7"/><circle cx="347.7" cy="473.5" r="1.7"/><circle cx="302.3" cy="457" r="1.7"/><circle cx="318.1" cy="477.3" r="1.7"/><circle cx="306.7" cy="477.7" r="1.7"/><circle cx="351" cy="441.3" r="1.7"/><circle cx="365.8" cy="443.1" r="1.7"/><circle cx="288.2" cy="483.7" r="1.7"/><circle cx="372.8" cy="406.5" r="1.7"/><circle cx="329.3" cy="486.8" r="1.7"/><circle cx="294.2" cy="466.3" r="1.7"/><circle cx="319" cy="451.6" r="1.7"/><circle cx="353.8" cy="464.6" r="1.7"/><circle cx="335.1" cy="440.6" r="1.7"/><circle cx="327" cy="497" r="1.7"/><circle cx="336" cy="483.4" r="1.7"/><circle cx="321.8" cy="467.6" r="1.7"/><circle cx="345.7" cy="484.7" r="1.7"/><circle cx="300.5" cy="508.8" r="1.7"/><circle cx="357" cy="443.8" r="1.7"/><circle cx="324.9" cy="428.9" r="1.7"/><circle cx="354.9" cy="421.4" r="1.7"/><circle cx="352.1" cy="440.2" r="1.7"/><circle cx="359.2" cy="467.4" r="1.7"/><circle cx="348" cy="469" r="1.7"/><circle cx="340.6" cy="459" r="1.7"/><circle cx="361.3" cy="491.4" r="1.7"/><circle cx="378.3" cy="439.1" r="1.7"/><circle cx="348.3" cy="471" r="1.7"/><circle cx="336.1" cy="439.7" r="1.7"/><circle cx="331.6" cy="451.4" r="1.7"/><circle cx="335" cy="464.1" r="1.7"/><circle cx="340.1" cy="481.2" r="1.7"/><circle cx="306.6" cy="429.3" r="1.7"/><circle cx="345" cy="484.5" r="1.7"/><circle cx="361.3" cy="428.7" r="1.7"/><circle cx="319" cy="490.5" r="1.7"/><circle cx="355.9" cy="449" r="1.7"/><circle cx="365.8" cy="420.4" r="1.7"/><circle cx="341.5" cy="441.7" r="1.7"/><circle cx="351.3" cy="496.3" r="1.7"/><circle cx="347.7" cy="453.3" r="1.7"/><circle cx="302.5" cy="467.3" r="1.7"/><circle cx="300.2" cy="447.8" r="1.7"/><circle cx="352.2" cy="432" r="1.7"/><circle cx="341.1" cy="484.6" r="1.7"/><circle cx="335.3" cy="492.5" r="1.7"/><circle cx="307.6" cy="514.5" r="1.7"/><circle cx="353.1" cy="463.7" r="1.7"/><circle cx="325" cy="457.2" r="1.7"/><circle cx="351.4" cy="431.4" r="1.7"/><circle cx="311.6" cy="500.8" r="1.7"/><circle cx="293.8" cy="470.4" r="1.7"/><circle cx="357.1" cy="423.5" r="1.7"/><circle cx="324.7" cy="458.8" r="1.7"/><circle cx="321.5" cy="464.6" r="1.7"/><circle cx="325.8" cy="487.6" r="1.7"/><circle cx="337" cy="456.4" r="1.7"/><circle cx="362.6" cy="475.7" r="1.7"/><circle cx="353.2" cy="469.4" r="1.7"/><circle cx="293.8" cy="483.4" r="1.7"/><circle cx="356.3" cy="403.9" r="1.7"/><circle cx="346.1" cy="410.9" r="1.7"/><circle cx="373.9" cy="443.8" r="1.7"/><circle cx="316.9" cy="482.7" r="1.7"/><circle cx="292.6" cy="514.9" r="1.7"/><circle cx="384.6" cy="403" r="1.7"/><circle cx="361.2" cy="462.6" r="1.7"/><circle cx="314.6" cy="482.1" r="1.7"/><circle cx="360" cy="469.5" r="1.7"/><circle cx="295.1" cy="482.8" r="1.7"/><circle cx="348.3" cy="450.7" r="1.7"/><circle cx="333.7" cy="460.4" r="1.7"/><circle cx="328.1" cy="471.4" r="1.7"/><circle cx="350.1" cy="476.7" r="1.7"/><circle cx="341.1" cy="440.4" r="1.7"/><circle cx="319.2" cy="457" r="1.7"/><circle cx="317.5" cy="451.2" r="1.7"/><circle cx="351.5" cy="453.4" r="1.7"/><circle cx="321.8" cy="413.7" r="1.7"/><circle cx="313.5" cy="498.4" r="1.7"/><circle cx="364.6" cy="448.8" r="1.7"/><circle cx="327.8" cy="442" r="1.7"/><circle cx="367" cy="439.9" r="1.7"/><circle cx="316" cy="460.4" r="1.7"/><circle cx="341.2" cy="443.2" r="1.7"/><circle cx="340.5" cy="453.6" r="1.7"/><circle cx="340.3" cy="508.9" r="1.7"/><circle cx="306.5" cy="530.9" r="1.7"/><circle cx="340.7" cy="414.6" r="1.7"/><circle cx="300" cy="478" r="1.7"/><circle cx="353.1" cy="456.3" r="1.7"/><circle cx="335.3" cy="433.7" r="1.7"/><circle cx="331.3" cy="453.3" r="1.7"/><circle cx="356.5" cy="441.5" r="1.7"/><circle cx="377.2" cy="437.4" r="1.7"/><circle cx="327.8" cy="428.1" r="1.7"/><circle cx="333.4" cy="433.7" r="1.7"/><circle cx="351.4" cy="468.2" r="1.7"/><circle cx="363.2" cy="458.6" r="1.7"/><circle cx="345.9" cy="468.5" r="1.7"/><circle cx="309.9" cy="484" r="1.7"/><circle cx="330.4" cy="439.1" r="1.7"/><circle cx="257.6" cy="417.5" r="1.7"/><circle cx="261.5" cy="485" r="1.7"/><circle cx="346" cy="395" r="1.7"/><circle cx="415.3" cy="404.7" r="1.7"/><circle cx="387" cy="397.5" r="1.7"/><circle cx="377.5" cy="400.5" r="1.7"/><circle cx="345" cy="529.5" r="1.7"/><circle cx="358" cy="530.5" r="1.7"/><circle cx="338" cy="512.5" r="1.7"/><circle cx="375.5" cy="506.5" r="1.7"/><circle cx="323" cy="510" r="1.7"/><circle cx="287" cy="500" r="1.7"/></g>
<line x1="257.6" y1="495.2" x2="415.1" y2="423.3" stroke="#0000ff" stroke-width="1.5"/>
<polygon points="257.9,386.6 259.6,386.7 262,386.7 264.7,386.8 267.5,386.8 270,386.8 272.3,386.7 274.5,386.6 276.6,386.4 278.6,386.2 280.6,386 282.5,385.8 284.3,385.6 286,385.3 287.7,385.1 289.4,384.8 291.2,384.4 292.9,384.1 294.6,383.7 296.3,383.2 298.1,382.7 299.8,382 301.6,381.2 303.4,380.4 305.1,379.6 306.9,378.7 308.7,377.8 310.5,376.8 312.3,375.8 314.1,374.8 315.7,373.7 317.2,372.6 318.7,371.5 320.1,370.3 321.4,369.2 322.6,368 323.9,366.8 325,365.6 326.1,364.3 327.1,363.2 328,362.3 328.8,361.7 329.4,361.2 330,360.9 330.5,360.6 331,360.3 331.5,360.1 331.9,359.8 332.3,359.7 332.7,359.6 333.2,359.5 333.7,359.5 334.2,359.5 334.8,359.6 335.3,359.8 335.9,359.9 336.4,360 336.8,360.2 337.3,360.4 337.9,360.6 338.6,360.9 339.4,361.4 340.5,361.9 341.6,362.5 342.7,363 343.8,363.5 344.7,363.8 345.7,364 346.6,364.2 347.4,364.3 348.2,364.5 348.7,364.6 349.2,364.7 349.6,364.7 349.9,364.8 350.4,364.9 350.8,365 351.3,365.1 351.9,365.2 352.4,365.3 352.9,365.5 353.4,365.7 353.8,366 354.3,366.3 354.9,366.7 355.6,367.2 356.4,367.9 357.4,368.6 358.5,369.4 359.7,370.3 360.9,371.3 362.2,372.3 363.6,373.5 365,374.8 366.4,376 367.9,377.1 369.3,378 370.7,379 372.1,379.8 373.5,380.7 374.9,381.4 376.3,382.1 377.7,382.8 379.1,383.4 380.5,384 381.9,384.5 383.3,384.9 384.7,385.2 386.1,385.5 387.5,385.8 389,386 390.2,386.2 391.1,386.3 392.2,386.4 393.7,386.5 395.9,386.6 399.2,386.7 403.6,386.7 408.2,386.8 412.3,386.8 415.1,386.8 415.1,386.8 257.6,386.8" fill="#cd7466"/>
<polyline points="257.9,386.6 259.6,386.7 262,386.7 264.7,386.8 267.5,386.8 270,386.8 272.3,386.7 274.5,386.6 276.6,386.4 278.6,386.2 280.6,386 282.5,385.8 284.3,385.6 286,385.3 287.7,385.1 289.4,384.8 291.2,384.4 292.9,384.1 294.6,383.7 296.3,383.2 298.1,382.7 299.8,382 301.6,381.2 303.4,380.4 305.1,379.6 306.9,378.7 308.7,377.8 310.5,376.8 312.3,375.8 314.1,374.8 315.7,373.7 317.2,372.6 318.7,371.5 320.1,370.3 321.4,369.2 322.6,368 323.9,366.8 325,365.6 326.1,364.3 327.1,363.2 328,362.3 328.8,361.7 329.4,361.2 330,360.9 330.5,360.6 331,360.3 331.5,360.1 331.9,359.8 332.3,359.7 332.7,359.6 333.2,359.5 333.7,359.5 334.2,359.5 334.8,359.6 335.3,359.8 335.9,359.9 336.4,360 336.8,360.2 337.3,360.4 337.9,360.6 338.6,360.9 339.4,361.4 340.5,361.9 341.6,362.5 342.7,363 343.8,363.5 344.7,363.8 345.7,364 346.6,364.2 347.4,364.3 348.2,364.5 348.7,364.6 349.2,364.7 349.6,364.7 349.9,364.8 350.4,364.9 350.8,365 351.3,365.1 351.9,365.2 352.4,365.3 352.9,365.5 353.4,365.7 353.8,366 354.3,366.3 354.9,366.7 355.6,367.2 356.4,367.9 357.4,368.6 358.5,369.4 359.7,370.3 360.9,371.3 362.2,372.3 363.6,373.5 365,374.8 366.4,376 367.9,377.1 369.3,378 370.7,379 372.1,379.8 373.5,380.7 374.9,381.4 376.3,382.1 377.7,382.8 379.1,383.4 380.5,384 381.9,384.5 383.3,384.9 384.7,385.2 386.1,385.5 387.5,385.8 389,386 390.2,386.2 391.1,386.3 392.2,386.4 393.7,386.5 395.9,386.6 399.2,386.7 403.6,386.7 408.2,386.8 412.3,386.8 415.1,386.8" fill="none" stroke="#000" stroke-width="0.7"/>
<polygon points="424.9,394.9 425,395.8 425.1,397 425.3,398.4 425.5,400 425.8,401.5 426.2,403 426.6,404.6 427.1,406.3 427.7,408 428.5,409.7 429.3,411.6 430.3,413.5 431.4,415.4 432.5,417.3 433.6,419 434.8,420.6 436,422.1 437.3,423.4 438.5,424.8 439.8,426.2 441.1,427.6 442.4,429 443.7,430.4 444.9,431.9 446,433.5 447,435.2 447.9,437.1 448.7,439 449.5,440.9 450.1,442.7 450.6,444.5 451,446.3 451.3,448 451.5,449.5 451.8,451 451.9,452.2 452.1,453.2 452.2,454.1 452.3,455 452.6,456.1 453,457.5 453.6,459 454.2,460.5 454.8,462 455.3,463.4 455.6,464.5 455.9,465.6 456.1,466.5 456.3,467.5 456.3,468.5 456.2,469.5 456,470.6 455.7,471.6 455.3,472.6 454.6,473.7 453.8,474.7 452.8,475.7 451.6,476.8 450.4,477.8 449.1,478.8 447.7,479.8 446.3,480.8 444.7,481.8 443.3,482.9 441.9,484 440.5,485.1 439.2,486.3 437.9,487.5 436.7,488.8 435.7,490.2 434.9,491.7 434.3,493.3 433.7,495 433.2,496.7 432.6,498.4 431.8,500.1 430.9,501.7 430,503.4 429.2,505 428.5,506.6 427.8,508.3 427.2,509.9 426.6,511.6 426.2,513.2 425.8,514.9 425.5,516.6 425.3,518.2 425.1,519.9 425,521.6 424.9,523.1 424.9,524.8 424.8,526.5 424.8,528 424.8,529.4 424.7,530.4 424.7,530.4 424.7,394.9" fill="#4a9fcc"/>
<polyline points="424.9,394.9 425,395.8 425.1,397 425.3,398.4 425.5,400 425.8,401.5 426.2,403 426.6,404.6 427.1,406.3 427.7,408 428.5,409.7 429.3,411.6 430.3,413.5 431.4,415.4 432.5,417.3 433.6,419 434.8,420.6 436,422.1 437.3,423.4 438.5,424.8 439.8,426.2 441.1,427.6 442.4,429 443.7,430.4 444.9,431.9 446,433.5 447,435.2 447.9,437.1 448.7,439 449.5,440.9 450.1,442.7 450.6,444.5 451,446.3 451.3,448 451.5,449.5 451.8,451 451.9,452.2 452.1,453.2 452.2,454.1 452.3,455 452.6,456.1 453,457.5 453.6,459 454.2,460.5 454.8,462 455.3,463.4 455.6,464.5 455.9,465.6 456.1,466.5 456.3,467.5 456.3,468.5 456.2,469.5 456,470.6 455.7,471.6 455.3,472.6 454.6,473.7 453.8,474.7 452.8,475.7 451.6,476.8 450.4,477.8 449.1,478.8 447.7,479.8 446.3,480.8 444.7,481.8 443.3,482.9 441.9,484 440.5,485.1 439.2,486.3 437.9,487.5 436.7,488.8 435.7,490.2 434.9,491.7 434.3,493.3 433.7,495 433.2,496.7 432.6,498.4 431.8,500.1 430.9,501.7 430,503.4 429.2,505 428.5,506.6 427.8,508.3 427.2,509.9 426.6,511.6 426.2,513.2 425.8,514.9 425.5,516.6 425.3,518.2 425.1,519.9 425,521.6 424.9,523.1 424.9,524.8 424.8,526.5 424.8,528 424.8,529.4 424.7,530.4" fill="none" stroke="#000" stroke-width="0.7"/>
<text x="257.6" y="544.4" font-size="6.6" font-weight="bold" fill="#000" text-anchor="middle">2</text><text x="305.5" y="544.4" font-size="6.6" font-weight="bold" fill="#000" text-anchor="middle">4</text><text x="353.4" y="544.4" font-size="6.6" font-weight="bold" fill="#000" text-anchor="middle">6</text><text x="401.3" y="544.4" font-size="6.6" font-weight="bold" fill="#000" text-anchor="middle">8</text><text x="249.7" y="403.3" font-size="6.6" font-weight="bold" fill="#000" text-anchor="end">0.74</text><text x="249.7" y="439.5" font-size="6.6" font-weight="bold" fill="#000" text-anchor="end">0.72</text><text x="249.7" y="475.7" font-size="6.6" font-weight="bold" fill="#000" text-anchor="end">0.70</text><text x="249.7" y="511.9" font-size="6.6" font-weight="bold" fill="#000" text-anchor="end">0.68</text>
<text x="336.5" y="549.5" font-size="5.77" font-weight="bold" fill="#000" text-anchor="middle">Log2 (PRKDC TPM + 1)</text>
<text transform="translate(236 463) rotate(-90)" font-size="5.8" font-weight="bold" fill="#000" text-anchor="middle">MYC_targets</text>
<text x="250.2" y="349.9" font-size="5.3" fill="#000" textLength="166.9" lengthAdjust="spacingAndGlyphs" stroke="#000" stroke-width="0.04">log<tspan font-size="3.7" dy="1.1">e</tspan><tspan dy="-1.1">(</tspan><tspan font-style="italic">S</tspan>) = 16.36, <tspan font-style="italic">p</tspan> = 3.34e−26, <tspan>ρ̂</tspan><tspan font-size="3.7" dy="1.1">Spearman</tspan><tspan dy="-1.1"> = 0.44, CI</tspan><tspan font-size="3.7" dy="1.1">95%</tspan><tspan dy="-1.1"> [0.37, 0.51], </tspan><tspan font-style="italic">n</tspan><tspan font-size="3.7" dy="1.1">pairs</tspan><tspan dy="-1.1"> = 516</tspan></text>
</g>
<g font-family="Liberation Serif, Times New Roman, serif">
<line x1="483" x2="483" y1="388.7" y2="537.3" stroke="#ebebeb" stroke-width="0.5"/><line x1="507.2" x2="507.2" y1="388.7" y2="537.3" stroke="#ebebeb" stroke-width="0.5"/><line x1="531.4" x2="531.4" y1="388.7" y2="537.3" stroke="#ebebeb" stroke-width="0.5"/><line x1="555.6" x2="555.6" y1="388.7" y2="537.3" stroke="#ebebeb" stroke-width="0.5"/><line x1="579.8" x2="579.8" y1="388.7" y2="537.3" stroke="#ebebeb" stroke-width="0.5"/><line x1="604" x2="604" y1="388.7" y2="537.3" stroke="#ebebeb" stroke-width="0.5"/><line x1="628.2" x2="628.2" y1="388.7" y2="537.3" stroke="#ebebeb" stroke-width="0.5"/><line x1="476.7" x2="649.8" y1="400.4" y2="400.4" stroke="#ebebeb" stroke-width="0.5"/><line x1="476.7" x2="649.8" y1="417.4" y2="417.4" stroke="#ebebeb" stroke-width="0.5"/><line x1="476.7" x2="649.8" y1="434.3" y2="434.3" stroke="#ebebeb" stroke-width="0.5"/><line x1="476.7" x2="649.8" y1="451.3" y2="451.3" stroke="#ebebeb" stroke-width="0.5"/><line x1="476.7" x2="649.8" y1="468.2" y2="468.2" stroke="#ebebeb" stroke-width="0.5"/><line x1="476.7" x2="649.8" y1="485.2" y2="485.2" stroke="#ebebeb" stroke-width="0.5"/><line x1="476.7" x2="649.8" y1="502.1" y2="502.1" stroke="#ebebeb" stroke-width="0.5"/><line x1="476.7" x2="649.8" y1="519.1" y2="519.1" stroke="#ebebeb" stroke-width="0.5"/><line x1="476.7" x2="649.8" y1="536" y2="536" stroke="#ebebeb" stroke-width="0.5"/>
<polygon points="483,474.2 489.6,471.6 496.3,469 502.9,466.5 509.6,463.9 516.2,461.3 522.9,458.7 529.5,456.1 536.2,453.5 542.8,450.8 549.5,448.2 556.1,445.4 562.8,442.5 569.4,439.4 576,436.1 582.7,432.7 589.3,429.2 596,425.6 602.6,421.9 609.3,418.3 615.9,414.6 622.6,411 629.2,407.3 635.9,403.6 642.5,399.9 642.5,413.3 635.9,415.9 629.2,418.4 622.6,421 615.9,423.6 609.3,426.2 602.6,428.8 596,431.4 589.3,434.1 582.7,436.8 576,439.6 569.4,442.6 562.8,445.8 556.1,449.2 549.5,452.7 542.8,456.2 536.2,459.8 529.5,463.5 522.9,467.1 516.2,470.8 509.6,474.5 502.9,478.2 496.3,481.8 489.6,485.5 483,489.2" fill="#999999" fill-opacity="0.45"/>
<g fill="#000" fill-opacity="0.42"><circle cx="565.1" cy="427" r="1.7"/><circle cx="595.7" cy="396" r="1.7"/><circle cx="579.3" cy="428.7" r="1.7"/><circle cx="553.4" cy="433.4" r="1.7"/><circle cx="549.7" cy="434" r="1.7"/><circle cx="574.5" cy="411.7" r="1.7"/><circle cx="545.6" cy="462.9" r="1.7"/><circle cx="559" cy="435.7" r="1.7"/><circle cx="570.5" cy="466.8" r="1.7"/><circle cx="559.9" cy="460.8" r="1.7"/><circle cx="505.8" cy="455.2" r="1.7"/><circle cx="588.1" cy="424.7" r="1.7"/><circle cx="588.2" cy="412.8" r="1.7"/><circle cx="554.4" cy="440.3" r="1.7"/><circle cx="568.9" cy="417.1" r="1.7"/><circle cx="602.8" cy="435.6" r="1.7"/><circle cx="584.8" cy="392.8" r="1.7"/><circle cx="533.5" cy="457.4" r="1.7"/><circle cx="554.1" cy="438.2" r="1.7"/><circle cx="553.7" cy="461.1" r="1.7"/><circle cx="583.1" cy="411" r="1.7"/><circle cx="571" cy="433.9" r="1.7"/><circle cx="539.9" cy="464.1" r="1.7"/><circle cx="496.5" cy="464.6" r="1.7"/><circle cx="595" cy="422.2" r="1.7"/><circle cx="543.2" cy="443.5" r="1.7"/><circle cx="560.4" cy="429.7" r="1.7"/><circle cx="556.8" cy="430.4" r="1.7"/><circle cx="586.9" cy="401.9" r="1.7"/><circle cx="560.7" cy="441.5" r="1.7"/><circle cx="583.6" cy="425.4" r="1.7"/><circle cx="576.4" cy="478.8" r="1.7"/><circle cx="540.9" cy="433.4" r="1.7"/><circle cx="569.3" cy="482.6" r="1.7"/><circle cx="542" cy="480.4" r="1.7"/><circle cx="535.5" cy="414.6" r="1.7"/><circle cx="583.8" cy="424.5" r="1.7"/><circle cx="562.4" cy="478.1" r="1.7"/><circle cx="545.1" cy="443.2" r="1.7"/><circle cx="566.7" cy="456.2" r="1.7"/><circle cx="568.8" cy="463.5" r="1.7"/><circle cx="579.8" cy="416.4" r="1.7"/><circle cx="572.7" cy="443.7" r="1.7"/><circle cx="567.2" cy="431.5" r="1.7"/><circle cx="546.5" cy="483.7" r="1.7"/><circle cx="550.9" cy="405.3" r="1.7"/><circle cx="564.5" cy="429.2" r="1.7"/><circle cx="559.2" cy="420.5" r="1.7"/><circle cx="563.4" cy="432.8" r="1.7"/><circle cx="597.3" cy="431" r="1.7"/><circle cx="589.9" cy="429.4" r="1.7"/><circle cx="564.5" cy="433.4" r="1.7"/><circle cx="583" cy="453.4" r="1.7"/><circle cx="583.5" cy="414.2" r="1.7"/><circle cx="550.4" cy="469.4" r="1.7"/><circle cx="535.7" cy="449.5" r="1.7"/><circle cx="562.5" cy="417.2" r="1.7"/><circle cx="587.7" cy="430" r="1.7"/><circle cx="543.8" cy="454.6" r="1.7"/><circle cx="550.3" cy="443.4" r="1.7"/><circle cx="591.7" cy="404" r="1.7"/><circle cx="542" cy="445.1" r="1.7"/><circle cx="591.5" cy="489.3" r="1.7"/><circle cx="550.6" cy="503.5" r="1.7"/><circle cx="570.4" cy="418.6" r="1.7"/><circle cx="596.5" cy="416.8" r="1.7"/><circle cx="551.8" cy="432.8" r="1.7"/><circle cx="561.8" cy="414.5" r="1.7"/><circle cx="601" cy="395.4" r="1.7"/><circle cx="550.9" cy="438.9" r="1.7"/><circle cx="548.1" cy="481.4" r="1.7"/><circle cx="574.6" cy="458.6" r="1.7"/><circle cx="584.8" cy="464.6" r="1.7"/><circle cx="561.9" cy="498.7" r="1.7"/><circle cx="538.8" cy="436.6" r="1.7"/><circle cx="570.8" cy="427.9" r="1.7"/><circle cx="536.4" cy="424.3" r="1.7"/><circle cx="531.2" cy="444.8" r="1.7"/><circle cx="556.7" cy="447.9" r="1.7"/><circle cx="590.3" cy="457.7" r="1.7"/><circle cx="581.4" cy="409.2" r="1.7"/><circle cx="558.6" cy="426.9" r="1.7"/><circle cx="537.7" cy="443.3" r="1.7"/><circle cx="541.7" cy="440.8" r="1.7"/><circle cx="565.9" cy="409.4" r="1.7"/><circle cx="564.6" cy="449.6" r="1.7"/><circle cx="564.4" cy="428.1" r="1.7"/><circle cx="541.7" cy="438.7" r="1.7"/><circle cx="581" cy="415.8" r="1.7"/><circle cx="569.3" cy="429" r="1.7"/><circle cx="578.8" cy="417.8" r="1.7"/><circle cx="562.2" cy="432.4" r="1.7"/><circle cx="535" cy="486.2" r="1.7"/><circle cx="569.6" cy="430.2" r="1.7"/><circle cx="561.1" cy="446.7" r="1.7"/><circle cx="512" cy="458.9" r="1.7"/><circle cx="529.8" cy="428.8" r="1.7"/><circle cx="560.2" cy="408.3" r="1.7"/><circle cx="587.6" cy="438.3" r="1.7"/><circle cx="560.9" cy="424.4" r="1.7"/><circle cx="572" cy="427" r="1.7"/><circle cx="567.7" cy="421.8" r="1.7"/><circle cx="550.9" cy="421" r="1.7"/><circle cx="554.1" cy="481.7" r="1.7"/><circle cx="510.3" cy="535.3" r="1.7"/><circle cx="541.9" cy="488.3" r="1.7"/><circle cx="565.7" cy="415.1" r="1.7"/><circle cx="572.2" cy="423.7" r="1.7"/><circle cx="543.6" cy="452.9" r="1.7"/><circle cx="574.8" cy="412.3" r="1.7"/><circle cx="569.8" cy="428.5" r="1.7"/><circle cx="598.8" cy="425.7" r="1.7"/><circle cx="584.6" cy="484.6" r="1.7"/><circle cx="565.1" cy="410.2" r="1.7"/><circle cx="569.7" cy="433" r="1.7"/><circle cx="536.7" cy="430.1" r="1.7"/><circle cx="597.1" cy="390.7" r="1.7"/><circle cx="589.2" cy="442.3" r="1.7"/><circle cx="567.2" cy="404.5" r="1.7"/><circle cx="553.4" cy="434.2" r="1.7"/><circle cx="571.7" cy="454.5" r="1.7"/><circle cx="560.2" cy="439.9" r="1.7"/><circle cx="571" cy="426.7" r="1.7"/><circle cx="559.2" cy="470.7" r="1.7"/><circle cx="554.5" cy="432.1" r="1.7"/><circle cx="559.3" cy="426.7" r="1.7"/><circle cx="585.2" cy="467.2" r="1.7"/><circle cx="584.3" cy="427.4" r="1.7"/><circle cx="553.6" cy="428" r="1.7"/><circle cx="556.4" cy="420.7" r="1.7"/><circle cx="563.4" cy="427.3" r="1.7"/><circle cx="558.6" cy="471.8" r="1.7"/><circle cx="555.9" cy="430.6" r="1.7"/><circle cx="565.7" cy="437.1" r="1.7"/><circle cx="538.2" cy="494.4" r="1.7"/><circle cx="522.9" cy="501" r="1.7"/><circle cx="547.4" cy="422.3" r="1.7"/><circle cx="598.6" cy="458.8" r="1.7"/><circle cx="579" cy="390.7" r="1.7"/><circle cx="565.3" cy="453" r="1.7"/><circle cx="541.2" cy="425.3" r="1.7"/><circle cx="618.9" cy="398.4" r="1.7"/><circle cx="588.5" cy="415.1" r="1.7"/><circle cx="598" cy="408.7" r="1.7"/><circle cx="567.5" cy="432.7" r="1.7"/><circle cx="554.3" cy="432.7" r="1.7"/><circle cx="547" cy="502.5" r="1.7"/><circle cx="580.3" cy="423.2" r="1.7"/><circle cx="544.5" cy="428.5" r="1.7"/><circle cx="569.5" cy="435.9" r="1.7"/><circle cx="577.6" cy="417.8" r="1.7"/><circle cx="567.6" cy="432.9" r="1.7"/><circle cx="581.2" cy="419.3" r="1.7"/><circle cx="592.8" cy="421.7" r="1.7"/><circle cx="536" cy="458.3" r="1.7"/><circle cx="540.6" cy="474.2" r="1.7"/><circle cx="540.3" cy="490.1" r="1.7"/><circle cx="553.7" cy="462.1" r="1.7"/><circle cx="566.8" cy="431.9" r="1.7"/><circle cx="561.5" cy="427.6" r="1.7"/><circle cx="561.7" cy="419.5" r="1.7"/><circle cx="574.6" cy="477.3" r="1.7"/><circle cx="543.9" cy="437.8" r="1.7"/><circle cx="540.9" cy="440.4" r="1.7"/><circle cx="543.1" cy="449.2" r="1.7"/><circle cx="584.8" cy="450.7" r="1.7"/><circle cx="558" cy="488.8" r="1.7"/><circle cx="570.1" cy="449.2" r="1.7"/><circle cx="590.8" cy="404.1" r="1.7"/><circle cx="546.9" cy="459.9" r="1.7"/><circle cx="530.6" cy="447.4" r="1.7"/><circle cx="552.3" cy="431.5" r="1.7"/><circle cx="558.4" cy="470.4" r="1.7"/><circle cx="566" cy="431.5" r="1.7"/><circle cx="548.6" cy="441.6" r="1.7"/><circle cx="578.8" cy="453" r="1.7"/><circle cx="570.4" cy="446.4" r="1.7"/><circle cx="580.1" cy="444.9" r="1.7"/><circle cx="547.7" cy="450" r="1.7"/><circle cx="551.3" cy="432.5" r="1.7"/><circle cx="571.8" cy="423.2" r="1.7"/><circle cx="559.4" cy="435.1" r="1.7"/><circle cx="598.7" cy="418.7" r="1.7"/><circle cx="579.2" cy="458.2" r="1.7"/><circle cx="545.9" cy="423.2" r="1.7"/><circle cx="540.9" cy="448.2" r="1.7"/><circle cx="555.9" cy="402.2" r="1.7"/><circle cx="581.5" cy="466.1" r="1.7"/><circle cx="569.8" cy="456.5" r="1.7"/><circle cx="549.4" cy="432.4" r="1.7"/><circle cx="525" cy="445.9" r="1.7"/><circle cx="564.8" cy="432.4" r="1.7"/><circle cx="594.6" cy="407.1" r="1.7"/><circle cx="568.2" cy="436.6" r="1.7"/><circle cx="596.8" cy="445.4" r="1.7"/><circle cx="563.2" cy="418.5" r="1.7"/><circle cx="608.3" cy="414.1" r="1.7"/><circle cx="563.9" cy="421.1" r="1.7"/><circle cx="583.5" cy="471.4" r="1.7"/><circle cx="553.1" cy="416.1" r="1.7"/><circle cx="533.9" cy="441.3" r="1.7"/><circle cx="576.6" cy="435.4" r="1.7"/><circle cx="541.2" cy="447.5" r="1.7"/><circle cx="582.2" cy="417" r="1.7"/><circle cx="593.9" cy="433.6" r="1.7"/><circle cx="556.6" cy="432.2" r="1.7"/><circle cx="555" cy="459.5" r="1.7"/><circle cx="569.5" cy="412.7" r="1.7"/><circle cx="575" cy="421.8" r="1.7"/><circle cx="529.5" cy="488.2" r="1.7"/><circle cx="571" cy="480.4" r="1.7"/><circle cx="546.3" cy="493.7" r="1.7"/><circle cx="536" cy="434.3" r="1.7"/><circle cx="555.1" cy="534.7" r="1.7"/><circle cx="560" cy="441.6" r="1.7"/><circle cx="559.1" cy="516.1" r="1.7"/><circle cx="576.7" cy="450.7" r="1.7"/><circle cx="564.8" cy="418.4" r="1.7"/><circle cx="556.6" cy="457.4" r="1.7"/><circle cx="562.7" cy="433.3" r="1.7"/><circle cx="566.6" cy="449" r="1.7"/><circle cx="584" cy="418.2" r="1.7"/><circle cx="556.8" cy="447.5" r="1.7"/><circle cx="580.4" cy="435.5" r="1.7"/><circle cx="572.4" cy="419.4" r="1.7"/><circle cx="587.1" cy="440.9" r="1.7"/><circle cx="559.9" cy="427.7" r="1.7"/><circle cx="546.9" cy="434" r="1.7"/><circle cx="537.7" cy="430.1" r="1.7"/><circle cx="567.2" cy="450.7" r="1.7"/><circle cx="602.3" cy="413.7" r="1.7"/><circle cx="554.1" cy="414.2" r="1.7"/><circle cx="559" cy="422.9" r="1.7"/><circle cx="582.9" cy="435" r="1.7"/><circle cx="559.1" cy="438.2" r="1.7"/><circle cx="588.8" cy="426.4" r="1.7"/><circle cx="525.4" cy="443.9" r="1.7"/><circle cx="589.7" cy="425" r="1.7"/><circle cx="553.9" cy="440.9" r="1.7"/><circle cx="603.6" cy="444.7" r="1.7"/><circle cx="579.7" cy="426.9" r="1.7"/><circle cx="582.4" cy="480.7" r="1.7"/><circle cx="562.9" cy="432.9" r="1.7"/><circle cx="554.5" cy="460.1" r="1.7"/><circle cx="555.6" cy="494.7" r="1.7"/><circle cx="588.4" cy="405.1" r="1.7"/><circle cx="560.8" cy="432.5" r="1.7"/><circle cx="507.1" cy="508.3" r="1.7"/><circle cx="570.5" cy="429.6" r="1.7"/><circle cx="571.7" cy="426.4" r="1.7"/><circle cx="569.6" cy="493" r="1.7"/><circle cx="536.6" cy="498.8" r="1.7"/><circle cx="547.3" cy="456.5" r="1.7"/><circle cx="579.8" cy="422" r="1.7"/><circle cx="568.9" cy="460.2" r="1.7"/><circle cx="574.4" cy="423.5" r="1.7"/><circle cx="534.8" cy="507.2" r="1.7"/><circle cx="567.4" cy="418.4" r="1.7"/><circle cx="552" cy="425.2" r="1.7"/><circle cx="549.7" cy="419.7" r="1.7"/><circle cx="540.4" cy="444.4" r="1.7"/><circle cx="538.5" cy="488" r="1.7"/><circle cx="551.1" cy="440.5" r="1.7"/><circle cx="578.1" cy="466.4" r="1.7"/><circle cx="569.2" cy="446.9" r="1.7"/><circle cx="566.1" cy="447.4" r="1.7"/><circle cx="558.2" cy="452.5" r="1.7"/><circle cx="550.6" cy="443.6" r="1.7"/><circle cx="569" cy="426.1" r="1.7"/><circle cx="584.5" cy="451" r="1.7"/><circle cx="563.1" cy="459.4" r="1.7"/><circle cx="536.4" cy="486.1" r="1.7"/><circle cx="593.6" cy="429.8" r="1.7"/><circle cx="563.5" cy="461.6" r="1.7"/><circle cx="541.6" cy="439.8" r="1.7"/><circle cx="584.4" cy="449.9" r="1.7"/><circle cx="558.5" cy="422" r="1.7"/><circle cx="539.7" cy="425.9" r="1.7"/><circle cx="597.2" cy="449.7" r="1.7"/><circle cx="556.6" cy="435.9" r="1.7"/><circle cx="549.2" cy="451.7" r="1.7"/><circle cx="562.2" cy="438.3" r="1.7"/><circle cx="523.5" cy="461.4" r="1.7"/><circle cx="551.2" cy="410" r="1.7"/><circle cx="572.5" cy="425.5" r="1.7"/><circle cx="556.3" cy="441" r="1.7"/><circle cx="522.1" cy="445.2" r="1.7"/><circle cx="552.8" cy="442.8" r="1.7"/><circle cx="598.4" cy="409.9" r="1.7"/><circle cx="576" cy="430" r="1.7"/><circle cx="570.2" cy="444.4" r="1.7"/><circle cx="528.9" cy="445.4" r="1.7"/><circle cx="602.9" cy="390.7" r="1.7"/><circle cx="566.6" cy="448.7" r="1.7"/><circle cx="564.8" cy="444.2" r="1.7"/><circle cx="582.3" cy="423.4" r="1.7"/><circle cx="576.3" cy="428.1" r="1.7"/><circle cx="583.7" cy="410.1" r="1.7"/><circle cx="543.8" cy="455.8" r="1.7"/><circle cx="568.9" cy="441.4" r="1.7"/><circle cx="585" cy="446.8" r="1.7"/><circle cx="556.6" cy="436.7" r="1.7"/><circle cx="543.6" cy="419.4" r="1.7"/><circle cx="546.9" cy="423.5" r="1.7"/><circle cx="545.2" cy="440.8" r="1.7"/><circle cx="560.6" cy="496.9" r="1.7"/><circle cx="569.8" cy="427.1" r="1.7"/><circle cx="537.8" cy="469.8" r="1.7"/><circle cx="524.3" cy="452.8" r="1.7"/><circle cx="537.1" cy="460.8" r="1.7"/><circle cx="552.8" cy="448.3" r="1.7"/><circle cx="556.5" cy="424.4" r="1.7"/><circle cx="580" cy="432.2" r="1.7"/><circle cx="577.9" cy="476.2" r="1.7"/><circle cx="539.8" cy="428.5" r="1.7"/><circle cx="563.1" cy="433.2" r="1.7"/><circle cx="572.2" cy="440.7" r="1.7"/><circle cx="584.6" cy="429.6" r="1.7"/><circle cx="558.8" cy="452.7" r="1.7"/><circle cx="555.2" cy="425" r="1.7"/><circle cx="560.2" cy="508" r="1.7"/><circle cx="561.4" cy="464" r="1.7"/><circle cx="570.4" cy="464.2" r="1.7"/><circle cx="613.5" cy="454.6" r="1.7"/><circle cx="572.5" cy="425.3" r="1.7"/><circle cx="571.5" cy="457.9" r="1.7"/><circle cx="566" cy="427.9" r="1.7"/><circle cx="557.2" cy="438" r="1.7"/><circle cx="585.6" cy="449.9" r="1.7"/><circle cx="545.2" cy="482.8" r="1.7"/><circle cx="579.3" cy="431.2" r="1.7"/><circle cx="578.8" cy="422.6" r="1.7"/><circle cx="530.4" cy="448.6" r="1.7"/><circle cx="562" cy="488.4" r="1.7"/><circle cx="576.1" cy="434.2" r="1.7"/><circle cx="567.9" cy="402.3" r="1.7"/><circle cx="557.5" cy="476.3" r="1.7"/><circle cx="552.9" cy="470.5" r="1.7"/><circle cx="530.3" cy="436.1" r="1.7"/><circle cx="536.8" cy="427.7" r="1.7"/><circle cx="612.1" cy="404.5" r="1.7"/><circle cx="571.2" cy="453.8" r="1.7"/><circle cx="581.2" cy="418.1" r="1.7"/><circle cx="519.7" cy="429.6" r="1.7"/><circle cx="540.9" cy="479.8" r="1.7"/><circle cx="559.1" cy="505.6" r="1.7"/><circle cx="584.7" cy="414.3" r="1.7"/><circle cx="554.3" cy="446.4" r="1.7"/><circle cx="547.7" cy="439.8" r="1.7"/><circle cx="587" cy="422.4" r="1.7"/><circle cx="589.1" cy="412.7" r="1.7"/><circle cx="603" cy="417.3" r="1.7"/><circle cx="536.4" cy="479.9" r="1.7"/><circle cx="561.6" cy="448.5" r="1.7"/><circle cx="550.1" cy="409.2" r="1.7"/><circle cx="581.8" cy="406.6" r="1.7"/><circle cx="556.9" cy="430.4" r="1.7"/><circle cx="549.5" cy="456.5" r="1.7"/><circle cx="582.1" cy="451.5" r="1.7"/><circle cx="563.1" cy="490.3" r="1.7"/><circle cx="530.9" cy="490.1" r="1.7"/><circle cx="558.3" cy="408.7" r="1.7"/><circle cx="563.6" cy="426.8" r="1.7"/><circle cx="574" cy="458.5" r="1.7"/><circle cx="554.3" cy="464" r="1.7"/><circle cx="518.9" cy="444.6" r="1.7"/><circle cx="569.5" cy="454.3" r="1.7"/><circle cx="582.9" cy="447.6" r="1.7"/><circle cx="548.9" cy="437.7" r="1.7"/><circle cx="571.4" cy="420.2" r="1.7"/><circle cx="577.2" cy="462.1" r="1.7"/><circle cx="599.8" cy="402.6" r="1.7"/><circle cx="537" cy="445.2" r="1.7"/><circle cx="574.3" cy="475.7" r="1.7"/><circle cx="567.7" cy="430.2" r="1.7"/><circle cx="545.7" cy="418.3" r="1.7"/><circle cx="562.4" cy="434.9" r="1.7"/><circle cx="517.3" cy="440.5" r="1.7"/><circle cx="522.8" cy="446.8" r="1.7"/><circle cx="521" cy="449.3" r="1.7"/><circle cx="559.4" cy="456.2" r="1.7"/><circle cx="566" cy="473.6" r="1.7"/><circle cx="552.3" cy="425.6" r="1.7"/><circle cx="565.2" cy="418.4" r="1.7"/><circle cx="563.1" cy="431" r="1.7"/><circle cx="553.9" cy="499.4" r="1.7"/><circle cx="559.6" cy="466.4" r="1.7"/><circle cx="562.9" cy="415.4" r="1.7"/><circle cx="561.1" cy="434.1" r="1.7"/><circle cx="519.6" cy="449.2" r="1.7"/><circle cx="575.6" cy="432.4" r="1.7"/><circle cx="578.9" cy="433.2" r="1.7"/><circle cx="552.8" cy="448.2" r="1.7"/><circle cx="562.5" cy="458.3" r="1.7"/><circle cx="576.8" cy="514.4" r="1.7"/><circle cx="536.3" cy="435.6" r="1.7"/><circle cx="585.1" cy="408.9" r="1.7"/><circle cx="576.5" cy="449.4" r="1.7"/><circle cx="608.1" cy="406.8" r="1.7"/><circle cx="561.5" cy="461.3" r="1.7"/><circle cx="551.7" cy="422.7" r="1.7"/><circle cx="545" cy="426.5" r="1.7"/><circle cx="586.9" cy="412.6" r="1.7"/><circle cx="574.5" cy="413.2" r="1.7"/><circle cx="558.4" cy="428.8" r="1.7"/><circle cx="550.1" cy="469.5" r="1.7"/><circle cx="580.3" cy="409.9" r="1.7"/><circle cx="601.7" cy="406.2" r="1.7"/><circle cx="587.8" cy="450.8" r="1.7"/><circle cx="551.7" cy="435.2" r="1.7"/><circle cx="571" cy="432.7" r="1.7"/><circle cx="563.9" cy="455.7" r="1.7"/><circle cx="534.8" cy="472.7" r="1.7"/><circle cx="566.5" cy="433.1" r="1.7"/><circle cx="587" cy="416.5" r="1.7"/><circle cx="525.4" cy="426.1" r="1.7"/><circle cx="537.1" cy="452.1" r="1.7"/><circle cx="555.1" cy="462.4" r="1.7"/><circle cx="512.9" cy="479" r="1.7"/><circle cx="547.1" cy="416" r="1.7"/><circle cx="587.3" cy="425.1" r="1.7"/><circle cx="547.2" cy="453.8" r="1.7"/><circle cx="571.6" cy="429.8" r="1.7"/><circle cx="572.1" cy="404.4" r="1.7"/><circle cx="546.9" cy="426.3" r="1.7"/><circle cx="572" cy="406.3" r="1.7"/><circle cx="543.1" cy="471.9" r="1.7"/><circle cx="573.9" cy="479.6" r="1.7"/><circle cx="594.7" cy="413.9" r="1.7"/><circle cx="555.2" cy="413.3" r="1.7"/><circle cx="535.6" cy="435.6" r="1.7"/><circle cx="536.3" cy="473.1" r="1.7"/><circle cx="574.2" cy="429.8" r="1.7"/><circle cx="563.7" cy="469.3" r="1.7"/><circle cx="522.2" cy="433.4" r="1.7"/><circle cx="562.1" cy="454.4" r="1.7"/><circle cx="588" cy="415.8" r="1.7"/><circle cx="557.7" cy="443.8" r="1.7"/><circle cx="560.7" cy="467.9" r="1.7"/><circle cx="553.4" cy="448.4" r="1.7"/><circle cx="559.2" cy="504.8" r="1.7"/><circle cx="546.6" cy="445.2" r="1.7"/><circle cx="537.5" cy="450" r="1.7"/><circle cx="593.6" cy="398.4" r="1.7"/><circle cx="562" cy="444.9" r="1.7"/><circle cx="554.4" cy="418.4" r="1.7"/><circle cx="550.1" cy="464" r="1.7"/><circle cx="577" cy="421" r="1.7"/><circle cx="552.7" cy="460.6" r="1.7"/><circle cx="578.3" cy="427.9" r="1.7"/><circle cx="547.6" cy="436.5" r="1.7"/><circle cx="560.4" cy="424.3" r="1.7"/><circle cx="581.9" cy="423.3" r="1.7"/><circle cx="585.8" cy="490.4" r="1.7"/><circle cx="593.6" cy="426" r="1.7"/><circle cx="564.1" cy="458.3" r="1.7"/><circle cx="576.2" cy="490.9" r="1.7"/><circle cx="560.3" cy="498.4" r="1.7"/><circle cx="538.3" cy="451.1" r="1.7"/><circle cx="564.8" cy="418.3" r="1.7"/><circle cx="554.8" cy="413.4" r="1.7"/><circle cx="533.7" cy="495.1" r="1.7"/><circle cx="556.7" cy="427.7" r="1.7"/><circle cx="555.9" cy="473.8" r="1.7"/><circle cx="567.8" cy="481.5" r="1.7"/><circle cx="579.6" cy="455" r="1.7"/><circle cx="570" cy="510.2" r="1.7"/><circle cx="566.4" cy="478" r="1.7"/><circle cx="545.3" cy="434.8" r="1.7"/><circle cx="539.5" cy="442.6" r="1.7"/><circle cx="547.5" cy="436.7" r="1.7"/><circle cx="576.8" cy="399.9" r="1.7"/><circle cx="551.1" cy="471" r="1.7"/><circle cx="579.5" cy="431.7" r="1.7"/><circle cx="572.9" cy="456.1" r="1.7"/><circle cx="581.1" cy="418.7" r="1.7"/><circle cx="555.1" cy="432" r="1.7"/><circle cx="577.8" cy="414.5" r="1.7"/><circle cx="566.1" cy="440.9" r="1.7"/><circle cx="553.2" cy="424.5" r="1.7"/><circle cx="565.5" cy="452.3" r="1.7"/><circle cx="594.1" cy="468.4" r="1.7"/><circle cx="582" cy="446.4" r="1.7"/><circle cx="530.2" cy="443.5" r="1.7"/><circle cx="542.5" cy="448.5" r="1.7"/><circle cx="518.1" cy="450.5" r="1.7"/><circle cx="546.7" cy="442.5" r="1.7"/><circle cx="545.2" cy="488.3" r="1.7"/><circle cx="584.8" cy="422" r="1.7"/><circle cx="549.8" cy="423.5" r="1.7"/><circle cx="561.1" cy="417.6" r="1.7"/><circle cx="549" cy="476.4" r="1.7"/><circle cx="562.1" cy="434.5" r="1.7"/><circle cx="597.9" cy="427" r="1.7"/><circle cx="581.2" cy="411.3" r="1.7"/><circle cx="514.2" cy="450" r="1.7"/><circle cx="593.8" cy="399" r="1.7"/><circle cx="544.6" cy="474.4" r="1.7"/><circle cx="549" cy="430.6" r="1.7"/><circle cx="545.5" cy="492.7" r="1.7"/><circle cx="587.7" cy="418.7" r="1.7"/><circle cx="575.2" cy="457.8" r="1.7"/><circle cx="568" cy="429.5" r="1.7"/><circle cx="561.5" cy="424.2" r="1.7"/><circle cx="557.3" cy="455.9" r="1.7"/><circle cx="599.3" cy="418.9" r="1.7"/><circle cx="483.5" cy="407" r="1.7"/><circle cx="487" cy="454.5" r="1.7"/><circle cx="506" cy="425" r="1.7"/><circle cx="572" cy="395.5" r="1.7"/><circle cx="642.5" cy="401.5" r="1.7"/><circle cx="614.5" cy="397.5" r="1.7"/><circle cx="564" cy="531" r="1.7"/><circle cx="584.5" cy="528.5" r="1.7"/><circle cx="602.5" cy="507.5" r="1.7"/><circle cx="559.5" cy="520.5" r="1.7"/></g>
<line x1="483" y1="481.7" x2="642.5" y2="406.6" stroke="#0000ff" stroke-width="1.5"/>
<polygon points="483.3,386.3 485,386.4 487.4,386.4 490.2,386.5 493,386.5 495.6,386.5 497.9,386.4 500.1,386.3 502.2,386.1 504.3,385.9 506.3,385.7 508.2,385.5 510,385.3 511.7,385.1 513.5,384.8 515.2,384.5 517,384.2 518.7,383.8 520.5,383.4 522.2,382.9 524,382.4 525.8,381.7 527.6,381 529.3,380.2 531.1,379.4 532.9,378.5 534.7,377.6 536.6,376.6 538.4,375.6 540.2,374.6 541.9,373.5 543.4,372.5 544.9,371.3 546.3,370.2 547.6,369.1 548.9,367.9 550.1,366.7 551.3,365.5 552.4,364.3 553.4,363.2 554.3,362.3 555.1,361.7 555.7,361.2 556.3,360.8 556.8,360.6 557.3,360.3 557.8,360.1 558.3,359.8 558.7,359.7 559.1,359.6 559.6,359.5 560.1,359.5 560.6,359.5 561.2,359.6 561.7,359.8 562.3,359.9 562.8,360 563.2,360.2 563.7,360.4 564.3,360.6 565,360.9 565.9,361.3 566.9,361.9 568.1,362.4 569.2,363 570.2,363.4 571.2,363.7 572.2,364 573.1,364.1 574,364.3 574.7,364.4 575.3,364.5 575.8,364.6 576.1,364.7 576.5,364.7 576.9,364.8 577.4,364.9 577.9,365 578.4,365.1 579,365.2 579.5,365.4 580,365.7 580.4,365.9 580.9,366.2 581.5,366.6 582.2,367.1 583.1,367.8 584.1,368.5 585.2,369.3 586.4,370.2 587.6,371.1 588.9,372.2 590.3,373.4 591.8,374.6 593.2,375.8 594.6,376.9 596.1,377.8 597.5,378.8 599,379.6 600.4,380.4 601.8,381.2 603.2,381.9 604.6,382.5 606,383.1 607.4,383.7 608.8,384.2 610.3,384.6 611.7,384.9 613.2,385.2 614.6,385.5 616,385.7 617.2,385.9 618.2,386 619.3,386.1 620.8,386.2 623,386.3 626.4,386.4 630.9,386.4 635.5,386.5 639.7,386.5 642.5,386.5 642.5,386.5 483,386.5" fill="#cd7466"/>
<polyline points="483.3,386.3 485,386.4 487.4,386.4 490.2,386.5 493,386.5 495.6,386.5 497.9,386.4 500.1,386.3 502.2,386.1 504.3,385.9 506.3,385.7 508.2,385.5 510,385.3 511.7,385.1 513.5,384.8 515.2,384.5 517,384.2 518.7,383.8 520.5,383.4 522.2,382.9 524,382.4 525.8,381.7 527.6,381 529.3,380.2 531.1,379.4 532.9,378.5 534.7,377.6 536.6,376.6 538.4,375.6 540.2,374.6 541.9,373.5 543.4,372.5 544.9,371.3 546.3,370.2 547.6,369.1 548.9,367.9 550.1,366.7 551.3,365.5 552.4,364.3 553.4,363.2 554.3,362.3 555.1,361.7 555.7,361.2 556.3,360.8 556.8,360.6 557.3,360.3 557.8,360.1 558.3,359.8 558.7,359.7 559.1,359.6 559.6,359.5 560.1,359.5 560.6,359.5 561.2,359.6 561.7,359.8 562.3,359.9 562.8,360 563.2,360.2 563.7,360.4 564.3,360.6 565,360.9 565.9,361.3 566.9,361.9 568.1,362.4 569.2,363 570.2,363.4 571.2,363.7 572.2,364 573.1,364.1 574,364.3 574.7,364.4 575.3,364.5 575.8,364.6 576.1,364.7 576.5,364.7 576.9,364.8 577.4,364.9 577.9,365 578.4,365.1 579,365.2 579.5,365.4 580,365.7 580.4,365.9 580.9,366.2 581.5,366.6 582.2,367.1 583.1,367.8 584.1,368.5 585.2,369.3 586.4,370.2 587.6,371.1 588.9,372.2 590.3,373.4 591.8,374.6 593.2,375.8 594.6,376.9 596.1,377.8 597.5,378.8 599,379.6 600.4,380.4 601.8,381.2 603.2,381.9 604.6,382.5 606,383.1 607.4,383.7 608.8,384.2 610.3,384.6 611.7,384.9 613.2,385.2 614.6,385.5 616,385.7 617.2,385.9 618.2,386 619.3,386.1 620.8,386.2 623,386.3 626.4,386.4 630.9,386.4 635.5,386.5 639.7,386.5 642.5,386.5" fill="none" stroke="#000" stroke-width="0.7"/>
<polygon points="652.8,394.9 653.3,395.2 653.8,395.5 654.6,396 655.5,396.6 656.5,397.4 657.9,398.4 659.5,399.6 661.3,401 663.1,402.3 664.8,403.6 666.5,404.6 668.2,405.6 669.9,406.6 671.5,407.6 673,408.7 674.4,409.9 675.8,411.1 677,412.4 678.2,413.6 679.2,414.9 680.2,416.2 681,417.5 681.8,418.8 682.4,420 682.9,421.1 683.3,422 683.6,422.8 683.7,423.5 683.8,424.3 683.8,425.2 683.7,426.3 683.5,427.5 683.2,428.8 682.8,430.1 682.3,431.4 681.7,432.6 680.9,433.9 680,435.1 679.1,436.3 678.2,437.6 677.4,438.8 676.5,440 675.6,441.2 674.8,442.5 674.1,443.8 673.4,445.1 672.7,446.5 672.1,448 671.5,449.5 671,451 670.6,452.6 670.3,454.2 670,455.9 669.7,457.6 669.3,459.2 668.9,460.9 668.4,462.5 667.9,464.2 667.4,465.8 666.9,467.5 666.3,469.1 665.6,470.8 665,472.5 664.3,474.1 663.8,475.7 663.3,477.2 662.8,478.7 662.4,480.1 662,481.5 661.7,482.9 661.5,484.4 661.4,485.8 661.4,487.2 661.3,488.6 661.1,490.2 660.8,491.7 660.4,493.4 660,495.1 659.5,496.7 659,498.4 658.4,500.1 657.7,501.7 656.9,503.4 656.1,505 655.5,506.6 655,508.3 654.5,509.9 654.1,511.6 653.8,513.2 653.5,514.9 653.2,516.6 653.1,518.2 653,519.9 652.9,521.6 652.8,523.1 652.8,524.8 652.7,526.5 652.7,528 652.7,529.4 652.6,530.4 652.4,530.4 652.4,394.9" fill="#4a9fcc"/>
<polyline points="652.8,394.9 653.3,395.2 653.8,395.5 654.6,396 655.5,396.6 656.5,397.4 657.9,398.4 659.5,399.6 661.3,401 663.1,402.3 664.8,403.6 666.5,404.6 668.2,405.6 669.9,406.6 671.5,407.6 673,408.7 674.4,409.9 675.8,411.1 677,412.4 678.2,413.6 679.2,414.9 680.2,416.2 681,417.5 681.8,418.8 682.4,420 682.9,421.1 683.3,422 683.6,422.8 683.7,423.5 683.8,424.3 683.8,425.2 683.7,426.3 683.5,427.5 683.2,428.8 682.8,430.1 682.3,431.4 681.7,432.6 680.9,433.9 680,435.1 679.1,436.3 678.2,437.6 677.4,438.8 676.5,440 675.6,441.2 674.8,442.5 674.1,443.8 673.4,445.1 672.7,446.5 672.1,448 671.5,449.5 671,451 670.6,452.6 670.3,454.2 670,455.9 669.7,457.6 669.3,459.2 668.9,460.9 668.4,462.5 667.9,464.2 667.4,465.8 666.9,467.5 666.3,469.1 665.6,470.8 665,472.5 664.3,474.1 663.8,475.7 663.3,477.2 662.8,478.7 662.4,480.1 662,481.5 661.7,482.9 661.5,484.4 661.4,485.8 661.4,487.2 661.3,488.6 661.1,490.2 660.8,491.7 660.4,493.4 660,495.1 659.5,496.7 659,498.4 658.4,500.1 657.7,501.7 656.9,503.4 656.1,505 655.5,506.6 655,508.3 654.5,509.9 654.1,511.6 653.8,513.2 653.5,514.9 653.2,516.6 653.1,518.2 653,519.9 652.9,521.6 652.8,523.1 652.8,524.8 652.7,526.5 652.7,528 652.7,529.4 652.6,530.4" fill="none" stroke="#000" stroke-width="0.7"/>
<text x="483" y="544.4" font-size="6.6" font-weight="bold" fill="#000" text-anchor="middle">2</text><text x="531.4" y="544.4" font-size="6.6" font-weight="bold" fill="#000" text-anchor="middle">4</text><text x="579.8" y="544.4" font-size="6.6" font-weight="bold" fill="#000" text-anchor="middle">6</text><text x="628.2" y="544.4" font-size="6.6" font-weight="bold" fill="#000" text-anchor="middle">8</text><text x="476.7" y="419.7" font-size="6.6" font-weight="bold" fill="#000" text-anchor="end">0.70</text><text x="476.7" y="453.6" font-size="6.6" font-weight="bold" fill="#000" text-anchor="end">0.6</text><text x="476.7" y="487.5" font-size="6.6" font-weight="bold" fill="#000" text-anchor="end">0.5</text><text x="476.7" y="521.4" font-size="6.6" font-weight="bold" fill="#000" text-anchor="end">0.4</text>
<text x="563.5" y="549.5" font-size="5.77" font-weight="bold" fill="#000" text-anchor="middle">Log2 (PRKDC TPM + 1)</text>
<text transform="translate(464 462.7) rotate(-90)" font-size="5.8" font-weight="bold" fill="#000" text-anchor="middle" word-spacing="1.6">Tumor proliferation signature</text>
<text x="475.8" y="349.9" font-size="5.3" fill="#000" textLength="167.2" lengthAdjust="spacingAndGlyphs" stroke="#000" stroke-width="0.04">log<tspan font-size="3.7" dy="1.1">e</tspan><tspan dy="-1.1">(</tspan><tspan font-style="italic">S</tspan>) = 16.38, <tspan font-style="italic">p</tspan> = 6.86e−25, <tspan>ρ̂</tspan><tspan font-size="3.7" dy="1.1">Spearman</tspan><tspan dy="-1.1"> = 0.43, CI</tspan><tspan font-size="3.7" dy="1.1">95%</tspan><tspan dy="-1.1"> [0.36, 0.50], </tspan><tspan font-style="italic">n</tspan><tspan font-size="3.7" dy="1.1">pairs</tspan><tspan dy="-1.1"> = 516</tspan></text>
</g>
<g font-family="Liberation Serif, Times New Roman, serif">
<line x1="29.6" x2="29.6" y1="610.4" y2="758.7" stroke="#ebebeb" stroke-width="0.5"/><line x1="53.6" x2="53.6" y1="610.4" y2="758.7" stroke="#ebebeb" stroke-width="0.5"/><line x1="77.6" x2="77.6" y1="610.4" y2="758.7" stroke="#ebebeb" stroke-width="0.5"/><line x1="101.6" x2="101.6" y1="610.4" y2="758.7" stroke="#ebebeb" stroke-width="0.5"/><line x1="125.6" x2="125.6" y1="610.4" y2="758.7" stroke="#ebebeb" stroke-width="0.5"/><line x1="149.6" x2="149.6" y1="610.4" y2="758.7" stroke="#ebebeb" stroke-width="0.5"/><line x1="173.6" x2="173.6" y1="610.4" y2="758.7" stroke="#ebebeb" stroke-width="0.5"/><line x1="21.7" x2="195" y1="630.4" y2="630.4" stroke="#ebebeb" stroke-width="0.5"/><line x1="21.7" x2="195" y1="651.5" y2="651.5" stroke="#ebebeb" stroke-width="0.5"/><line x1="21.7" x2="195" y1="672.6" y2="672.6" stroke="#ebebeb" stroke-width="0.5"/><line x1="21.7" x2="195" y1="693.8" y2="693.8" stroke="#ebebeb" stroke-width="0.5"/><line x1="21.7" x2="195" y1="715" y2="715" stroke="#ebebeb" stroke-width="0.5"/><line x1="21.7" x2="195" y1="736.1" y2="736.1" stroke="#ebebeb" stroke-width="0.5"/><line x1="21.7" x2="195" y1="757.2" y2="757.2" stroke="#ebebeb" stroke-width="0.5"/>
<polygon points="29.5,707.7 36.1,705.3 42.6,703 49.2,700.7 55.8,698.3 62.3,696 68.9,693.6 75.5,691.3 82,688.9 88.6,686.5 95.2,684 101.7,681.5 108.3,678.8 114.9,676 121.4,673 128,669.8 134.6,666.5 141.1,663.1 147.7,659.8 154.3,656.4 160.8,652.9 167.4,649.5 174,646.1 180.5,642.6 187.1,639.2 187.1,652.4 180.5,654.8 174,657.1 167.4,659.4 160.8,661.8 154.3,664.2 147.7,666.5 141.1,668.9 134.6,671.4 128,673.9 121.4,676.5 114.9,679.2 108.3,682.2 101.7,685.3 95.2,688.6 88.6,691.9 82,695.3 75.5,698.7 68.9,702.1 62.3,705.5 55.8,708.9 49.2,712.4 42.6,715.8 36.1,719.3 29.5,722.7" fill="#999999" fill-opacity="0.45"/>
<g fill="#000" fill-opacity="0.42"><circle cx="143.2" cy="696.4" r="1.7"/><circle cx="120.7" cy="673" r="1.7"/><circle cx="178.4" cy="639.8" r="1.7"/><circle cx="95.3" cy="708.6" r="1.7"/><circle cx="103.1" cy="676.8" r="1.7"/><circle cx="123.1" cy="681.7" r="1.7"/><circle cx="158.7" cy="691" r="1.7"/><circle cx="100.9" cy="709.2" r="1.7"/><circle cx="88.5" cy="723.8" r="1.7"/><circle cx="104.2" cy="668.5" r="1.7"/><circle cx="101.1" cy="672.9" r="1.7"/><circle cx="103.3" cy="686.7" r="1.7"/><circle cx="121.3" cy="683.4" r="1.7"/><circle cx="134.9" cy="641.1" r="1.7"/><circle cx="111.4" cy="676.9" r="1.7"/><circle cx="97" cy="716.4" r="1.7"/><circle cx="119" cy="678.4" r="1.7"/><circle cx="112.9" cy="664.6" r="1.7"/><circle cx="111.9" cy="671.2" r="1.7"/><circle cx="134.3" cy="641.8" r="1.7"/><circle cx="129.9" cy="694" r="1.7"/><circle cx="100.3" cy="699.8" r="1.7"/><circle cx="116.7" cy="641.7" r="1.7"/><circle cx="119.5" cy="690.3" r="1.7"/><circle cx="145.6" cy="681.2" r="1.7"/><circle cx="134.3" cy="693" r="1.7"/><circle cx="140.2" cy="632.4" r="1.7"/><circle cx="117.3" cy="704.1" r="1.7"/><circle cx="115.8" cy="702.1" r="1.7"/><circle cx="95.8" cy="687.5" r="1.7"/><circle cx="109" cy="674.6" r="1.7"/><circle cx="127.4" cy="654.7" r="1.7"/><circle cx="130" cy="631.8" r="1.7"/><circle cx="111.5" cy="697.4" r="1.7"/><circle cx="124.2" cy="617.1" r="1.7"/><circle cx="109.7" cy="677.4" r="1.7"/><circle cx="130.5" cy="684.8" r="1.7"/><circle cx="116" cy="677.8" r="1.7"/><circle cx="131.4" cy="685.9" r="1.7"/><circle cx="96.1" cy="683.8" r="1.7"/><circle cx="105" cy="665.2" r="1.7"/><circle cx="116.3" cy="663.7" r="1.7"/><circle cx="89.2" cy="665.2" r="1.7"/><circle cx="87.1" cy="683.8" r="1.7"/><circle cx="105.7" cy="663.2" r="1.7"/><circle cx="112.6" cy="699.2" r="1.7"/><circle cx="140" cy="641.8" r="1.7"/><circle cx="105.4" cy="678.6" r="1.7"/><circle cx="122.9" cy="681.7" r="1.7"/><circle cx="157.4" cy="664" r="1.7"/><circle cx="136.7" cy="688.4" r="1.7"/><circle cx="50.8" cy="674.5" r="1.7"/><circle cx="145.8" cy="640.5" r="1.7"/><circle cx="133.8" cy="649.1" r="1.7"/><circle cx="120.7" cy="693.6" r="1.7"/><circle cx="84.1" cy="689.5" r="1.7"/><circle cx="113.5" cy="670.9" r="1.7"/><circle cx="128.2" cy="688" r="1.7"/><circle cx="112.8" cy="685.4" r="1.7"/><circle cx="102.6" cy="650.8" r="1.7"/><circle cx="111.9" cy="677.6" r="1.7"/><circle cx="133" cy="674.5" r="1.7"/><circle cx="86.1" cy="721.5" r="1.7"/><circle cx="71.8" cy="707.5" r="1.7"/><circle cx="141.9" cy="672.3" r="1.7"/><circle cx="99.4" cy="689.7" r="1.7"/><circle cx="106.9" cy="660" r="1.7"/><circle cx="97.7" cy="653.2" r="1.7"/><circle cx="114.8" cy="657.3" r="1.7"/><circle cx="118.1" cy="703.8" r="1.7"/><circle cx="98.7" cy="682.8" r="1.7"/><circle cx="131.1" cy="667" r="1.7"/><circle cx="133.8" cy="614.4" r="1.7"/><circle cx="99.2" cy="677.3" r="1.7"/><circle cx="118.3" cy="666.9" r="1.7"/><circle cx="146" cy="639" r="1.7"/><circle cx="126.7" cy="655" r="1.7"/><circle cx="92.3" cy="701.1" r="1.7"/><circle cx="125.9" cy="666.6" r="1.7"/><circle cx="145.5" cy="635.3" r="1.7"/><circle cx="103.2" cy="673" r="1.7"/><circle cx="82.9" cy="687.5" r="1.7"/><circle cx="102.2" cy="670.2" r="1.7"/><circle cx="113.4" cy="679.9" r="1.7"/><circle cx="91.2" cy="710.2" r="1.7"/><circle cx="116.7" cy="685.9" r="1.7"/><circle cx="79.5" cy="652.7" r="1.7"/><circle cx="136.3" cy="643.4" r="1.7"/><circle cx="83" cy="682.4" r="1.7"/><circle cx="93.8" cy="696.5" r="1.7"/><circle cx="108.4" cy="701.1" r="1.7"/><circle cx="106.9" cy="686.9" r="1.7"/><circle cx="124.6" cy="664.8" r="1.7"/><circle cx="63.6" cy="720.6" r="1.7"/><circle cx="119.5" cy="710.5" r="1.7"/><circle cx="98.7" cy="659.4" r="1.7"/><circle cx="115.2" cy="668" r="1.7"/><circle cx="112.1" cy="681.8" r="1.7"/><circle cx="94.6" cy="687.5" r="1.7"/><circle cx="88.5" cy="695.1" r="1.7"/><circle cx="124.9" cy="693.9" r="1.7"/><circle cx="108.5" cy="680.8" r="1.7"/><circle cx="110.7" cy="661.6" r="1.7"/><circle cx="140.5" cy="687.2" r="1.7"/><circle cx="117.4" cy="681.4" r="1.7"/><circle cx="106.8" cy="696.3" r="1.7"/><circle cx="108" cy="640.8" r="1.7"/><circle cx="97.1" cy="671.6" r="1.7"/><circle cx="97.6" cy="733.7" r="1.7"/><circle cx="68.8" cy="670" r="1.7"/><circle cx="138.7" cy="631.1" r="1.7"/><circle cx="104.6" cy="682" r="1.7"/><circle cx="117.7" cy="696" r="1.7"/><circle cx="102.9" cy="656.4" r="1.7"/><circle cx="85.7" cy="684.9" r="1.7"/><circle cx="107.2" cy="684.4" r="1.7"/><circle cx="108.2" cy="680.7" r="1.7"/><circle cx="78.1" cy="708.4" r="1.7"/><circle cx="128" cy="711.4" r="1.7"/><circle cx="99.4" cy="691.1" r="1.7"/><circle cx="117.8" cy="675.3" r="1.7"/><circle cx="90.1" cy="722.4" r="1.7"/><circle cx="111.1" cy="705.2" r="1.7"/><circle cx="119.6" cy="666.6" r="1.7"/><circle cx="121.4" cy="676.9" r="1.7"/><circle cx="123.2" cy="683.4" r="1.7"/><circle cx="113.8" cy="706.7" r="1.7"/><circle cx="104" cy="700.6" r="1.7"/><circle cx="124.6" cy="670.8" r="1.7"/><circle cx="76.7" cy="704.8" r="1.7"/><circle cx="136.2" cy="649.9" r="1.7"/><circle cx="106.7" cy="675.9" r="1.7"/><circle cx="117" cy="695.8" r="1.7"/><circle cx="128.3" cy="668.3" r="1.7"/><circle cx="92.1" cy="696.7" r="1.7"/><circle cx="112.4" cy="700.5" r="1.7"/><circle cx="112.2" cy="667.6" r="1.7"/><circle cx="137.2" cy="702.6" r="1.7"/><circle cx="129.2" cy="631.6" r="1.7"/><circle cx="118.3" cy="659.4" r="1.7"/><circle cx="120.1" cy="697.1" r="1.7"/><circle cx="99.3" cy="705.2" r="1.7"/><circle cx="135.1" cy="654.5" r="1.7"/><circle cx="77.6" cy="660" r="1.7"/><circle cx="105.9" cy="695" r="1.7"/><circle cx="126" cy="678.4" r="1.7"/><circle cx="138" cy="650.1" r="1.7"/><circle cx="90.5" cy="692.7" r="1.7"/><circle cx="112.7" cy="695.1" r="1.7"/><circle cx="107.4" cy="656.9" r="1.7"/><circle cx="123.6" cy="644.2" r="1.7"/><circle cx="129.7" cy="677.8" r="1.7"/><circle cx="75.5" cy="708.9" r="1.7"/><circle cx="110" cy="731.2" r="1.7"/><circle cx="114.3" cy="669.2" r="1.7"/><circle cx="78.8" cy="724" r="1.7"/><circle cx="69.5" cy="705.8" r="1.7"/><circle cx="114.5" cy="685.9" r="1.7"/><circle cx="123" cy="686.4" r="1.7"/><circle cx="61.3" cy="719.2" r="1.7"/><circle cx="149.2" cy="654.3" r="1.7"/><circle cx="75.6" cy="698" r="1.7"/><circle cx="113.1" cy="680.9" r="1.7"/><circle cx="84.4" cy="657.5" r="1.7"/><circle cx="102.6" cy="715.4" r="1.7"/><circle cx="104.7" cy="688.6" r="1.7"/><circle cx="104.3" cy="658.4" r="1.7"/><circle cx="105.1" cy="691.9" r="1.7"/><circle cx="138.4" cy="636.7" r="1.7"/><circle cx="140.1" cy="651.4" r="1.7"/><circle cx="92.4" cy="685.5" r="1.7"/><circle cx="122.5" cy="693.2" r="1.7"/><circle cx="119.5" cy="694.7" r="1.7"/><circle cx="133.4" cy="672.6" r="1.7"/><circle cx="113.9" cy="682.6" r="1.7"/><circle cx="120.6" cy="670.7" r="1.7"/><circle cx="97.3" cy="708.4" r="1.7"/><circle cx="127.8" cy="679.8" r="1.7"/><circle cx="112.9" cy="685" r="1.7"/><circle cx="100.6" cy="682.4" r="1.7"/><circle cx="103.7" cy="677.1" r="1.7"/><circle cx="128.4" cy="690.1" r="1.7"/><circle cx="135.5" cy="675.9" r="1.7"/><circle cx="136.9" cy="664.6" r="1.7"/><circle cx="95.9" cy="658" r="1.7"/><circle cx="89.8" cy="696.7" r="1.7"/><circle cx="124.6" cy="691.4" r="1.7"/><circle cx="101.6" cy="660.7" r="1.7"/><circle cx="137.4" cy="622.3" r="1.7"/><circle cx="104.9" cy="688.4" r="1.7"/><circle cx="92.2" cy="686.7" r="1.7"/><circle cx="84.2" cy="693" r="1.7"/><circle cx="87.2" cy="700.5" r="1.7"/><circle cx="116.5" cy="702.7" r="1.7"/><circle cx="108.5" cy="661.1" r="1.7"/><circle cx="120.8" cy="662.9" r="1.7"/><circle cx="84.7" cy="661.9" r="1.7"/><circle cx="83.5" cy="699.2" r="1.7"/><circle cx="122.2" cy="670" r="1.7"/><circle cx="103.6" cy="671.1" r="1.7"/><circle cx="99.3" cy="686.1" r="1.7"/><circle cx="133" cy="631" r="1.7"/><circle cx="72.8" cy="702.8" r="1.7"/><circle cx="66.6" cy="708.3" r="1.7"/><circle cx="100.9" cy="705.3" r="1.7"/><circle cx="103.8" cy="715" r="1.7"/><circle cx="159.5" cy="670.7" r="1.7"/><circle cx="127.9" cy="657.5" r="1.7"/><circle cx="117.3" cy="666.5" r="1.7"/><circle cx="90.1" cy="715" r="1.7"/><circle cx="122.7" cy="633.4" r="1.7"/><circle cx="99.3" cy="695.8" r="1.7"/><circle cx="103.5" cy="685.4" r="1.7"/><circle cx="65.9" cy="696.7" r="1.7"/><circle cx="130.7" cy="638.5" r="1.7"/><circle cx="100.5" cy="641.2" r="1.7"/><circle cx="112.9" cy="707.9" r="1.7"/><circle cx="83.3" cy="735.6" r="1.7"/><circle cx="126.4" cy="681.4" r="1.7"/><circle cx="71.1" cy="712.8" r="1.7"/><circle cx="77.7" cy="673.4" r="1.7"/><circle cx="121.9" cy="664.9" r="1.7"/><circle cx="71.7" cy="697.7" r="1.7"/><circle cx="108.9" cy="679.9" r="1.7"/><circle cx="121.4" cy="663.8" r="1.7"/><circle cx="108.8" cy="659.6" r="1.7"/><circle cx="126.9" cy="650.1" r="1.7"/><circle cx="112.2" cy="700.1" r="1.7"/><circle cx="115.1" cy="692.9" r="1.7"/><circle cx="124.3" cy="692.3" r="1.7"/><circle cx="62.8" cy="719.6" r="1.7"/><circle cx="138.2" cy="693.4" r="1.7"/><circle cx="116" cy="664.3" r="1.7"/><circle cx="126.9" cy="693.3" r="1.7"/><circle cx="63" cy="686" r="1.7"/><circle cx="113" cy="679.7" r="1.7"/><circle cx="94.3" cy="711.2" r="1.7"/><circle cx="98.4" cy="697.4" r="1.7"/><circle cx="104.1" cy="678.9" r="1.7"/><circle cx="166.7" cy="676.8" r="1.7"/><circle cx="152.9" cy="676.8" r="1.7"/><circle cx="124.5" cy="649.5" r="1.7"/><circle cx="80.5" cy="689.6" r="1.7"/><circle cx="146.5" cy="624.9" r="1.7"/><circle cx="150.5" cy="634" r="1.7"/><circle cx="96.6" cy="679" r="1.7"/><circle cx="109.8" cy="661.7" r="1.7"/><circle cx="120.4" cy="695.7" r="1.7"/><circle cx="98.1" cy="706.5" r="1.7"/><circle cx="144.4" cy="653.3" r="1.7"/><circle cx="134.8" cy="668.2" r="1.7"/><circle cx="111" cy="709.7" r="1.7"/><circle cx="110.1" cy="708.8" r="1.7"/><circle cx="106.8" cy="680" r="1.7"/><circle cx="61.6" cy="715.5" r="1.7"/><circle cx="130.7" cy="676.2" r="1.7"/><circle cx="119.6" cy="716.6" r="1.7"/><circle cx="142.3" cy="696.5" r="1.7"/><circle cx="97" cy="686.1" r="1.7"/><circle cx="88.7" cy="697.9" r="1.7"/><circle cx="119.4" cy="677.7" r="1.7"/><circle cx="116.9" cy="679.5" r="1.7"/><circle cx="115.7" cy="662.3" r="1.7"/><circle cx="137.7" cy="645.6" r="1.7"/><circle cx="78.4" cy="686.4" r="1.7"/><circle cx="122" cy="685.3" r="1.7"/><circle cx="146.4" cy="635.8" r="1.7"/><circle cx="79.3" cy="674.7" r="1.7"/><circle cx="114.6" cy="671.3" r="1.7"/><circle cx="90.6" cy="661.1" r="1.7"/><circle cx="156.6" cy="682" r="1.7"/><circle cx="131.4" cy="683.3" r="1.7"/><circle cx="103.3" cy="697.6" r="1.7"/><circle cx="157" cy="643.3" r="1.7"/><circle cx="101.2" cy="662.1" r="1.7"/><circle cx="105.9" cy="667.9" r="1.7"/><circle cx="76.1" cy="701.8" r="1.7"/><circle cx="103.4" cy="666.5" r="1.7"/><circle cx="91.2" cy="703.5" r="1.7"/><circle cx="90.7" cy="692.7" r="1.7"/><circle cx="103.8" cy="699.2" r="1.7"/><circle cx="95.7" cy="683.2" r="1.7"/><circle cx="99.6" cy="699.8" r="1.7"/><circle cx="105.8" cy="698.8" r="1.7"/><circle cx="127.3" cy="696.7" r="1.7"/><circle cx="62.3" cy="679.9" r="1.7"/><circle cx="89.8" cy="659.1" r="1.7"/><circle cx="147.8" cy="647.1" r="1.7"/><circle cx="74.4" cy="720.6" r="1.7"/><circle cx="32" cy="709.6" r="1.7"/><circle cx="132" cy="692.6" r="1.7"/><circle cx="85.3" cy="696.4" r="1.7"/><circle cx="133.5" cy="686" r="1.7"/><circle cx="117.9" cy="700" r="1.7"/><circle cx="91.6" cy="674.3" r="1.7"/><circle cx="65.6" cy="695" r="1.7"/><circle cx="89.3" cy="703" r="1.7"/><circle cx="91.6" cy="700.5" r="1.7"/><circle cx="134.2" cy="645.1" r="1.7"/><circle cx="93.9" cy="706.3" r="1.7"/><circle cx="108.1" cy="645.9" r="1.7"/><circle cx="90.3" cy="686.7" r="1.7"/><circle cx="93.2" cy="684.6" r="1.7"/><circle cx="102.7" cy="702.6" r="1.7"/><circle cx="87.7" cy="708.3" r="1.7"/><circle cx="105.1" cy="687.4" r="1.7"/><circle cx="130.6" cy="695.8" r="1.7"/><circle cx="98.9" cy="689.9" r="1.7"/><circle cx="106.1" cy="656.6" r="1.7"/><circle cx="122" cy="660.6" r="1.7"/><circle cx="118.1" cy="695.2" r="1.7"/><circle cx="101" cy="694.7" r="1.7"/><circle cx="83.6" cy="702.1" r="1.7"/><circle cx="72.3" cy="716.5" r="1.7"/><circle cx="114.5" cy="683.9" r="1.7"/><circle cx="89.7" cy="662.4" r="1.7"/><circle cx="98.5" cy="706.4" r="1.7"/><circle cx="149.3" cy="705.2" r="1.7"/><circle cx="128.9" cy="696" r="1.7"/><circle cx="152.2" cy="644.7" r="1.7"/><circle cx="155" cy="645.3" r="1.7"/><circle cx="112.9" cy="651.7" r="1.7"/><circle cx="94" cy="698.1" r="1.7"/><circle cx="106.2" cy="687.2" r="1.7"/><circle cx="102" cy="666.3" r="1.7"/><circle cx="135.9" cy="679.4" r="1.7"/><circle cx="105.3" cy="670.5" r="1.7"/><circle cx="59" cy="709.3" r="1.7"/><circle cx="112.1" cy="696.2" r="1.7"/><circle cx="86.5" cy="663.1" r="1.7"/><circle cx="120.7" cy="726.8" r="1.7"/><circle cx="58.3" cy="672.9" r="1.7"/><circle cx="115.9" cy="670.9" r="1.7"/><circle cx="107.7" cy="699.5" r="1.7"/><circle cx="91.6" cy="669.2" r="1.7"/><circle cx="119.5" cy="660.9" r="1.7"/><circle cx="81" cy="712.4" r="1.7"/><circle cx="104.4" cy="689.3" r="1.7"/><circle cx="98.7" cy="670.7" r="1.7"/><circle cx="98.4" cy="672.4" r="1.7"/><circle cx="139.6" cy="692" r="1.7"/><circle cx="125.5" cy="712.4" r="1.7"/><circle cx="125.5" cy="704" r="1.7"/><circle cx="85.9" cy="656.2" r="1.7"/><circle cx="70.6" cy="687.8" r="1.7"/><circle cx="105.5" cy="639.8" r="1.7"/><circle cx="131.7" cy="651.9" r="1.7"/><circle cx="115.9" cy="670.2" r="1.7"/><circle cx="125.3" cy="685.9" r="1.7"/><circle cx="104.3" cy="714.4" r="1.7"/><circle cx="103.5" cy="661.4" r="1.7"/><circle cx="120.2" cy="660.6" r="1.7"/><circle cx="75.1" cy="692.5" r="1.7"/><circle cx="119.9" cy="704.9" r="1.7"/><circle cx="151" cy="634.9" r="1.7"/><circle cx="81.1" cy="674.4" r="1.7"/><circle cx="123.3" cy="679.4" r="1.7"/><circle cx="113.7" cy="721.1" r="1.7"/><circle cx="98.8" cy="666.5" r="1.7"/><circle cx="124.9" cy="689.1" r="1.7"/><circle cx="115.7" cy="661.5" r="1.7"/><circle cx="140.4" cy="686.3" r="1.7"/><circle cx="110.4" cy="666" r="1.7"/><circle cx="121" cy="674" r="1.7"/><circle cx="122.5" cy="664.9" r="1.7"/><circle cx="81.2" cy="707.8" r="1.7"/><circle cx="88.7" cy="686.4" r="1.7"/><circle cx="109.4" cy="709.2" r="1.7"/><circle cx="92.1" cy="696.2" r="1.7"/><circle cx="98.4" cy="666" r="1.7"/><circle cx="99.9" cy="699.7" r="1.7"/><circle cx="100.9" cy="653.7" r="1.7"/><circle cx="120.9" cy="659.1" r="1.7"/><circle cx="59.3" cy="699.4" r="1.7"/><circle cx="121.9" cy="634.3" r="1.7"/><circle cx="140.2" cy="675.2" r="1.7"/><circle cx="102.8" cy="664" r="1.7"/><circle cx="121.5" cy="671.2" r="1.7"/><circle cx="102.1" cy="658.2" r="1.7"/><circle cx="150.5" cy="688.2" r="1.7"/><circle cx="95.5" cy="668.7" r="1.7"/><circle cx="91.4" cy="664.5" r="1.7"/><circle cx="108.1" cy="699.5" r="1.7"/><circle cx="123.7" cy="660" r="1.7"/><circle cx="107.8" cy="650.4" r="1.7"/><circle cx="110.7" cy="671.6" r="1.7"/><circle cx="115.4" cy="697.3" r="1.7"/><circle cx="107.6" cy="675.8" r="1.7"/><circle cx="127.9" cy="657.6" r="1.7"/><circle cx="100.3" cy="676.6" r="1.7"/><circle cx="98.7" cy="671.5" r="1.7"/><circle cx="103.1" cy="655.2" r="1.7"/><circle cx="128.1" cy="701.3" r="1.7"/><circle cx="138.4" cy="661.3" r="1.7"/><circle cx="119.4" cy="693.8" r="1.7"/><circle cx="138.7" cy="682" r="1.7"/><circle cx="117.7" cy="655.1" r="1.7"/><circle cx="110.2" cy="679.7" r="1.7"/><circle cx="106.9" cy="675.2" r="1.7"/><circle cx="79.7" cy="683.6" r="1.7"/><circle cx="126.8" cy="676.3" r="1.7"/><circle cx="70.5" cy="678.1" r="1.7"/><circle cx="118.4" cy="636" r="1.7"/><circle cx="117.6" cy="691.9" r="1.7"/><circle cx="126.8" cy="666" r="1.7"/><circle cx="95.7" cy="675.7" r="1.7"/><circle cx="90" cy="664" r="1.7"/><circle cx="113.4" cy="665.2" r="1.7"/><circle cx="105.4" cy="704.4" r="1.7"/><circle cx="134.3" cy="645.9" r="1.7"/><circle cx="93" cy="705.9" r="1.7"/><circle cx="88.1" cy="703.1" r="1.7"/><circle cx="101.1" cy="731.5" r="1.7"/><circle cx="113.3" cy="678.7" r="1.7"/><circle cx="137.9" cy="676" r="1.7"/><circle cx="85.7" cy="651.7" r="1.7"/><circle cx="80.6" cy="699.4" r="1.7"/><circle cx="117.1" cy="694.5" r="1.7"/><circle cx="104.4" cy="705.9" r="1.7"/><circle cx="96" cy="713.2" r="1.7"/><circle cx="106.2" cy="683.4" r="1.7"/><circle cx="62" cy="712.5" r="1.7"/><circle cx="112.8" cy="653.1" r="1.7"/><circle cx="88.5" cy="666.5" r="1.7"/><circle cx="94.4" cy="697.7" r="1.7"/><circle cx="106.9" cy="683.6" r="1.7"/><circle cx="129.9" cy="679.9" r="1.7"/><circle cx="86.6" cy="702.1" r="1.7"/><circle cx="137" cy="655.4" r="1.7"/><circle cx="132.8" cy="625.9" r="1.7"/><circle cx="143.6" cy="683.1" r="1.7"/><circle cx="101.5" cy="661.5" r="1.7"/><circle cx="119.9" cy="680.7" r="1.7"/><circle cx="102.3" cy="699.6" r="1.7"/><circle cx="107.5" cy="661.6" r="1.7"/><circle cx="111.3" cy="663.1" r="1.7"/><circle cx="93.5" cy="688.6" r="1.7"/><circle cx="80.1" cy="687.3" r="1.7"/><circle cx="90.6" cy="732.5" r="1.7"/><circle cx="108.1" cy="710.4" r="1.7"/><circle cx="116" cy="654.8" r="1.7"/><circle cx="99.6" cy="711.9" r="1.7"/><circle cx="85.3" cy="689.3" r="1.7"/><circle cx="96.8" cy="697.1" r="1.7"/><circle cx="159.2" cy="650.5" r="1.7"/><circle cx="95.8" cy="701.7" r="1.7"/><circle cx="95.8" cy="745.7" r="1.7"/><circle cx="132.1" cy="663.7" r="1.7"/><circle cx="105.9" cy="633.4" r="1.7"/><circle cx="97.2" cy="692.1" r="1.7"/><circle cx="109.2" cy="667.6" r="1.7"/><circle cx="129.8" cy="681.9" r="1.7"/><circle cx="103.5" cy="690.8" r="1.7"/><circle cx="137.6" cy="663.1" r="1.7"/><circle cx="156.6" cy="663.1" r="1.7"/><circle cx="119.5" cy="719.9" r="1.7"/><circle cx="105" cy="683.4" r="1.7"/><circle cx="104.2" cy="656.2" r="1.7"/><circle cx="125.3" cy="683.1" r="1.7"/><circle cx="129.4" cy="662.7" r="1.7"/><circle cx="59.8" cy="699.9" r="1.7"/><circle cx="102.8" cy="663.7" r="1.7"/><circle cx="113.9" cy="704.5" r="1.7"/><circle cx="117.4" cy="687.3" r="1.7"/><circle cx="130.7" cy="648.6" r="1.7"/><circle cx="108.3" cy="645.8" r="1.7"/><circle cx="107.8" cy="687.9" r="1.7"/><circle cx="104.4" cy="673.8" r="1.7"/><circle cx="104.4" cy="682.1" r="1.7"/><circle cx="108.2" cy="675.4" r="1.7"/><circle cx="89" cy="663.7" r="1.7"/><circle cx="110.3" cy="692.8" r="1.7"/><circle cx="136.1" cy="663.2" r="1.7"/><circle cx="107" cy="675.8" r="1.7"/><circle cx="67.2" cy="717.7" r="1.7"/><circle cx="92.6" cy="704" r="1.7"/><circle cx="101.6" cy="659.6" r="1.7"/><circle cx="92.1" cy="709.8" r="1.7"/><circle cx="96.4" cy="729.5" r="1.7"/><circle cx="117.2" cy="660.4" r="1.7"/><circle cx="109" cy="694.2" r="1.7"/><circle cx="129.2" cy="711.6" r="1.7"/><circle cx="107.4" cy="642.3" r="1.7"/><circle cx="98.1" cy="671.7" r="1.7"/><circle cx="101.1" cy="680.4" r="1.7"/><circle cx="121" cy="678" r="1.7"/><circle cx="98.1" cy="676.5" r="1.7"/><circle cx="125.9" cy="691.8" r="1.7"/><circle cx="132.9" cy="660.2" r="1.7"/><circle cx="70.3" cy="719.8" r="1.7"/><circle cx="70.4" cy="654.6" r="1.7"/><circle cx="61.8" cy="704.9" r="1.7"/><circle cx="138.1" cy="669.2" r="1.7"/><circle cx="75.5" cy="719" r="1.7"/><circle cx="111.2" cy="668.9" r="1.7"/><circle cx="86.3" cy="712" r="1.7"/><circle cx="100.5" cy="697.9" r="1.7"/><circle cx="122.1" cy="689.5" r="1.7"/><circle cx="112.7" cy="663.5" r="1.7"/><circle cx="98.8" cy="717.3" r="1.7"/><circle cx="119.7" cy="655.5" r="1.7"/><circle cx="134.2" cy="749.5" r="1.7"/><circle cx="105.8" cy="653.4" r="1.7"/><circle cx="137.7" cy="639.3" r="1.7"/><circle cx="99.8" cy="693.9" r="1.7"/><circle cx="29.5" cy="654" r="1.7"/><circle cx="33" cy="718.5" r="1.7"/><circle cx="52" cy="680" r="1.7"/><circle cx="130" cy="616.5" r="1.7"/><circle cx="125.5" cy="619" r="1.7"/><circle cx="187.3" cy="634" r="1.7"/><circle cx="173" cy="631.5" r="1.7"/><circle cx="117" cy="752.5" r="1.7"/><circle cx="119" cy="738.5" r="1.7"/><circle cx="147" cy="729" r="1.7"/><circle cx="127" cy="729.5" r="1.7"/></g>
<line x1="29.5" y1="715.2" x2="187.1" y2="645.8" stroke="#0000ff" stroke-width="1.5"/>
<polygon points="29.8,608.4 31.5,608.5 33.9,608.5 36.6,608.6 39.4,608.6 42,608.6 44.2,608.5 46.4,608.4 48.5,608.2 50.5,608 52.5,607.8 54.4,607.6 56.2,607.4 57.9,607.2 59.6,606.9 61.3,606.6 63.1,606.3 64.8,605.9 66.5,605.5 68.3,605 70,604.5 71.8,603.8 73.5,603.1 75.3,602.3 77.1,601.5 78.8,600.6 80.6,599.7 82.4,598.7 84.3,597.7 86,596.7 87.7,595.6 89.2,594.6 90.6,593.4 92,592.3 93.3,591.2 94.6,590 95.8,588.8 97,587.6 98,586.4 99.1,585.3 99.9,584.4 100.7,583.8 101.4,583.3 101.9,583 102.4,582.7 102.9,582.4 103.4,582.2 103.9,581.9 104.3,581.8 104.7,581.7 105.1,581.6 105.7,581.6 106.2,581.6 106.7,581.7 107.3,581.9 107.8,582 108.3,582.1 108.8,582.3 109.3,582.5 109.8,582.7 110.5,583 111.4,583.4 112.4,584 113.6,584.5 114.7,585.1 115.7,585.5 116.7,585.8 117.6,586.1 118.6,586.2 119.4,586.4 120.1,586.5 120.7,586.6 121.1,586.7 121.5,586.8 121.9,586.8 122.3,586.9 122.8,587 123.3,587.1 123.8,587.2 124.3,587.3 124.8,587.5 125.3,587.8 125.8,588 126.3,588.3 126.8,588.7 127.5,589.2 128.4,589.9 129.4,590.6 130.5,591.4 131.7,592.3 132.9,593.2 134.2,594.3 135.5,595.5 137,596.7 138.4,597.9 139.8,599 141.2,599.9 142.7,600.9 144.1,601.7 145.5,602.5 146.9,603.3 148.3,604 149.7,604.6 151.1,605.2 152.5,605.8 153.8,606.3 155.3,606.7 156.7,607 158.1,607.3 159.5,607.6 160.9,607.8 162.1,608 163.1,608.1 164.2,608.2 165.7,608.3 167.9,608.4 171.2,608.5 175.6,608.5 180.2,608.6 184.3,608.6 187.1,608.6 187.1,608.6 29.5,608.6" fill="#cd7466"/>
<polyline points="29.8,608.4 31.5,608.5 33.9,608.5 36.6,608.6 39.4,608.6 42,608.6 44.2,608.5 46.4,608.4 48.5,608.2 50.5,608 52.5,607.8 54.4,607.6 56.2,607.4 57.9,607.2 59.6,606.9 61.3,606.6 63.1,606.3 64.8,605.9 66.5,605.5 68.3,605 70,604.5 71.8,603.8 73.5,603.1 75.3,602.3 77.1,601.5 78.8,600.6 80.6,599.7 82.4,598.7 84.3,597.7 86,596.7 87.7,595.6 89.2,594.6 90.6,593.4 92,592.3 93.3,591.2 94.6,590 95.8,588.8 97,587.6 98,586.4 99.1,585.3 99.9,584.4 100.7,583.8 101.4,583.3 101.9,583 102.4,582.7 102.9,582.4 103.4,582.2 103.9,581.9 104.3,581.8 104.7,581.7 105.1,581.6 105.7,581.6 106.2,581.6 106.7,581.7 107.3,581.9 107.8,582 108.3,582.1 108.8,582.3 109.3,582.5 109.8,582.7 110.5,583 111.4,583.4 112.4,584 113.6,584.5 114.7,585.1 115.7,585.5 116.7,585.8 117.6,586.1 118.6,586.2 119.4,586.4 120.1,586.5 120.7,586.6 121.1,586.7 121.5,586.8 121.9,586.8 122.3,586.9 122.8,587 123.3,587.1 123.8,587.2 124.3,587.3 124.8,587.5 125.3,587.8 125.8,588 126.3,588.3 126.8,588.7 127.5,589.2 128.4,589.9 129.4,590.6 130.5,591.4 131.7,592.3 132.9,593.2 134.2,594.3 135.5,595.5 137,596.7 138.4,597.9 139.8,599 141.2,599.9 142.7,600.9 144.1,601.7 145.5,602.5 146.9,603.3 148.3,604 149.7,604.6 151.1,605.2 152.5,605.8 153.8,606.3 155.3,606.7 156.7,607 158.1,607.3 159.5,607.6 160.9,607.8 162.1,608 163.1,608.1 164.2,608.2 165.7,608.3 167.9,608.4 171.2,608.5 175.6,608.5 180.2,608.6 184.3,608.6 187.1,608.6" fill="none" stroke="#000" stroke-width="0.7"/>
<polygon points="197.4,617 197.7,617.7 198,618.6 198.4,619.8 198.9,621.1 199.5,622.5 200.2,624.1 200.9,626 201.8,627.9 202.7,629.9 203.6,631.8 204.6,633.7 205.5,635.6 206.6,637.4 207.6,639.3 208.8,641.1 209.9,642.8 211.2,644.5 212.4,646.1 213.7,647.7 214.9,649.3 216.2,651 217.5,652.6 218.8,654.3 220,655.9 221.1,657.6 222.1,659.2 223.1,660.8 223.9,662.5 224.6,664.1 225.3,665.8 225.7,667.6 226,669.6 226.3,671.5 226.5,673.4 226.7,675.1 227,676.7 227.3,678.1 227.6,679.5 227.9,680.9 227.9,682.3 227.9,683.7 227.7,685.2 227.5,686.6 227.1,688 226.7,689.5 226.2,691.1 225.5,692.8 224.8,694.4 224,696.1 223.2,697.8 222.3,699.4 221.3,701.1 220.3,702.8 219.2,704.4 218,706 216.9,707.5 215.7,709 214.5,710.4 213.2,711.8 211.9,713.2 210.4,714.7 208.9,716.2 207.4,717.7 205.9,719.1 204.6,720.5 203.6,721.8 202.7,723 201.9,724.2 201.2,725.4 200.5,726.6 200,727.9 199.5,729 199.1,730.2 198.8,731.5 198.5,732.8 198.2,734.3 197.9,735.8 197.7,737.5 197.6,739.2 197.4,741.1 197.3,743.3 197.2,745.9 197.1,748.6 197.1,750.8 197,752.4 197,752.4 197,617" fill="#4a9fcc"/>
<polyline points="197.4,617 197.7,617.7 198,618.6 198.4,619.8 198.9,621.1 199.5,622.5 200.2,624.1 200.9,626 201.8,627.9 202.7,629.9 203.6,631.8 204.6,633.7 205.5,635.6 206.6,637.4 207.6,639.3 208.8,641.1 209.9,642.8 211.2,644.5 212.4,646.1 213.7,647.7 214.9,649.3 216.2,651 217.5,652.6 218.8,654.3 220,655.9 221.1,657.6 222.1,659.2 223.1,660.8 223.9,662.5 224.6,664.1 225.3,665.8 225.7,667.6 226,669.6 226.3,671.5 226.5,673.4 226.7,675.1 227,676.7 227.3,678.1 227.6,679.5 227.9,680.9 227.9,682.3 227.9,683.7 227.7,685.2 227.5,686.6 227.1,688 226.7,689.5 226.2,691.1 225.5,692.8 224.8,694.4 224,696.1 223.2,697.8 222.3,699.4 221.3,701.1 220.3,702.8 219.2,704.4 218,706 216.9,707.5 215.7,709 214.5,710.4 213.2,711.8 211.9,713.2 210.4,714.7 208.9,716.2 207.4,717.7 205.9,719.1 204.6,720.5 203.6,721.8 202.7,723 201.9,724.2 201.2,725.4 200.5,726.6 200,727.9 199.5,729 199.1,730.2 198.8,731.5 198.5,732.8 198.2,734.3 197.9,735.8 197.7,737.5 197.6,739.2 197.4,741.1 197.3,743.3 197.2,745.9 197.1,748.6 197.1,750.8 197,752.4" fill="none" stroke="#000" stroke-width="0.7"/>
<text x="29.6" y="765.4" font-size="6.6" font-weight="bold" fill="#000" text-anchor="middle">2</text><text x="77.6" y="765.4" font-size="6.6" font-weight="bold" fill="#000" text-anchor="middle">4</text><text x="125.6" y="765.4" font-size="6.6" font-weight="bold" fill="#000" text-anchor="middle">6</text><text x="173.6" y="765.4" font-size="6.6" font-weight="bold" fill="#000" text-anchor="middle">8</text><text x="21.7" y="653.8" font-size="6.6" font-weight="bold" fill="#000" text-anchor="end">0.65</text><text x="21.7" y="696.1" font-size="6.6" font-weight="bold" fill="#000" text-anchor="end">0.60</text><text x="21.7" y="738.4" font-size="6.6" font-weight="bold" fill="#000" text-anchor="end">0.55</text>
<text x="108.6" y="770.5" font-size="5.77" font-weight="bold" fill="#000" text-anchor="middle">Log2 (PRKDC TPM + 1)</text>
<text transform="translate(7.6 684.8) rotate(-90)" font-size="5.8" font-weight="bold" fill="#000" text-anchor="middle">DNA_replication</text>
<text x="21.8" y="571.5" font-size="5.3" fill="#000" textLength="167.9" lengthAdjust="spacingAndGlyphs" stroke="#000" stroke-width="0.04">log<tspan font-size="3.7" dy="1.1">e</tspan><tspan dy="-1.1">(</tspan><tspan font-style="italic">S</tspan>) = 16.41, <tspan font-style="italic">p</tspan> = 9.14e−23, <tspan>ρ̂</tspan><tspan font-size="3.7" dy="1.1">Spearman</tspan><tspan dy="-1.1"> = 0.41, CI</tspan><tspan font-size="3.7" dy="1.1">95%</tspan><tspan dy="-1.1"> [0.34, 0.48], </tspan><tspan font-style="italic">n</tspan><tspan font-size="3.7" dy="1.1">pairs</tspan><tspan dy="-1.1"> = 516</tspan></text>
</g>
<g font-family="Liberation Serif, Times New Roman, serif">
<line x1="255.3" x2="255.3" y1="610.4" y2="758.7" stroke="#ebebeb" stroke-width="0.5"/><line x1="279.4" x2="279.4" y1="610.4" y2="758.7" stroke="#ebebeb" stroke-width="0.5"/><line x1="303.4" x2="303.4" y1="610.4" y2="758.7" stroke="#ebebeb" stroke-width="0.5"/><line x1="327.5" x2="327.5" y1="610.4" y2="758.7" stroke="#ebebeb" stroke-width="0.5"/><line x1="351.5" x2="351.5" y1="610.4" y2="758.7" stroke="#ebebeb" stroke-width="0.5"/><line x1="375.6" x2="375.6" y1="610.4" y2="758.7" stroke="#ebebeb" stroke-width="0.5"/><line x1="399.6" x2="399.6" y1="610.4" y2="758.7" stroke="#ebebeb" stroke-width="0.5"/><line x1="247.8" x2="423.3" y1="615.1" y2="615.1" stroke="#ebebeb" stroke-width="0.5"/><line x1="247.8" x2="423.3" y1="641.3" y2="641.3" stroke="#ebebeb" stroke-width="0.5"/><line x1="247.8" x2="423.3" y1="667.5" y2="667.5" stroke="#ebebeb" stroke-width="0.5"/><line x1="247.8" x2="423.3" y1="693.7" y2="693.7" stroke="#ebebeb" stroke-width="0.5"/><line x1="247.8" x2="423.3" y1="719.9" y2="719.9" stroke="#ebebeb" stroke-width="0.5"/><line x1="247.8" x2="423.3" y1="746.1" y2="746.1" stroke="#ebebeb" stroke-width="0.5"/>
<polygon points="255.3,621.4 261.9,624.9 268.6,628.4 275.2,631.9 281.9,635.4 288.5,638.9 295.2,642.3 301.8,645.8 308.5,649.3 315.1,652.7 321.8,656 328.4,659.3 335.1,662.5 341.7,665.5 348.3,668.2 355,670.9 361.6,673.4 368.3,675.9 374.9,678.3 381.6,680.7 388.2,683.1 394.9,685.5 401.5,687.9 408.2,690.3 414.8,692.6 414.8,706.2 408.2,702.7 401.5,699.2 394.9,695.7 388.2,692.2 381.6,688.7 374.9,685.3 368.3,681.8 361.6,678.4 355,675.1 348.3,671.8 341.7,668.7 335.1,665.8 328.4,663.1 321.8,660.5 315.1,658 308.5,655.5 301.8,653.1 295.2,650.7 288.5,648.3 281.9,645.9 275.2,643.5 268.6,641.2 261.9,638.8 255.3,636.4" fill="#999999" fill-opacity="0.45"/>
<g fill="#000" fill-opacity="0.42"><circle cx="359.2" cy="699.1" r="1.7"/><circle cx="340.8" cy="651.8" r="1.7"/><circle cx="325.5" cy="660.3" r="1.7"/><circle cx="319.4" cy="668.7" r="1.7"/><circle cx="332.2" cy="670.6" r="1.7"/><circle cx="313" cy="647.6" r="1.7"/><circle cx="346.7" cy="645.2" r="1.7"/><circle cx="333.5" cy="694.2" r="1.7"/><circle cx="339.4" cy="687.9" r="1.7"/><circle cx="330.1" cy="634" r="1.7"/><circle cx="331.8" cy="687.8" r="1.7"/><circle cx="312.5" cy="665.8" r="1.7"/><circle cx="333.9" cy="663.4" r="1.7"/><circle cx="341" cy="672.7" r="1.7"/><circle cx="317.4" cy="658.1" r="1.7"/><circle cx="337.5" cy="688.3" r="1.7"/><circle cx="328" cy="662" r="1.7"/><circle cx="347.5" cy="671.5" r="1.7"/><circle cx="330" cy="671.1" r="1.7"/><circle cx="356.4" cy="648.6" r="1.7"/><circle cx="335.6" cy="656.2" r="1.7"/><circle cx="337.3" cy="656.8" r="1.7"/><circle cx="330.8" cy="648.3" r="1.7"/><circle cx="388.1" cy="712.4" r="1.7"/><circle cx="337.2" cy="667.2" r="1.7"/><circle cx="339.5" cy="650.7" r="1.7"/><circle cx="299" cy="640.8" r="1.7"/><circle cx="348.8" cy="677.6" r="1.7"/><circle cx="332.7" cy="660.5" r="1.7"/><circle cx="333.4" cy="658.1" r="1.7"/><circle cx="325.7" cy="680.3" r="1.7"/><circle cx="362" cy="675.4" r="1.7"/><circle cx="345.8" cy="702" r="1.7"/><circle cx="334.3" cy="655.6" r="1.7"/><circle cx="326.1" cy="666.2" r="1.7"/><circle cx="337.8" cy="663.3" r="1.7"/><circle cx="339.6" cy="668.5" r="1.7"/><circle cx="350.3" cy="683.9" r="1.7"/><circle cx="355.8" cy="697.7" r="1.7"/><circle cx="355.5" cy="715.3" r="1.7"/><circle cx="307.7" cy="648" r="1.7"/><circle cx="344.3" cy="654.8" r="1.7"/><circle cx="327.2" cy="642.9" r="1.7"/><circle cx="337.7" cy="687.3" r="1.7"/><circle cx="370" cy="687.2" r="1.7"/><circle cx="360.4" cy="698.8" r="1.7"/><circle cx="326.4" cy="678.8" r="1.7"/><circle cx="337.1" cy="660.3" r="1.7"/><circle cx="309.4" cy="657" r="1.7"/><circle cx="344.2" cy="687.7" r="1.7"/><circle cx="314.6" cy="665" r="1.7"/><circle cx="351.7" cy="664.8" r="1.7"/><circle cx="307.7" cy="659.6" r="1.7"/><circle cx="328.3" cy="650.1" r="1.7"/><circle cx="346.4" cy="661.5" r="1.7"/><circle cx="337" cy="686.2" r="1.7"/><circle cx="344.9" cy="665.8" r="1.7"/><circle cx="341.9" cy="637.9" r="1.7"/><circle cx="348.7" cy="664.2" r="1.7"/><circle cx="332.4" cy="658.6" r="1.7"/><circle cx="331.5" cy="689.7" r="1.7"/><circle cx="355.6" cy="656.8" r="1.7"/><circle cx="348.3" cy="680.9" r="1.7"/><circle cx="310.6" cy="655.4" r="1.7"/><circle cx="356.9" cy="730.9" r="1.7"/><circle cx="333.6" cy="672.1" r="1.7"/><circle cx="330.4" cy="670.6" r="1.7"/><circle cx="363.5" cy="669.1" r="1.7"/><circle cx="338.9" cy="682" r="1.7"/><circle cx="323.9" cy="705.7" r="1.7"/><circle cx="296.8" cy="643.9" r="1.7"/><circle cx="320.9" cy="652.5" r="1.7"/><circle cx="341.3" cy="661.2" r="1.7"/><circle cx="317.6" cy="630.1" r="1.7"/><circle cx="356.5" cy="678.8" r="1.7"/><circle cx="352.2" cy="654.3" r="1.7"/><circle cx="318" cy="655.6" r="1.7"/><circle cx="351.7" cy="670.8" r="1.7"/><circle cx="328.5" cy="649.7" r="1.7"/><circle cx="335.1" cy="658.6" r="1.7"/><circle cx="321.5" cy="638.9" r="1.7"/><circle cx="363.3" cy="671.6" r="1.7"/><circle cx="351.2" cy="648.6" r="1.7"/><circle cx="346.2" cy="678" r="1.7"/><circle cx="294.3" cy="658" r="1.7"/><circle cx="345.3" cy="653.9" r="1.7"/><circle cx="310.2" cy="615.8" r="1.7"/><circle cx="356.1" cy="657.6" r="1.7"/><circle cx="312.4" cy="659.7" r="1.7"/><circle cx="340" cy="652.4" r="1.7"/><circle cx="318.5" cy="646.2" r="1.7"/><circle cx="353.2" cy="665.2" r="1.7"/><circle cx="298.8" cy="667.4" r="1.7"/><circle cx="353.6" cy="667.4" r="1.7"/><circle cx="347" cy="656.1" r="1.7"/><circle cx="336.1" cy="655.3" r="1.7"/><circle cx="309.4" cy="658.1" r="1.7"/><circle cx="366.6" cy="670.7" r="1.7"/><circle cx="308.8" cy="641.1" r="1.7"/><circle cx="335" cy="659.3" r="1.7"/><circle cx="354.2" cy="668.1" r="1.7"/><circle cx="309" cy="670.8" r="1.7"/><circle cx="323.5" cy="668.9" r="1.7"/><circle cx="361.3" cy="674.1" r="1.7"/><circle cx="335.4" cy="674.4" r="1.7"/><circle cx="319.7" cy="658.5" r="1.7"/><circle cx="324" cy="668" r="1.7"/><circle cx="351.4" cy="697.1" r="1.7"/><circle cx="370.1" cy="685.1" r="1.7"/><circle cx="351.4" cy="668.9" r="1.7"/><circle cx="327.7" cy="671.3" r="1.7"/><circle cx="353.3" cy="671.4" r="1.7"/><circle cx="336" cy="672.3" r="1.7"/><circle cx="326.5" cy="653.9" r="1.7"/><circle cx="341.9" cy="673.6" r="1.7"/><circle cx="322" cy="667.1" r="1.7"/><circle cx="331" cy="656.1" r="1.7"/><circle cx="284.5" cy="621.6" r="1.7"/><circle cx="329.6" cy="635.7" r="1.7"/><circle cx="320.2" cy="656.4" r="1.7"/><circle cx="332.1" cy="642.1" r="1.7"/><circle cx="312.1" cy="647" r="1.7"/><circle cx="309" cy="657.4" r="1.7"/><circle cx="350.5" cy="681.3" r="1.7"/><circle cx="319.2" cy="663.7" r="1.7"/><circle cx="291.2" cy="655.4" r="1.7"/><circle cx="363.5" cy="690.5" r="1.7"/><circle cx="365" cy="687.1" r="1.7"/><circle cx="340.8" cy="669.2" r="1.7"/><circle cx="327.3" cy="652.6" r="1.7"/><circle cx="390.1" cy="692.3" r="1.7"/><circle cx="316.3" cy="652.7" r="1.7"/><circle cx="383.7" cy="680.7" r="1.7"/><circle cx="313.8" cy="634.8" r="1.7"/><circle cx="329.3" cy="666.8" r="1.7"/><circle cx="338.1" cy="681.7" r="1.7"/><circle cx="327.9" cy="652" r="1.7"/><circle cx="354.3" cy="683.1" r="1.7"/><circle cx="370.5" cy="673" r="1.7"/><circle cx="338.5" cy="647.5" r="1.7"/><circle cx="336.5" cy="674" r="1.7"/><circle cx="353.9" cy="672.2" r="1.7"/><circle cx="353.6" cy="685.2" r="1.7"/><circle cx="313.3" cy="657.8" r="1.7"/><circle cx="323.6" cy="655.5" r="1.7"/><circle cx="343.3" cy="659.2" r="1.7"/><circle cx="330.6" cy="648.9" r="1.7"/><circle cx="305.5" cy="668.7" r="1.7"/><circle cx="330.4" cy="665.6" r="1.7"/><circle cx="307.3" cy="670.2" r="1.7"/><circle cx="301.6" cy="668.2" r="1.7"/><circle cx="326.3" cy="653.3" r="1.7"/><circle cx="350.9" cy="648.7" r="1.7"/><circle cx="369.1" cy="645.5" r="1.7"/><circle cx="341.1" cy="672.6" r="1.7"/><circle cx="378.9" cy="682.6" r="1.7"/><circle cx="320.3" cy="650" r="1.7"/><circle cx="301.3" cy="640.9" r="1.7"/><circle cx="330.9" cy="677.3" r="1.7"/><circle cx="352.6" cy="653.5" r="1.7"/><circle cx="351.4" cy="722.2" r="1.7"/><circle cx="358.7" cy="657.5" r="1.7"/><circle cx="338.4" cy="668.8" r="1.7"/><circle cx="337.9" cy="683.4" r="1.7"/><circle cx="354.9" cy="692.3" r="1.7"/><circle cx="314.3" cy="649.3" r="1.7"/><circle cx="348.8" cy="676.9" r="1.7"/><circle cx="306.1" cy="665.6" r="1.7"/><circle cx="291.4" cy="641.9" r="1.7"/><circle cx="338.9" cy="629" r="1.7"/><circle cx="309.9" cy="687.4" r="1.7"/><circle cx="318.2" cy="648.4" r="1.7"/><circle cx="328.4" cy="664.3" r="1.7"/><circle cx="312.9" cy="646.9" r="1.7"/><circle cx="339.7" cy="643.5" r="1.7"/><circle cx="332.2" cy="656.6" r="1.7"/><circle cx="325.9" cy="648.4" r="1.7"/><circle cx="331.6" cy="664" r="1.7"/><circle cx="333" cy="661.2" r="1.7"/><circle cx="360.6" cy="715.4" r="1.7"/><circle cx="333.4" cy="692.8" r="1.7"/><circle cx="342.7" cy="654.4" r="1.7"/><circle cx="304" cy="640.4" r="1.7"/><circle cx="365.3" cy="684.7" r="1.7"/><circle cx="351.1" cy="654.8" r="1.7"/><circle cx="374.3" cy="714.3" r="1.7"/><circle cx="323.9" cy="655.7" r="1.7"/><circle cx="372.2" cy="680.4" r="1.7"/><circle cx="315.4" cy="643.2" r="1.7"/><circle cx="348.3" cy="676.4" r="1.7"/><circle cx="306.5" cy="670.9" r="1.7"/><circle cx="342.1" cy="659.5" r="1.7"/><circle cx="304.8" cy="646.2" r="1.7"/><circle cx="329.9" cy="629.3" r="1.7"/><circle cx="324.3" cy="661.6" r="1.7"/><circle cx="296.3" cy="641.4" r="1.7"/><circle cx="349.6" cy="688.7" r="1.7"/><circle cx="334.1" cy="675.9" r="1.7"/><circle cx="358.6" cy="684.2" r="1.7"/><circle cx="338" cy="651.4" r="1.7"/><circle cx="357.4" cy="709.4" r="1.7"/><circle cx="327.7" cy="661.6" r="1.7"/><circle cx="327.7" cy="645.8" r="1.7"/><circle cx="324.4" cy="631.2" r="1.7"/><circle cx="332.8" cy="647.3" r="1.7"/><circle cx="361.2" cy="660.4" r="1.7"/><circle cx="335.5" cy="668.9" r="1.7"/><circle cx="329.2" cy="659.8" r="1.7"/><circle cx="346.5" cy="664.8" r="1.7"/><circle cx="317.4" cy="670.5" r="1.7"/><circle cx="368.4" cy="685.8" r="1.7"/><circle cx="335.1" cy="641.1" r="1.7"/><circle cx="355.2" cy="681.7" r="1.7"/><circle cx="306.7" cy="637" r="1.7"/><circle cx="311.7" cy="662.8" r="1.7"/><circle cx="336.9" cy="644.3" r="1.7"/><circle cx="333.2" cy="691" r="1.7"/><circle cx="331.3" cy="684.4" r="1.7"/><circle cx="334.7" cy="679.4" r="1.7"/><circle cx="335.9" cy="668.7" r="1.7"/><circle cx="327.6" cy="670.9" r="1.7"/><circle cx="338.4" cy="660.1" r="1.7"/><circle cx="351.3" cy="676.8" r="1.7"/><circle cx="358.8" cy="687.1" r="1.7"/><circle cx="353.8" cy="686.6" r="1.7"/><circle cx="297" cy="633.4" r="1.7"/><circle cx="337.8" cy="674.9" r="1.7"/><circle cx="345.8" cy="683.6" r="1.7"/><circle cx="330.5" cy="662.4" r="1.7"/><circle cx="307.4" cy="632.2" r="1.7"/><circle cx="345.7" cy="684.4" r="1.7"/><circle cx="341.2" cy="689.6" r="1.7"/><circle cx="349.7" cy="666.3" r="1.7"/><circle cx="330.1" cy="645.6" r="1.7"/><circle cx="285.5" cy="651.4" r="1.7"/><circle cx="326.1" cy="682.8" r="1.7"/><circle cx="331.8" cy="649.4" r="1.7"/><circle cx="343.4" cy="688" r="1.7"/><circle cx="334.1" cy="628.1" r="1.7"/><circle cx="334.2" cy="686.8" r="1.7"/><circle cx="293.8" cy="633.8" r="1.7"/><circle cx="370.9" cy="683.2" r="1.7"/><circle cx="346.8" cy="649.4" r="1.7"/><circle cx="334.6" cy="662.6" r="1.7"/><circle cx="324.2" cy="645.4" r="1.7"/><circle cx="332.7" cy="668" r="1.7"/><circle cx="332.6" cy="668.8" r="1.7"/><circle cx="339.1" cy="676.8" r="1.7"/><circle cx="345.1" cy="687" r="1.7"/><circle cx="325.5" cy="655.4" r="1.7"/><circle cx="323.6" cy="662.5" r="1.7"/><circle cx="344.5" cy="667.5" r="1.7"/><circle cx="298.7" cy="627.8" r="1.7"/><circle cx="360.1" cy="672" r="1.7"/><circle cx="331.7" cy="661.1" r="1.7"/><circle cx="355.4" cy="685.4" r="1.7"/><circle cx="349.9" cy="668.2" r="1.7"/><circle cx="350.6" cy="664" r="1.7"/><circle cx="305" cy="665.6" r="1.7"/><circle cx="371.5" cy="706.7" r="1.7"/><circle cx="344.5" cy="684.1" r="1.7"/><circle cx="346.3" cy="668" r="1.7"/><circle cx="329.5" cy="671.9" r="1.7"/><circle cx="317.7" cy="655" r="1.7"/><circle cx="300.7" cy="678.9" r="1.7"/><circle cx="338.9" cy="659.2" r="1.7"/><circle cx="385.6" cy="723.5" r="1.7"/><circle cx="337.1" cy="702.6" r="1.7"/><circle cx="344.4" cy="665.4" r="1.7"/><circle cx="340.5" cy="656.6" r="1.7"/><circle cx="367.2" cy="695.4" r="1.7"/><circle cx="340.8" cy="655" r="1.7"/><circle cx="335.7" cy="647.8" r="1.7"/><circle cx="332" cy="644.3" r="1.7"/><circle cx="315" cy="647.8" r="1.7"/><circle cx="317.1" cy="659.8" r="1.7"/><circle cx="356" cy="739.2" r="1.7"/><circle cx="318.7" cy="669.2" r="1.7"/><circle cx="323.4" cy="665.7" r="1.7"/><circle cx="320.9" cy="655.1" r="1.7"/><circle cx="353.8" cy="752" r="1.7"/><circle cx="334.7" cy="667.9" r="1.7"/><circle cx="294.4" cy="645.1" r="1.7"/><circle cx="325.2" cy="656" r="1.7"/><circle cx="314.1" cy="668.7" r="1.7"/><circle cx="341.6" cy="661.6" r="1.7"/><circle cx="332.6" cy="645" r="1.7"/><circle cx="324.7" cy="655.3" r="1.7"/><circle cx="317" cy="669.2" r="1.7"/><circle cx="332.7" cy="644.2" r="1.7"/><circle cx="359.3" cy="681.3" r="1.7"/><circle cx="334" cy="655.7" r="1.7"/><circle cx="351.7" cy="701.5" r="1.7"/><circle cx="342.1" cy="664.4" r="1.7"/><circle cx="351.2" cy="668" r="1.7"/><circle cx="334.2" cy="666.1" r="1.7"/><circle cx="348.6" cy="664.4" r="1.7"/><circle cx="351.1" cy="688.1" r="1.7"/><circle cx="319" cy="655.5" r="1.7"/><circle cx="327" cy="658.3" r="1.7"/><circle cx="336.7" cy="686.9" r="1.7"/><circle cx="294.2" cy="639.1" r="1.7"/><circle cx="334.2" cy="656.8" r="1.7"/><circle cx="333.9" cy="646.4" r="1.7"/><circle cx="345.2" cy="652.8" r="1.7"/><circle cx="317.3" cy="674.8" r="1.7"/><circle cx="354.4" cy="663.8" r="1.7"/><circle cx="335.3" cy="669.6" r="1.7"/><circle cx="326.8" cy="656" r="1.7"/><circle cx="326.9" cy="672.4" r="1.7"/><circle cx="339.7" cy="713.6" r="1.7"/><circle cx="369" cy="671" r="1.7"/><circle cx="338.7" cy="661.8" r="1.7"/><circle cx="349.8" cy="650.4" r="1.7"/><circle cx="350.2" cy="644.4" r="1.7"/><circle cx="374.3" cy="691.6" r="1.7"/><circle cx="330.2" cy="689.1" r="1.7"/><circle cx="366.3" cy="678.5" r="1.7"/><circle cx="341" cy="655.5" r="1.7"/><circle cx="365" cy="679" r="1.7"/><circle cx="363.9" cy="663" r="1.7"/><circle cx="323.4" cy="654" r="1.7"/><circle cx="312.2" cy="673.8" r="1.7"/><circle cx="322.5" cy="671.2" r="1.7"/><circle cx="351.3" cy="659.7" r="1.7"/><circle cx="339.5" cy="696" r="1.7"/><circle cx="352.2" cy="665.5" r="1.7"/><circle cx="343" cy="680.4" r="1.7"/><circle cx="303.9" cy="661.6" r="1.7"/><circle cx="300.1" cy="621" r="1.7"/><circle cx="362.8" cy="643.3" r="1.7"/><circle cx="359.8" cy="692.2" r="1.7"/><circle cx="349.7" cy="685.1" r="1.7"/><circle cx="369.9" cy="669.2" r="1.7"/><circle cx="308.4" cy="655.8" r="1.7"/><circle cx="338.7" cy="676.4" r="1.7"/><circle cx="321.6" cy="685.4" r="1.7"/><circle cx="346.8" cy="653.6" r="1.7"/><circle cx="338.2" cy="670.1" r="1.7"/><circle cx="314.9" cy="635.8" r="1.7"/><circle cx="335" cy="655.8" r="1.7"/><circle cx="331.9" cy="640.2" r="1.7"/><circle cx="345.1" cy="678.5" r="1.7"/><circle cx="334.2" cy="670.8" r="1.7"/><circle cx="354.3" cy="695.5" r="1.7"/><circle cx="382" cy="672.7" r="1.7"/><circle cx="310" cy="646.8" r="1.7"/><circle cx="355.8" cy="671.5" r="1.7"/><circle cx="330" cy="649.9" r="1.7"/><circle cx="364.8" cy="664.8" r="1.7"/><circle cx="342.7" cy="678.8" r="1.7"/><circle cx="332" cy="680.7" r="1.7"/><circle cx="327" cy="650.7" r="1.7"/><circle cx="334.5" cy="664.2" r="1.7"/><circle cx="339" cy="672.8" r="1.7"/><circle cx="345.2" cy="660.1" r="1.7"/><circle cx="357.1" cy="706" r="1.7"/><circle cx="339.4" cy="640" r="1.7"/><circle cx="361.6" cy="716.6" r="1.7"/><circle cx="338.9" cy="672.3" r="1.7"/><circle cx="355.2" cy="710.7" r="1.7"/><circle cx="338.4" cy="658.3" r="1.7"/><circle cx="337" cy="672.5" r="1.7"/><circle cx="354.3" cy="657.7" r="1.7"/><circle cx="331" cy="688.3" r="1.7"/><circle cx="317.5" cy="658.7" r="1.7"/><circle cx="333.7" cy="647" r="1.7"/><circle cx="340.5" cy="672.6" r="1.7"/><circle cx="310.1" cy="639.2" r="1.7"/><circle cx="346" cy="678.2" r="1.7"/><circle cx="316.3" cy="662.3" r="1.7"/><circle cx="316.7" cy="671.6" r="1.7"/><circle cx="338.6" cy="635.6" r="1.7"/><circle cx="378.8" cy="666.3" r="1.7"/><circle cx="333.6" cy="684.1" r="1.7"/><circle cx="354.6" cy="689.2" r="1.7"/><circle cx="324.6" cy="697.3" r="1.7"/><circle cx="324.5" cy="650.9" r="1.7"/><circle cx="367.7" cy="658" r="1.7"/><circle cx="318" cy="668" r="1.7"/><circle cx="328.9" cy="651.9" r="1.7"/><circle cx="336.6" cy="663.2" r="1.7"/><circle cx="359.2" cy="696.6" r="1.7"/><circle cx="343.2" cy="689.1" r="1.7"/><circle cx="338.9" cy="657.2" r="1.7"/><circle cx="326.2" cy="670.1" r="1.7"/><circle cx="342.7" cy="688.9" r="1.7"/><circle cx="350.4" cy="664.4" r="1.7"/><circle cx="365.7" cy="689.4" r="1.7"/><circle cx="322.2" cy="642.6" r="1.7"/><circle cx="308.3" cy="656.8" r="1.7"/><circle cx="319.2" cy="664.5" r="1.7"/><circle cx="315.2" cy="660.6" r="1.7"/><circle cx="335.5" cy="660" r="1.7"/><circle cx="337.1" cy="651.1" r="1.7"/><circle cx="368.7" cy="693.9" r="1.7"/><circle cx="353.6" cy="710" r="1.7"/><circle cx="354" cy="666.7" r="1.7"/><circle cx="322.9" cy="649.8" r="1.7"/><circle cx="306.1" cy="673.7" r="1.7"/><circle cx="298.2" cy="653.4" r="1.7"/><circle cx="340.5" cy="651" r="1.7"/><circle cx="317.2" cy="634.7" r="1.7"/><circle cx="372.4" cy="712.5" r="1.7"/><circle cx="314.4" cy="659.6" r="1.7"/><circle cx="337.1" cy="676.5" r="1.7"/><circle cx="362.5" cy="711.5" r="1.7"/><circle cx="362.3" cy="718.1" r="1.7"/><circle cx="351.6" cy="681.3" r="1.7"/><circle cx="346.3" cy="666.2" r="1.7"/><circle cx="311.7" cy="651.3" r="1.7"/><circle cx="331.4" cy="651.5" r="1.7"/><circle cx="310.5" cy="640.1" r="1.7"/><circle cx="342.7" cy="656.9" r="1.7"/><circle cx="362.2" cy="684.2" r="1.7"/><circle cx="342" cy="657.7" r="1.7"/><circle cx="332" cy="668.7" r="1.7"/><circle cx="335.4" cy="690.8" r="1.7"/><circle cx="340.1" cy="662.7" r="1.7"/><circle cx="355.3" cy="715.6" r="1.7"/><circle cx="321.4" cy="666" r="1.7"/><circle cx="329.4" cy="652.3" r="1.7"/><circle cx="353.8" cy="679.7" r="1.7"/><circle cx="333.4" cy="670.4" r="1.7"/><circle cx="339.1" cy="652.1" r="1.7"/><circle cx="317.2" cy="643.4" r="1.7"/><circle cx="305.1" cy="656.5" r="1.7"/><circle cx="323.6" cy="672" r="1.7"/><circle cx="336.1" cy="650.9" r="1.7"/><circle cx="366.3" cy="679.6" r="1.7"/><circle cx="340.1" cy="667.9" r="1.7"/><circle cx="334.9" cy="669.8" r="1.7"/><circle cx="372.9" cy="688" r="1.7"/><circle cx="374.4" cy="710.4" r="1.7"/><circle cx="337.9" cy="665.2" r="1.7"/><circle cx="358.8" cy="688.7" r="1.7"/><circle cx="359.2" cy="686.8" r="1.7"/><circle cx="353.6" cy="669.7" r="1.7"/><circle cx="354.2" cy="681.6" r="1.7"/><circle cx="329.2" cy="665.2" r="1.7"/><circle cx="335.2" cy="657.1" r="1.7"/><circle cx="353.2" cy="656.9" r="1.7"/><circle cx="373.5" cy="692.1" r="1.7"/><circle cx="335.7" cy="666.1" r="1.7"/><circle cx="337.4" cy="658.9" r="1.7"/><circle cx="299.5" cy="646.5" r="1.7"/><circle cx="322.7" cy="646.7" r="1.7"/><circle cx="379.4" cy="695.8" r="1.7"/><circle cx="331.8" cy="668.4" r="1.7"/><circle cx="337.9" cy="651.5" r="1.7"/><circle cx="358.1" cy="671.8" r="1.7"/><circle cx="321.5" cy="627" r="1.7"/><circle cx="310.8" cy="673.2" r="1.7"/><circle cx="358.6" cy="665.6" r="1.7"/><circle cx="332.8" cy="668.6" r="1.7"/><circle cx="326.1" cy="676.3" r="1.7"/><circle cx="336.6" cy="696.3" r="1.7"/><circle cx="337.1" cy="664.5" r="1.7"/><circle cx="330.2" cy="659" r="1.7"/><circle cx="360" cy="677.9" r="1.7"/><circle cx="327.3" cy="675" r="1.7"/><circle cx="356.3" cy="677.4" r="1.7"/><circle cx="338.1" cy="686.5" r="1.7"/><circle cx="333.5" cy="659.5" r="1.7"/><circle cx="305.7" cy="635.6" r="1.7"/><circle cx="351.2" cy="667.4" r="1.7"/><circle cx="320" cy="654.5" r="1.7"/><circle cx="322.2" cy="646.2" r="1.7"/><circle cx="342" cy="662.8" r="1.7"/><circle cx="361.1" cy="680.6" r="1.7"/><circle cx="345.3" cy="679.8" r="1.7"/><circle cx="340.2" cy="685.6" r="1.7"/><circle cx="334.6" cy="659.6" r="1.7"/><circle cx="360.9" cy="688.9" r="1.7"/><circle cx="327.6" cy="653.2" r="1.7"/><circle cx="311.4" cy="656.3" r="1.7"/><circle cx="373.1" cy="723.2" r="1.7"/><circle cx="333.2" cy="681.7" r="1.7"/><circle cx="314.9" cy="640.5" r="1.7"/><circle cx="356.5" cy="720.8" r="1.7"/><circle cx="281.8" cy="650" r="1.7"/><circle cx="336.1" cy="662.2" r="1.7"/><circle cx="356.5" cy="670.9" r="1.7"/><circle cx="352.1" cy="692.5" r="1.7"/><circle cx="272.4" cy="626.1" r="1.7"/><circle cx="317.4" cy="635.5" r="1.7"/><circle cx="371.7" cy="712.8" r="1.7"/><circle cx="362.3" cy="756.7" r="1.7"/><circle cx="386.9" cy="696.3" r="1.7"/><circle cx="329.5" cy="647.1" r="1.7"/><circle cx="352.4" cy="665.7" r="1.7"/><circle cx="347.8" cy="677.9" r="1.7"/><circle cx="299.3" cy="660.1" r="1.7"/><circle cx="297.3" cy="668.2" r="1.7"/><circle cx="367.4" cy="700.8" r="1.7"/><circle cx="290.9" cy="612.4" r="1.7"/><circle cx="302.2" cy="651" r="1.7"/><circle cx="315.8" cy="679" r="1.7"/><circle cx="301.6" cy="640" r="1.7"/><circle cx="356.6" cy="704.7" r="1.7"/><circle cx="298.7" cy="617" r="1.7"/><circle cx="325.5" cy="649.7" r="1.7"/><circle cx="360.6" cy="659.1" r="1.7"/><circle cx="332.4" cy="675" r="1.7"/><circle cx="255.5" cy="678" r="1.7"/><circle cx="259" cy="662" r="1.7"/><circle cx="284.5" cy="617" r="1.7"/><circle cx="318" cy="616.5" r="1.7"/><circle cx="373" cy="752" r="1.7"/><circle cx="370" cy="746.5" r="1.7"/><circle cx="387" cy="746" r="1.7"/><circle cx="389" cy="738" r="1.7"/><circle cx="401.5" cy="682" r="1.7"/><circle cx="336.5" cy="720" r="1.7"/><circle cx="346.5" cy="730" r="1.7"/><circle cx="376" cy="731.5" r="1.7"/></g>
<line x1="255.3" y1="628.9" x2="414.8" y2="699.4" stroke="#0000ff" stroke-width="1.5"/>
<polygon points="255.6,608.4 257.3,608.5 259.7,608.5 262.5,608.6 265.3,608.6 267.9,608.6 270.2,608.5 272.4,608.4 274.5,608.2 276.6,608 278.6,607.8 280.5,607.6 282.3,607.4 284,607.2 285.8,606.9 287.5,606.6 289.3,606.3 291,605.9 292.8,605.5 294.5,605 296.3,604.5 298.1,603.8 299.9,603.1 301.6,602.3 303.4,601.5 305.2,600.6 307,599.7 308.9,598.7 310.7,597.7 312.5,596.7 314.2,595.6 315.7,594.6 317.2,593.4 318.6,592.3 319.9,591.2 321.2,590 322.4,588.8 323.6,587.6 324.7,586.4 325.7,585.3 326.6,584.4 327.4,583.8 328,583.3 328.6,583 329.1,582.7 329.6,582.4 330.1,582.2 330.6,581.9 331,581.8 331.4,581.7 331.9,581.6 332.4,581.6 332.9,581.6 333.5,581.7 334,581.9 334.6,582 335.1,582.1 335.5,582.3 336,582.5 336.6,582.7 337.3,583 338.2,583.4 339.2,584 340.4,584.5 341.5,585.1 342.5,585.5 343.5,585.8 344.5,586.1 345.4,586.2 346.3,586.4 347,586.5 347.6,586.6 348.1,586.7 348.4,586.8 348.8,586.8 349.2,586.9 349.7,587 350.2,587.1 350.7,587.2 351.3,587.3 351.8,587.5 352.3,587.8 352.7,588 353.2,588.3 353.8,588.7 354.5,589.2 355.4,589.9 356.4,590.6 357.5,591.4 358.7,592.3 359.9,593.2 361.2,594.3 362.6,595.5 364.1,596.7 365.5,597.9 366.9,599 368.4,599.9 369.8,600.9 371.3,601.7 372.7,602.5 374.1,603.3 375.5,604 376.9,604.6 378.3,605.2 379.7,605.8 381.1,606.3 382.6,606.7 384,607 385.5,607.3 386.9,607.6 388.3,607.8 389.5,608 390.5,608.1 391.6,608.2 393.1,608.3 395.3,608.4 398.7,608.5 403.2,608.5 407.8,608.6 412,608.6 414.8,608.6 414.8,608.6 255.3,608.6" fill="#cd7466"/>
<polyline points="255.6,608.4 257.3,608.5 259.7,608.5 262.5,608.6 265.3,608.6 267.9,608.6 270.2,608.5 272.4,608.4 274.5,608.2 276.6,608 278.6,607.8 280.5,607.6 282.3,607.4 284,607.2 285.8,606.9 287.5,606.6 289.3,606.3 291,605.9 292.8,605.5 294.5,605 296.3,604.5 298.1,603.8 299.9,603.1 301.6,602.3 303.4,601.5 305.2,600.6 307,599.7 308.9,598.7 310.7,597.7 312.5,596.7 314.2,595.6 315.7,594.6 317.2,593.4 318.6,592.3 319.9,591.2 321.2,590 322.4,588.8 323.6,587.6 324.7,586.4 325.7,585.3 326.6,584.4 327.4,583.8 328,583.3 328.6,583 329.1,582.7 329.6,582.4 330.1,582.2 330.6,581.9 331,581.8 331.4,581.7 331.9,581.6 332.4,581.6 332.9,581.6 333.5,581.7 334,581.9 334.6,582 335.1,582.1 335.5,582.3 336,582.5 336.6,582.7 337.3,583 338.2,583.4 339.2,584 340.4,584.5 341.5,585.1 342.5,585.5 343.5,585.8 344.5,586.1 345.4,586.2 346.3,586.4 347,586.5 347.6,586.6 348.1,586.7 348.4,586.8 348.8,586.8 349.2,586.9 349.7,587 350.2,587.1 350.7,587.2 351.3,587.3 351.8,587.5 352.3,587.8 352.7,588 353.2,588.3 353.8,588.7 354.5,589.2 355.4,589.9 356.4,590.6 357.5,591.4 358.7,592.3 359.9,593.2 361.2,594.3 362.6,595.5 364.1,596.7 365.5,597.9 366.9,599 368.4,599.9 369.8,600.9 371.3,601.7 372.7,602.5 374.1,603.3 375.5,604 376.9,604.6 378.3,605.2 379.7,605.8 381.1,606.3 382.6,606.7 384,607 385.5,607.3 386.9,607.6 388.3,607.8 389.5,608 390.5,608.1 391.6,608.2 393.1,608.3 395.3,608.4 398.7,608.5 403.2,608.5 407.8,608.6 412,608.6 414.8,608.6" fill="none" stroke="#000" stroke-width="0.7"/>
<polygon points="424.9,617 425.1,617.8 425.3,619.1 425.6,620.6 425.9,622.1 426.4,623.6 427,625 427.7,626.4 428.5,627.9 429.4,629.3 430.5,630.8 431.7,632.2 433.1,633.7 434.6,635.2 436.2,636.6 437.7,638 439.3,639.3 441.1,640.5 442.8,641.8 444.4,643 446,644.2 447.4,645.4 448.8,646.6 450,647.9 451.2,649.1 452.2,650.4 453,651.6 453.7,652.9 454.3,654.2 454.8,655.4 455.3,656.5 455.6,657.5 455.8,658.2 455.9,659 455.9,659.7 455.9,660.7 455.8,661.8 455.7,662.9 455.5,664.2 455.1,665.5 454.6,666.9 454,668.2 453.1,669.7 452.1,671.1 451.1,672.6 450.1,674.1 449.1,675.5 448.1,677 447,678.4 446,679.8 444.9,681.3 443.9,682.7 442.9,684.2 441.9,685.6 440.8,687.1 439.8,688.5 438.8,689.9 437.7,691.3 436.7,692.8 435.7,694.2 434.6,695.7 433.6,697.3 432.5,698.9 431.4,700.6 430.4,702.3 429.5,704 428.7,705.6 428,707.3 427.4,708.9 426.9,710.6 426.4,712.2 426,713.8 425.7,715.3 425.5,716.9 425.3,718.6 425.2,720.5 425,722.6 424.9,724.8 424.8,727.2 424.8,729.8 424.7,732.8 424.7,736.6 424.7,741.1 424.7,745.7 424.7,749.6 424.7,752.4 424.7,752.4 424.7,617" fill="#4a9fcc"/>
<polyline points="424.9,617 425.1,617.8 425.3,619.1 425.6,620.6 425.9,622.1 426.4,623.6 427,625 427.7,626.4 428.5,627.9 429.4,629.3 430.5,630.8 431.7,632.2 433.1,633.7 434.6,635.2 436.2,636.6 437.7,638 439.3,639.3 441.1,640.5 442.8,641.8 444.4,643 446,644.2 447.4,645.4 448.8,646.6 450,647.9 451.2,649.1 452.2,650.4 453,651.6 453.7,652.9 454.3,654.2 454.8,655.4 455.3,656.5 455.6,657.5 455.8,658.2 455.9,659 455.9,659.7 455.9,660.7 455.8,661.8 455.7,662.9 455.5,664.2 455.1,665.5 454.6,666.9 454,668.2 453.1,669.7 452.1,671.1 451.1,672.6 450.1,674.1 449.1,675.5 448.1,677 447,678.4 446,679.8 444.9,681.3 443.9,682.7 442.9,684.2 441.9,685.6 440.8,687.1 439.8,688.5 438.8,689.9 437.7,691.3 436.7,692.8 435.7,694.2 434.6,695.7 433.6,697.3 432.5,698.9 431.4,700.6 430.4,702.3 429.5,704 428.7,705.6 428,707.3 427.4,708.9 426.9,710.6 426.4,712.2 426,713.8 425.7,715.3 425.5,716.9 425.3,718.6 425.2,720.5 425,722.6 424.9,724.8 424.8,727.2 424.8,729.8 424.7,732.8 424.7,736.6 424.7,741.1 424.7,745.7 424.7,749.6 424.7,752.4" fill="none" stroke="#000" stroke-width="0.7"/>
<text x="255.3" y="765.4" font-size="6.6" font-weight="bold" fill="#000" text-anchor="middle">2</text><text x="303.4" y="765.4" font-size="6.6" font-weight="bold" fill="#000" text-anchor="middle">4</text><text x="351.5" y="765.4" font-size="6.6" font-weight="bold" fill="#000" text-anchor="middle">6</text><text x="399.6" y="765.4" font-size="6.6" font-weight="bold" fill="#000" text-anchor="middle">8</text><text x="245.7" y="617.4" font-size="6.6" font-weight="bold" fill="#000" text-anchor="end">0.5</text><line x1="246" x2="247.7" y1="615.1" y2="615.1" stroke="#333" stroke-width="0.5"/><text x="245.7" y="669.8" font-size="6.6" font-weight="bold" fill="#000" text-anchor="end">0.4</text><line x1="246" x2="247.7" y1="667.5" y2="667.5" stroke="#333" stroke-width="0.5"/><text x="245.7" y="722.2" font-size="6.6" font-weight="bold" fill="#000" text-anchor="end">0.3</text><line x1="246" x2="247.7" y1="719.9" y2="719.9" stroke="#333" stroke-width="0.5"/>
<text x="334.5" y="770.5" font-size="5.77" font-weight="bold" fill="#000" text-anchor="middle">Log2 (PRKDC TPM + 1)</text>
<text transform="translate(236 684) rotate(-90)" font-size="5.8" font-weight="bold" fill="#000" text-anchor="middle" word-spacing="1.0">Arachidonic acid metabolism</text>
<clipPath id="sc25"><rect x="0" y="0" width="423.8" height="775"/></clipPath><g clip-path="url(#sc25)">
<text x="247.8" y="571.5" font-size="5.3" fill="#000" textLength="177.5" lengthAdjust="spacingAndGlyphs" stroke="#000" stroke-width="0.04">log<tspan font-size="3.7" dy="1.1">e</tspan><tspan dy="-1.1">(</tspan><tspan font-style="italic">S</tspan>) = 17.31, <tspan font-style="italic">p</tspan> = 1.74e−25, <tspan>ρ̂</tspan><tspan font-size="3.7" dy="1.1">Spearman</tspan><tspan dy="-1.1"> = −0.44, CI</tspan><tspan font-size="3.7" dy="1.1">95%</tspan><tspan dy="-1.1"> [−0.51, −0.36], </tspan><tspan font-style="italic">n</tspan><tspan font-size="3.7" dy="1.1">pairs</tspan><tspan dy="-1.1"> = 516</tspan></text>
</g>
</g>
</svg></body></html>
